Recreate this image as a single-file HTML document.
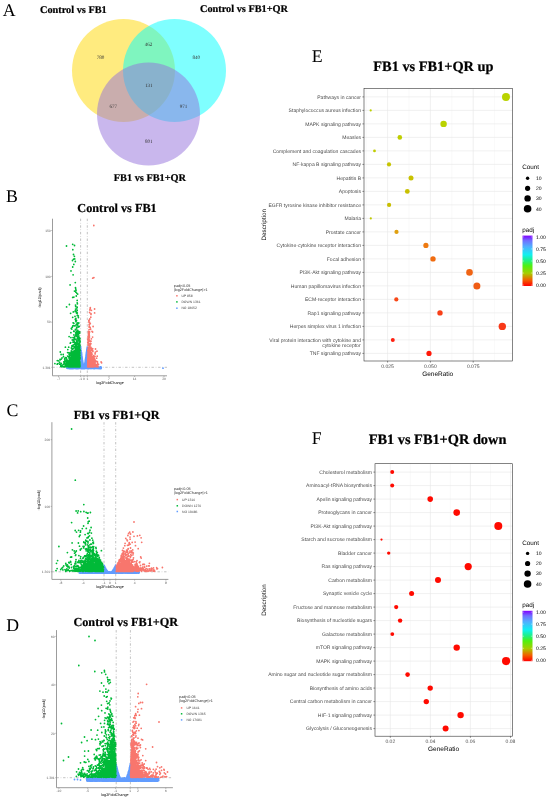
<!DOCTYPE html>
<html><head><meta charset="utf-8"><title>Figure</title>
<style>
html,body{margin:0;padding:0;background:#fff;}
svg{display:block;}
text{text-rendering:geometricPrecision;}
.bt{font-weight:bold;stroke:#000;stroke-width:0.22px;}
.serif{font-family:"Liberation Serif", serif;}
.sans{font-family:"Liberation Sans", sans-serif;}
</style></head><body>
<svg width="550" height="800" viewBox="0 0 550 800">
<defs>
<linearGradient id="rb" x1="0" y1="1" x2="0" y2="0">
<stop offset="0" stop-color="#FF0000"/>
<stop offset="0.12" stop-color="#F26000"/>
<stop offset="0.25" stop-color="#A8CC00"/>
<stop offset="0.4" stop-color="#50F010"/>
<stop offset="0.5" stop-color="#20F080"/>
<stop offset="0.62" stop-color="#10F0F0"/>
<stop offset="0.78" stop-color="#50B0FF"/>
<stop offset="0.9" stop-color="#7070FF"/>
<stop offset="1" stop-color="#8000FF"/>
</linearGradient>
</defs>
<rect width="550" height="800" fill="#fff"/>
<text x="2.7" y="15.6" font-size="17.8" class="serif">A</text>
<text x="6" y="201.7" font-size="17.8" class="serif">B</text>
<text x="6.4" y="416.2" font-size="17.8" class="serif">C</text>
<text x="6.2" y="630.9" font-size="17.8" class="serif">D</text>
<text x="311.8" y="61.7" font-size="17.8" class="serif">E</text>
<text x="311.8" y="444.4" font-size="17.8" class="serif">F</text>
<circle cx="123.5" cy="70.5" r="51.5" fill="#FFD700" fill-opacity="0.5"/>
<circle cx="174.5" cy="70.5" r="51.5" fill="#00FFFF" fill-opacity="0.5"/>
<circle cx="148.5" cy="114" r="51.5" fill="#9370DB" fill-opacity="0.5"/>
<text x="100.5" y="59" font-size="5.1" class="serif" text-anchor="middle" fill="#333">780</text>
<text x="148.5" y="46.2" font-size="5.1" class="serif" text-anchor="middle" fill="#333">462</text>
<text x="196.3" y="59.3" font-size="5.1" class="serif" text-anchor="middle" fill="#333">840</text>
<text x="148.7" y="87.3" font-size="5.1" class="serif" text-anchor="middle" fill="#333">131</text>
<text x="113.2" y="107.7" font-size="5.1" class="serif" text-anchor="middle" fill="#333">677</text>
<text x="183.6" y="107.7" font-size="5.1" class="serif" text-anchor="middle" fill="#333">971</text>
<text x="148.7" y="142.6" font-size="5.1" class="serif" text-anchor="middle" fill="#333">801</text>
<text x="40" y="12.7" font-size="10.3" class="serif bt">Control vs FB1</text>
<text x="200" y="12.4" font-size="10.3" class="serif bt">Control vs FB1+QR</text>
<text x="113.8" y="180.7" font-size="10.3" class="serif bt">FB1 vs FB1+QR</text>
<rect x="364" y="88.5" width="148.3" height="272.5" fill="#fff"/>
<path d="M366.2 88.5V361M409 88.5V361M451.8 88.5V361M494.6 88.5V361" stroke="#EEEEEE" stroke-width="0.35" fill="none"/>
<path d="M387.6 88.5V361M430.4 88.5V361M473.2 88.5V361M364 96.9H512.3M364 110.4H512.3M364 123.9H512.3M364 137.4H512.3M364 150.9H512.3M364 164.4H512.3M364 177.9H512.3M364 191.4H512.3M364 204.9H512.3M364 218.4H512.3M364 231.9H512.3M364 245.4H512.3M364 258.9H512.3M364 272.4H512.3M364 285.9H512.3M364 299.4H512.3M364 312.9H512.3M364 326.4H512.3M364 339.9H512.3M364 353.4H512.3" stroke="#E6E6E6" stroke-width="0.6" fill="none"/>
<circle cx="506" cy="96.9" r="4" fill="#B9D300"/>
<circle cx="370.7" cy="110.4" r="1.1" fill="#BCD000"/>
<circle cx="443.6" cy="123.9" r="3.2" fill="#BAD200"/>
<circle cx="399.8" cy="137.4" r="2.3" fill="#BFCE00"/>
<circle cx="374.5" cy="150.9" r="1.4" fill="#C0CC00"/>
<circle cx="389" cy="164.4" r="2.1" fill="#C6C400"/>
<circle cx="411" cy="177.9" r="2.5" fill="#C8C200"/>
<circle cx="407.3" cy="191.4" r="2.4" fill="#C8C000"/>
<circle cx="389.1" cy="204.9" r="2.1" fill="#C8BE00"/>
<circle cx="370.8" cy="218.4" r="1.1" fill="#BEC800"/>
<circle cx="396.5" cy="231.9" r="2.1" fill="#E0A010"/>
<circle cx="425.9" cy="245.4" r="2.6" fill="#EE7A10"/>
<circle cx="433" cy="258.9" r="2.7" fill="#F06C10"/>
<circle cx="469.5" cy="272.4" r="3.3" fill="#F06414"/>
<circle cx="476.9" cy="285.9" r="3.5" fill="#F05C14"/>
<circle cx="396.3" cy="299.4" r="2.1" fill="#F84818"/>
<circle cx="440" cy="312.9" r="2.7" fill="#F84018"/>
<circle cx="502.3" cy="326.4" r="3.7" fill="#F83818"/>
<circle cx="392.8" cy="339.9" r="2" fill="#FF2010"/>
<circle cx="429" cy="353.4" r="2.6" fill="#FF1808"/>
<rect x="364" y="88.5" width="148.3" height="272.5" fill="none" stroke="#333" stroke-width="0.6"/>
<text x="361" y="98.7" font-size="5.05" class="sans" text-anchor="end" fill="#4D4D4D">Pathways in cancer</text>
<text x="361" y="112.2" font-size="5.05" class="sans" text-anchor="end" fill="#4D4D4D">Staphylococcus aureus infection</text>
<text x="361" y="125.7" font-size="5.05" class="sans" text-anchor="end" fill="#4D4D4D">MAPK signaling pathway</text>
<text x="361" y="139.2" font-size="5.05" class="sans" text-anchor="end" fill="#4D4D4D">Measles</text>
<text x="361" y="152.7" font-size="5.05" class="sans" text-anchor="end" fill="#4D4D4D">Complement and coagulation cascades</text>
<text x="361" y="166.2" font-size="5.05" class="sans" text-anchor="end" fill="#4D4D4D">NF-kappa B signaling pathway</text>
<text x="361" y="179.7" font-size="5.05" class="sans" text-anchor="end" fill="#4D4D4D">Hepatitis B</text>
<text x="361" y="193.2" font-size="5.05" class="sans" text-anchor="end" fill="#4D4D4D">Apoptosis</text>
<text x="361" y="206.7" font-size="5.05" class="sans" text-anchor="end" fill="#4D4D4D">EGFR tyrosine kinase inhibitor resistance</text>
<text x="361" y="220.2" font-size="5.05" class="sans" text-anchor="end" fill="#4D4D4D">Malaria</text>
<text x="361" y="233.7" font-size="5.05" class="sans" text-anchor="end" fill="#4D4D4D">Prostate cancer</text>
<text x="361" y="247.2" font-size="5.05" class="sans" text-anchor="end" fill="#4D4D4D">Cytokine-cytokine receptor interaction</text>
<text x="361" y="260.7" font-size="5.05" class="sans" text-anchor="end" fill="#4D4D4D">Focal adhesion</text>
<text x="361" y="274.2" font-size="5.05" class="sans" text-anchor="end" fill="#4D4D4D">PI3K-Akt signaling pathway</text>
<text x="361" y="287.7" font-size="5.05" class="sans" text-anchor="end" fill="#4D4D4D">Human papillomavirus infection</text>
<text x="361" y="301.2" font-size="5.05" class="sans" text-anchor="end" fill="#4D4D4D">ECM-receptor interaction</text>
<text x="361" y="314.7" font-size="5.05" class="sans" text-anchor="end" fill="#4D4D4D">Rap1 signaling pathway</text>
<text x="361" y="328.2" font-size="5.05" class="sans" text-anchor="end" fill="#4D4D4D">Herpes simplex virus 1 infection</text>
<text x="361" y="341.7" font-size="5.05" class="sans" text-anchor="end" fill="#4D4D4D">Viral protein interaction with cytokine and</text>
<text x="360.6" y="346.7" font-size="5.05" class="sans" text-anchor="end" fill="#4D4D4D">cytokine receptor</text>
<text x="361" y="355.2" font-size="5.05" class="sans" text-anchor="end" fill="#4D4D4D">TNF signaling pathway</text>
<path d="M362.4 96.9H364M362.4 110.4H364M362.4 123.9H364M362.4 137.4H364M362.4 150.9H364M362.4 164.4H364M362.4 177.9H364M362.4 191.4H364M362.4 204.9H364M362.4 218.4H364M362.4 231.9H364M362.4 245.4H364M362.4 258.9H364M362.4 272.4H364M362.4 285.9H364M362.4 299.4H364M362.4 312.9H364M362.4 326.4H364M362.4 339.9H364M362.4 353.4H364M387.6 361V362.6M430.4 361V362.6M473.2 361V362.6" stroke="#333" stroke-width="0.55" fill="none"/>
<text x="387.6" y="367.7" font-size="5.05" class="sans" text-anchor="middle" fill="#4D4D4D">0.025</text>
<text x="430.4" y="367.7" font-size="5.05" class="sans" text-anchor="middle" fill="#4D4D4D">0.050</text>
<text x="473.2" y="367.7" font-size="5.05" class="sans" text-anchor="middle" fill="#4D4D4D">0.075</text>
<text x="437.7" y="375.8" font-size="6.5" class="sans" text-anchor="middle" fill="#000">GeneRatio</text>
<text transform="translate(265.6 224.75) rotate(-90)" font-size="6.3" class="sans" text-anchor="middle" fill="#000">Description</text>
<text x="373.3" y="70.5" font-size="14.35" class="serif bt">FB1 vs FB1+QR up</text>
<text x="522.3" y="169.4" font-size="6.3" class="sans" fill="#000">Count</text>
<circle cx="527.6" cy="178.2" r="1.7" fill="#000"/>
<text x="536" y="180" font-size="5.05" class="sans" fill="#000">10</text>
<circle cx="527.6" cy="188.3" r="2.6" fill="#000"/>
<text x="536" y="190.1" font-size="5.05" class="sans" fill="#000">20</text>
<circle cx="527.6" cy="198.4" r="3.2" fill="#000"/>
<text x="536" y="200.2" font-size="5.05" class="sans" fill="#000">30</text>
<circle cx="527.6" cy="208.8" r="3.8" fill="#000"/>
<text x="536" y="210.6" font-size="5.05" class="sans" fill="#000">40</text>
<text x="522.3" y="232.2" font-size="6.3" class="sans" fill="#000">padj</text>
<rect x="522.5" y="235.6" width="10" height="50.4" fill="url(#rb)"/>
<text x="536" y="238.7" font-size="5.05" class="sans" fill="#000">1.00</text>
<path d="M522.5 236.9h1.6M530.9 236.9h1.6" stroke="#fff" stroke-width="0.4"/>
<text x="536" y="250.75" font-size="5.05" class="sans" fill="#000">0.75</text>
<path d="M522.5 248.95h1.6M530.9 248.95h1.6" stroke="#fff" stroke-width="0.4"/>
<text x="536" y="262.8" font-size="5.05" class="sans" fill="#000">0.50</text>
<path d="M522.5 261h1.6M530.9 261h1.6" stroke="#fff" stroke-width="0.4"/>
<text x="536" y="274.85" font-size="5.05" class="sans" fill="#000">0.25</text>
<path d="M522.5 273.05h1.6M530.9 273.05h1.6" stroke="#fff" stroke-width="0.4"/>
<text x="536" y="286.9" font-size="5.05" class="sans" fill="#000">0.00</text>
<path d="M522.5 285.1h1.6M530.9 285.1h1.6" stroke="#fff" stroke-width="0.4"/>
<rect x="375" y="463.7" width="137.3" height="272.5" fill="#fff"/>
<path d="M410.3 463.7V736.2M450.4 463.7V736.2M490.5 463.7V736.2" stroke="#EEEEEE" stroke-width="0.35" fill="none"/>
<path d="M390.3 463.7V736.2M430.4 463.7V736.2M470.4 463.7V736.2M510.5 463.7V736.2M375 472.1H512.3M375 485.6H512.3M375 499.1H512.3M375 512.6H512.3M375 526.1H512.3M375 539.6H512.3M375 553.1H512.3M375 566.6H512.3M375 580.1H512.3M375 593.6H512.3M375 607.1H512.3M375 620.6H512.3M375 634.1H512.3M375 647.6H512.3M375 661.1H512.3M375 674.6H512.3M375 688.1H512.3M375 701.6H512.3M375 715.1H512.3M375 728.6H512.3" stroke="#E6E6E6" stroke-width="0.6" fill="none"/>
<circle cx="392.2" cy="472.1" r="2" fill="#FF0A00"/>
<circle cx="392.2" cy="485.6" r="2" fill="#FF0A00"/>
<circle cx="430.2" cy="499.1" r="2.8" fill="#FF0A00"/>
<circle cx="456.7" cy="512.6" r="3.3" fill="#FF0A00"/>
<circle cx="498.3" cy="526.1" r="4" fill="#FF0A00"/>
<circle cx="381.5" cy="539.6" r="1.1" fill="#FF0A00"/>
<circle cx="388.7" cy="553.1" r="1.7" fill="#FF0A00"/>
<circle cx="468.2" cy="566.6" r="3.6" fill="#FF0A00"/>
<circle cx="438" cy="580.1" r="3" fill="#FF0A00"/>
<circle cx="411.6" cy="593.6" r="2.5" fill="#FF0A00"/>
<circle cx="396.2" cy="607.1" r="2.1" fill="#FF0A00"/>
<circle cx="400.1" cy="620.6" r="2.2" fill="#FF0A00"/>
<circle cx="392.3" cy="634.1" r="1.9" fill="#FF0A00"/>
<circle cx="456.7" cy="647.6" r="3.2" fill="#FF0A00"/>
<circle cx="506.1" cy="661.1" r="4.1" fill="#FF0A00"/>
<circle cx="407.6" cy="674.6" r="2.3" fill="#FF0A00"/>
<circle cx="430.2" cy="688.1" r="2.7" fill="#FF0A00"/>
<circle cx="426.3" cy="701.6" r="2.7" fill="#FF0A00"/>
<circle cx="460.6" cy="715.1" r="3.2" fill="#FF0A00"/>
<circle cx="445.6" cy="728.6" r="3" fill="#FF0A00"/>
<rect x="375" y="463.7" width="137.3" height="272.5" fill="none" stroke="#333" stroke-width="0.6"/>
<text x="372" y="473.9" font-size="5.05" class="sans" text-anchor="end" fill="#4D4D4D">Cholesterol metabolism</text>
<text x="372" y="487.4" font-size="5.05" class="sans" text-anchor="end" fill="#4D4D4D">Aminoacyl-tRNA biosynthesis</text>
<text x="372" y="500.9" font-size="5.05" class="sans" text-anchor="end" fill="#4D4D4D">Apelin signaling pathway</text>
<text x="372" y="514.4" font-size="5.05" class="sans" text-anchor="end" fill="#4D4D4D">Proteoglycans in cancer</text>
<text x="372" y="527.9" font-size="5.05" class="sans" text-anchor="end" fill="#4D4D4D">PI3K-Akt signaling pathway</text>
<text x="372" y="541.4" font-size="5.05" class="sans" text-anchor="end" fill="#4D4D4D">Starch and sucrose metabolism</text>
<text x="372" y="554.9" font-size="5.05" class="sans" text-anchor="end" fill="#4D4D4D">Bladder cancer</text>
<text x="372" y="568.4" font-size="5.05" class="sans" text-anchor="end" fill="#4D4D4D">Ras signaling pathway</text>
<text x="372" y="581.9" font-size="5.05" class="sans" text-anchor="end" fill="#4D4D4D">Carbon metabolism</text>
<text x="372" y="595.4" font-size="5.05" class="sans" text-anchor="end" fill="#4D4D4D">Synaptic vesicle cycle</text>
<text x="372" y="608.9" font-size="5.05" class="sans" text-anchor="end" fill="#4D4D4D">Fructose and mannose metabolism</text>
<text x="372" y="622.4" font-size="5.05" class="sans" text-anchor="end" fill="#4D4D4D">Biosynthesis of nucleotide sugars</text>
<text x="372" y="635.9" font-size="5.05" class="sans" text-anchor="end" fill="#4D4D4D">Galactose metabolism</text>
<text x="372" y="649.4" font-size="5.05" class="sans" text-anchor="end" fill="#4D4D4D">mTOR signaling pathway</text>
<text x="372" y="662.9" font-size="5.05" class="sans" text-anchor="end" fill="#4D4D4D">MAPK signaling pathway</text>
<text x="372" y="676.4" font-size="5.05" class="sans" text-anchor="end" fill="#4D4D4D">Amino sugar and nucleotide sugar metabolism</text>
<text x="372" y="689.9" font-size="5.05" class="sans" text-anchor="end" fill="#4D4D4D">Biosynthesis of amino acids</text>
<text x="372" y="703.4" font-size="5.05" class="sans" text-anchor="end" fill="#4D4D4D">Central carbon metabolism in cancer</text>
<text x="372" y="716.9" font-size="5.05" class="sans" text-anchor="end" fill="#4D4D4D">HIF-1 signaling pathway</text>
<text x="372" y="730.4" font-size="5.05" class="sans" text-anchor="end" fill="#4D4D4D">Glycolysis / Gluconeogenesis</text>
<path d="M373.4 472.1H375M373.4 485.6H375M373.4 499.1H375M373.4 512.6H375M373.4 526.1H375M373.4 539.6H375M373.4 553.1H375M373.4 566.6H375M373.4 580.1H375M373.4 593.6H375M373.4 607.1H375M373.4 620.6H375M373.4 634.1H375M373.4 647.6H375M373.4 661.1H375M373.4 674.6H375M373.4 688.1H375M373.4 701.6H375M373.4 715.1H375M373.4 728.6H375M390.3 736.2V737.8M430.4 736.2V737.8M470.4 736.2V737.8M510.5 736.2V737.8" stroke="#333" stroke-width="0.55" fill="none"/>
<text x="390.3" y="742.9" font-size="5.05" class="sans" text-anchor="middle" fill="#4D4D4D">0.02</text>
<text x="430.4" y="742.9" font-size="5.05" class="sans" text-anchor="middle" fill="#4D4D4D">0.04</text>
<text x="470.4" y="742.9" font-size="5.05" class="sans" text-anchor="middle" fill="#4D4D4D">0.06</text>
<text x="510.5" y="742.9" font-size="5.05" class="sans" text-anchor="middle" fill="#4D4D4D">0.08</text>
<text x="443.6" y="751" font-size="6.5" class="sans" text-anchor="middle" fill="#000">GeneRatio</text>
<text transform="translate(265.6 599.95) rotate(-90)" font-size="6.3" class="sans" text-anchor="middle" fill="#000">Description</text>
<text x="368.7" y="444.1" font-size="14.35" class="serif bt">FB1 vs FB1+QR down</text>
<text x="522.3" y="544.6" font-size="6.3" class="sans" fill="#000">Count</text>
<circle cx="527.6" cy="553.4" r="1.7" fill="#000"/>
<text x="536" y="555.2" font-size="5.05" class="sans" fill="#000">10</text>
<circle cx="527.6" cy="563.5" r="2.6" fill="#000"/>
<text x="536" y="565.3" font-size="5.05" class="sans" fill="#000">20</text>
<circle cx="527.6" cy="573.6" r="3.2" fill="#000"/>
<text x="536" y="575.4" font-size="5.05" class="sans" fill="#000">30</text>
<circle cx="527.6" cy="584" r="3.8" fill="#000"/>
<text x="536" y="585.8" font-size="5.05" class="sans" fill="#000">40</text>
<text x="522.3" y="607.4" font-size="6.3" class="sans" fill="#000">padj</text>
<rect x="522.5" y="610.8" width="10" height="50.4" fill="url(#rb)"/>
<text x="536" y="613.9" font-size="5.05" class="sans" fill="#000">1.00</text>
<path d="M522.5 612.1h1.6M530.9 612.1h1.6" stroke="#fff" stroke-width="0.4"/>
<text x="536" y="625.95" font-size="5.05" class="sans" fill="#000">0.75</text>
<path d="M522.5 624.15h1.6M530.9 624.15h1.6" stroke="#fff" stroke-width="0.4"/>
<text x="536" y="638" font-size="5.05" class="sans" fill="#000">0.50</text>
<path d="M522.5 636.2h1.6M530.9 636.2h1.6" stroke="#fff" stroke-width="0.4"/>
<text x="536" y="650.05" font-size="5.05" class="sans" fill="#000">0.25</text>
<path d="M522.5 648.25h1.6M530.9 648.25h1.6" stroke="#fff" stroke-width="0.4"/>
<text x="536" y="662.1" font-size="5.05" class="sans" fill="#000">0.00</text>
<path d="M522.5 660.3h1.6M530.9 660.3h1.6" stroke="#fff" stroke-width="0.4"/>
<path d="M80.6 218.7V375.8M87.3 218.7V375.8M52.5 367.3H167" stroke="#9a9a9a" stroke-width="0.6" stroke-dasharray="2.4 1.8 0.6 1.8" fill="none"/>
<path d="M80.6 347.3L80.8 348.5L80.9 349.7L81.1 350.9L81.3 352.1L81.4 353.3L81.6 354.4L81.8 355.6L81.9 356.8L82.1 357.9L82.3 359.0L82.4 360.2L82.6 361.3L82.8 362.4L82.9 363.4L83.1 364.5L83.3 365.6L83.4 366.6L83.6 367.6L83.8 368.5L83.9 369.3L84.1 368.5L84.3 367.6L84.5 366.6L84.6 365.6L84.8 364.5L85.0 363.4L85.1 362.4L85.3 361.3L85.5 360.2L85.6 359.0L85.8 357.9L86.0 356.8L86.1 355.6L86.3 354.4L86.5 353.3L86.6 352.1L86.8 350.9L87.0 349.7L87.1 348.5L87.3 347.3L87.3 369.0L80.6 369.0Z" fill="#619CFF"/>
<rect x="68" y="367.5" width="32.3" height="1.5" fill="#619CFF"/>
<path d="M82.5 367.8h0M98.7 367.9h0M84.4 367.7h0M73.3 367.8h0M88.6 367.5h0M70.2 368.1h0M70.1 367.4h0M90.8 368.4h0M100.7 367.2h0M89.4 367.7h0M72.4 368.5h0M85.1 368.4h0M73.5 368.2h0M68.0 367.9h0M82.1 367.4h0M84.8 367.7h0M84.1 367.6h0M82.7 368.1h0M101.2 367.2h0M95.8 367.6h0M77.8 368.2h0M76.9 368.4h0M93.3 368.0h0M96.0 368.0h0M99.9 367.4h0M67.0 368.2h0M98.2 367.9h0M100.6 368.0h0M69.5 367.7h0M93.7 368.1h0M70.0 368.1h0M100.1 367.5h0M71.0 368.2h0M70.5 368.4h0M94.3 368.3h0M86.2 367.9h0M73.5 367.5h0M71.5 367.7h0M71.0 368.0h0M74.3 368.1h0M100.3 367.5h0M77.4 367.3h0M74.2 368.0h0M96.3 367.7h0M70.4 367.2h0M74.3 368.2h0M93.5 368.1h0M77.2 368.4h0M70.1 367.7h0M75.3 367.7h0M79.7 367.9h0M99.9 367.9h0M86.7 367.4h0M73.3 368.3h0M98.2 367.4h0M75.6 368.3h0M92.4 367.3h0M73.7 367.3h0M97.3 367.7h0M81.5 368.4h0M68.3 367.2h0M75.2 367.6h0M75.8 367.4h0M87.5 368.1h0M73.0 367.6h0M69.4 368.2h0M86.2 367.4h0M88.1 368.1h0M98.5 368.2h0M67.6 368.2h0M82.3 368.4h0M73.0 368.0h0M86.6 368.3h0M79.4 367.3h0M100.6 367.6h0M90.7 367.7h0M71.8 368.5h0M67.6 367.3h0M91.0 367.2h0M67.7 367.7h0M83.5 367.6h0M77.9 367.2h0M69.6 367.8h0M92.3 367.3h0M92.3 367.6h0M94.2 367.3h0M79.1 367.6h0M97.9 367.4h0M81.3 367.5h0M96.6 367.8h0M88.4 368.0h0M87.0 367.7h0M69.8 367.7h0M101.1 367.4h0M92.0 368.0h0M92.2 367.7h0M82.1 367.4h0M69.9 367.5h0M68.0 367.7h0M83.5 368.2h0M91.0 367.9h0M88.1 367.3h0M75.8 368.5h0M77.3 367.6h0M73.9 368.3h0M98.1 367.6h0M82.2 367.3h0M78.2 367.6h0M73.8 367.9h0M94.6 367.3h0M97.2 368.0h0M87.0 368.1h0M71.7 367.9h0M95.7 367.4h0M91.4 367.3h0M76.5 368.3h0M82.5 368.1h0M74.3 368.0h0M88.5 367.9h0M77.8 367.4h0M100.7 367.9h0M69.6 368.5h0M96.9 368.4h0M91.3 367.8h0M77.6 367.5h0M67.7 368.3h0M82.6 368.5h0M95.5 368.2h0M71.8 368.4h0M88.6 367.9h0M88.6 367.6h0M94.7 367.3h0M90.5 368.2h0M83.3 368.3h0M67.4 367.9h0M91.5 368.3h0M76.3 368.1h0M90.9 367.8h0M88.1 367.5h0M80.5 367.5h0M98.1 368.4h0M99.0 367.6h0M71.5 367.9h0M88.5 367.3h0M79.9 367.8h0M97.2 367.5h0M99.4 367.9h0M89.3 368.2h0M91.8 367.4h0M89.0 367.6h0M74.3 367.3h0M100.6 367.2h0M85.4 367.5h0M78.0 367.3h0M96.4 368.0h0M69.8 367.9h0M85.9 367.5h0M83.7 368.5h0M94.8 368.4h0M94.4 368.3h0M78.5 367.5h0M71.8 368.3h0M84.7 367.6h0M95.8 367.6h0M99.4 367.9h0M99.6 368.4h0M74.6 367.8h0M77.0 367.6h0M88.9 367.8h0M95.9 367.8h0M77.7 368.0h0M96.0 367.3h0M74.1 367.4h0M100.2 367.8h0M86.7 368.2h0M85.4 367.8h0M87.8 368.5h0M100.3 367.8h0M80.7 367.5h0M86.3 367.9h0M90.7 368.4h0M85.5 368.0h0M99.8 367.3h0M76.2 367.9h0M71.4 367.9h0M95.0 367.3h0M83.3 368.1h0M73.6 367.7h0M98.7 368.3h0M93.7 368.5h0M73.7 368.2h0M90.6 368.1h0M79.2 367.7h0M70.6 367.5h0M71.2 367.8h0M75.6 368.2h0M85.2 367.9h0M79.9 368.0h0M85.2 368.3h0M74.0 367.7h0M88.9 367.8h0M96.2 367.7h0M96.4 368.2h0M92.4 367.4h0M98.0 368.1h0M77.8 367.3h0M74.5 367.2h0M97.4 368.3h0M75.2 367.6h0M75.9 368.4h0M95.5 368.0h0M94.1 368.3h0M80.8 367.6h0M67.6 368.2h0M90.4 367.3h0M100.2 368.3h0M84.3 367.5h0M84.2 367.6h0M73.5 368.4h0M70.6 368.5h0M85.9 367.8h0M86.5 368.3h0M73.3 368.2h0M95.8 367.2h0M98.8 368.4h0M69.1 367.3h0M82.8 367.5h0M78.2 367.9h0M84.7 367.9h0M87.6 368.5h0M91.0 367.4h0M73.2 367.9h0M92.4 368.0h0M73.7 368.3h0M84.6 368.5h0M97.6 367.5h0M91.2 367.4h0M88.6 368.0h0M87.6 367.8h0M100.7 367.5h0M75.9 367.3h0M92.5 367.5h0M94.9 368.0h0M97.8 367.4h0M90.8 367.5h0M93.2 368.0h0M91.8 368.4h0M78.7 367.9h0M67.4 368.0h0M88.9 367.7h0M75.0 367.3h0M89.8 368.1h0M89.6 367.8h0M85.3 368.0h0M101.3 367.7h0M91.1 367.5h0M100.6 368.5h0M88.1 367.5h0M75.8 368.0h0M68.7 368.2h0M79.9 368.4h0M75.6 367.3h0M85.9 367.8h0M100.2 367.8h0M101.1 367.7h0M94.8 368.4h0M87.5 367.5h0M68.5 367.3h0M72.5 367.9h0M72.8 367.9h0M88.0 368.4h0M99.4 368.0h0M85.1 367.7h0M79.5 368.1h0M89.5 367.8h0M76.7 367.6h0M77.2 368.5h0M75.4 368.4h0M72.4 367.5h0M80.4 367.3h0M92.7 368.4h0M100.9 367.3h0M69.5 367.3h0M81.7 367.9h0M100.4 368.2h0M85.0 367.3h0M91.8 367.9h0M100.6 367.4h0M87.7 368.4h0M88.4 367.9h0M74.0 368.4h0M85.1 368.3h0M82.2 367.6h0M82.6 368.2h0M87.0 368.0h0M93.7 367.8h0M101.2 367.3h0M92.2 368.2h0M70.9 367.3h0M93.9 367.7h0M79.3 368.1h0M90.5 367.8h0M87.3 367.7h0M92.8 368.3h0M75.5 367.2h0M98.4 367.4h0M68.4 368.4h0M76.3 367.9h0M88.4 368.4h0M85.6 368.4h0M70.0 367.6h0M85.9 367.7h0M79.8 367.9h0M74.2 368.1h0M92.5 367.4h0M69.6 368.3h0M94.8 367.7h0M93.4 368.2h0M81.6 368.2h0M94.8 368.0h0M89.4 367.2h0M78.2 367.8h0M92.6 367.3h0M81.7 368.0h0M70.3 367.4h0M69.7 368.4h0M86.4 367.9h0M90.5 368.1h0M93.6 368.4h0M74.3 367.6h0M69.8 368.1h0M91.9 367.6h0M76.7 368.3h0M79.3 367.6h0M79.6 368.3h0M91.3 367.8h0M98.5 367.3h0M98.3 367.9h0M94.5 368.1h0M77.9 368.0h0M99.1 367.3h0M75.5 368.0h0M79.5 368.0h0M80.6 368.0h0M73.7 367.8h0M94.3 367.8h0M95.7 367.8h0M73.1 367.5h0M97.2 368.1h0M67.8 367.8h0M85.7 367.8h0M100.1 367.7h0M94.6 368.4h0M85.8 367.5h0M69.9 368.4h0M92.3 367.3h0M69.9 367.7h0M71.9 367.5h0M89.3 368.2h0M74.6 367.5h0M84.9 367.5h0M80.5 368.1h0M100.2 367.6h0M83.9 367.8h0M91.7 367.6h0M98.4 368.0h0M95.3 367.6h0M96.3 367.5h0M95.6 367.3h0M99.9 367.7h0M85.0 367.6h0M94.5 368.0h0M81.4 368.3h0M92.4 367.2h0M79.9 368.3h0M74.0 367.9h0M77.0 367.2h0M69.0 368.1h0M70.9 367.7h0M93.6 368.3h0M69.1 367.9h0M87.0 367.3h0M68.2 368.4h0M73.3 368.2h0M75.1 367.6h0M87.4 368.2h0M73.3 368.1h0M72.9 367.5h0M77.7 367.8h0M95.0 367.9h0M75.9 367.3h0M98.4 368.1h0M85.8 367.3h0M83.6 368.2h0M68.7 367.3h0M94.5 368.0h0M85.1 367.8h0M76.4 367.2h0M89.6 368.2h0M67.4 367.9h0M79.7 367.5h0M91.5 367.7h0M72.4 368.3h0M78.0 368.2h0M96.8 367.8h0M88.8 367.2h0M76.1 367.8h0M72.2 367.5h0M67.0 367.4h0M96.0 367.4h0M69.8 368.1h0M91.6 368.4h0M83.5 367.9h0M99.8 367.7h0M96.4 368.1h0M94.1 368.0h0M98.4 368.4h0M95.3 368.2h0M85.6 367.8h0M72.4 367.4h0M77.7 368.1h0M69.6 368.1h0M83.0 367.6h0M79.3 367.6h0M70.6 368.0h0M82.8 367.2h0M95.5 367.6h0M67.4 368.0h0M91.4 368.2h0M86.3 367.9h0M67.4 367.2h0M94.4 368.2h0M88.1 368.1h0M79.9 367.8h0M77.2 368.1h0M80.5 367.6h0M75.8 368.2h0M92.1 368.1h0M99.4 367.8h0M91.8 368.1h0M95.4 368.4h0M71.8 368.4h0M90.2 367.6h0M73.2 368.0h0M95.7 367.7h0M70.1 368.2h0M72.4 368.3h0M81.0 368.4h0M98.6 367.9h0M84.5 367.7h0M93.3 367.4h0M80.2 368.1h0M81.1 368.5h0M80.7 367.6h0M100.7 367.5h0M89.6 367.7h0M67.6 368.1h0M78.7 367.7h0M70.6 368.0h0M84.5 367.5h0M95.3 367.7h0M72.4 367.5h0M98.0 367.8h0M79.1 367.8h0M71.9 367.6h0M100.8 367.8h0M91.5 367.4h0M73.8 367.3h0M88.5 368.2h0M69.9 368.2h0M86.8 367.6h0M78.3 367.3h0M79.4 367.9h0M71.3 367.2h0M71.7 367.3h0M85.6 367.8h0M86.2 368.2h0M98.2 367.2h0M95.0 367.7h0M71.2 367.4h0M76.9 367.3h0M75.3 367.8h0M95.5 368.3h0M85.8 368.4h0M68.1 368.3h0M100.9 367.3h0M89.6 368.1h0M90.0 367.5h0M80.1 367.7h0M94.6 368.5h0M73.8 367.9h0M71.9 368.0h0M86.5 368.3h0M84.8 368.2h0M86.5 368.1h0M89.0 368.5h0M90.0 368.3h0M99.9 367.7h0M83.1 368.0h0M88.4 367.6h0M93.0 367.5h0M83.7 367.2h0M95.8 367.4h0M81.0 367.9h0M86.4 367.3h0M85.0 367.8h0M81.8 367.3h0M78.0 368.4h0M91.9 367.3h0M92.1 367.7h0M92.8 368.1h0M87.4 368.4h0M71.3 367.9h0M84.2 368.0h0M68.8 367.6h0M85.0 368.2h0M77.5 368.0h0M75.1 368.4h0M98.3 367.2h0M89.8 367.4h0M81.5 367.5h0M74.6 367.5h0M86.4 367.3h0M70.4 367.5h0M71.2 367.8h0M99.6 368.5h0M75.4 368.1h0M78.1 368.4h0M97.7 367.4h0M80.6 368.0h0M87.1 368.4h0M68.1 367.3h0M77.6 367.9h0M99.0 367.2h0M83.2 368.2h0M77.1 367.3h0M97.8 368.2h0M95.7 368.0h0M83.2 368.3h0M97.2 367.2h0M73.9 367.7h0M73.6 367.4h0M68.7 368.4h0M91.9 368.1h0M97.9 367.4h0M91.5 368.3h0M90.9 367.3h0M82.3 368.4h0M74.7 368.1h0M91.4 368.2h0M73.2 368.2h0M89.8 367.5h0M79.8 367.6h0M97.3 367.7h0M74.9 368.1h0M98.8 367.6h0M76.5 367.7h0M70.1 367.2h0M82.1 367.8h0M85.2 368.4h0M87.6 368.1h0M75.6 367.5h0M70.0 368.1h0M92.9 368.2h0M76.6 367.8h0M73.4 367.3h0M100.9 368.5h0M82.8 367.5h0M80.2 367.3h0M84.1 368.3h0M86.1 367.7h0M79.3 367.6h0M93.9 367.8h0M84.3 367.4h0M90.5 367.8h0M99.6 368.3h0M93.7 368.3h0M87.9 368.2h0M82.1 367.5h0M94.0 367.5h0M75.1 367.9h0M74.6 367.7h0M84.1 368.5h0M87.5 367.6h0M86.6 367.4h0M73.2 368.3h0M67.6 367.9h0M81.9 367.9h0M76.0 367.5h0M69.5 367.3h0M86.5 367.8h0M94.2 368.2h0M72.0 368.1h0M68.5 368.1h0M88.3 367.8h0M76.1 367.7h0M70.0 367.4h0M72.9 368.2h0M72.5 367.6h0M95.5 367.5h0M69.1 368.0h0M79.5 368.2h0M100.3 368.4h0M83.8 367.5h0M100.8 368.3h0M82.6 367.5h0M68.3 368.2h0M97.5 368.3h0M80.5 368.1h0M81.6 368.4h0M68.2 367.2h0M93.2 367.5h0M74.9 368.2h0M85.9 368.2h0M82.8 367.3h0M79.5 368.1h0M100.7 367.7h0M68.4 368.0h0M89.3 368.4h0M78.8 367.6h0M96.6 367.7h0M97.4 367.9h0M80.5 367.4h0M80.1 367.5h0M74.4 368.0h0M73.3 367.8h0M72.6 368.2h0M74.4 367.9h0M77.6 367.9h0M101.1 367.6h0M96.6 368.2h0M80.1 368.4h0M90.7 368.0h0M76.4 368.5h0M73.2 368.2h0M80.5 367.3h0M91.5 368.2h0M79.4 368.3h0M99.1 368.0h0M93.3 367.6h0M98.1 368.5h0M78.0 368.0h0M69.9 367.4h0M78.2 367.5h0M84.8 368.4h0M80.5 368.2h0M68.4 368.3h0M87.4 368.5h0M77.7 367.9h0M85.7 368.3h0M91.2 368.2h0M91.9 367.6h0M72.0 368.2h0M76.6 367.6h0M80.9 368.0h0M96.7 368.2h0M77.0 368.1h0M74.4 368.4h0M67.8 367.7h0M86.4 367.4h0M100.5 368.1h0M90.0 367.3h0M74.4 367.6h0M89.9 367.3h0M96.8 368.2h0M88.7 368.4h0M81.7 368.0h0M69.1 368.0h0M78.3 367.9h0M76.6 368.3h0M80.8 367.9h0M72.7 367.6h0M75.2 368.4h0M78.7 368.0h0M72.2 367.7h0M91.1 367.8h0M91.0 368.5h0M80.4 368.0h0M69.2 368.0h0M68.9 367.9h0M87.1 367.9h0M78.2 368.2h0M67.8 368.0h0M97.6 367.8h0M76.0 367.6h0M73.4 367.9h0M88.1 367.3h0M79.4 367.8h0M99.3 367.5h0M88.5 367.7h0M81.1 368.0h0M76.5 367.4h0M97.2 368.0h0M98.2 368.5h0M71.7 367.8h0M77.6 368.0h0M100.5 368.3h0M73.6 368.2h0M90.3 368.2h0M67.0 367.8h0M80.5 368.2h0M83.9 367.7h0M85.8 367.7h0M86.2 367.4h0M100.2 368.1h0M78.9 367.3h0M77.7 367.6h0M90.9 367.6h0M100.1 367.4h0M72.5 367.7h0M83.8 367.8h0M79.7 368.1h0M92.7 367.8h0M75.1 368.2h0M78.1 368.3h0M84.6 368.3h0M69.2 368.4h0M70.5 367.6h0M70.9 367.9h0M93.5 367.9h0M72.6 367.4h0M96.8 368.4h0M75.7 367.8h0M94.3 368.0h0M91.6 368.2h0M91.5 368.1h0M78.5 367.5h0M95.9 367.4h0M86.5 368.0h0M91.2 367.7h0M95.5 367.5h0M71.3 368.0h0M90.0 368.2h0M73.3 368.5h0M87.1 367.3h0M100.3 368.3h0M90.6 368.0h0M88.7 368.0h0M99.0 367.2h0M68.7 367.6h0M71.1 368.4h0M76.8 367.5h0M101.1 368.3h0M78.3 368.5h0M85.6 367.9h0M79.8 368.1h0M94.5 367.4h0M76.7 368.0h0M88.2 367.5h0M100.6 368.0h0M90.8 367.8h0M94.4 368.3h0M73.0 368.4h0M99.0 368.2h0M83.7 368.3h0M78.1 368.5h0M86.4 368.3h0M88.4 368.1h0M74.8 367.9h0M79.5 368.2h0M68.8 368.4h0M97.6 368.1h0M69.7 368.3h0M83.6 367.2h0M73.9 367.4h0M83.6 368.0h0M94.7 368.0h0M69.0 367.8h0M89.5 367.7h0M76.5 367.3h0M96.7 367.2h0M82.2 367.4h0M91.9 368.3h0M67.9 368.3h0M71.1 368.4h0M79.3 367.5h0M77.6 367.8h0M67.4 368.2h0M99.9 368.5h0M85.1 367.4h0M94.2 367.5h0M80.7 367.5h0M95.4 367.5h0M100.8 368.4h0M99.6 368.0h0M91.2 368.2h0M98.2 368.5h0M86.8 368.2h0M80.3 368.0h0M89.5 367.4h0M79.5 367.7h0M79.1 368.1h0M98.0 368.1h0M70.2 368.1h0M92.4 368.2h0M92.5 367.8h0M90.3 368.3h0M70.6 368.3h0M79.0 367.9h0M67.3 367.8h0M80.8 368.1h0M85.4 367.3h0M74.0 367.4h0M78.0 367.5h0M70.7 367.2h0M81.8 367.2h0M74.5 368.0h0M91.2 368.3h0M76.4 367.6h0M99.5 368.1h0M73.3 368.0h0M100.9 368.3h0M88.8 368.0h0M89.1 368.2h0M88.1 367.3h0M96.4 367.7h0M84.3 367.8h0M70.9 367.4h0M90.7 367.9h0M89.8 368.0h0M80.2 368.2h0M87.6 367.8h0M84.7 368.5h0M88.5 367.9h0M87.4 367.7h0M99.0 368.3h0M83.1 367.2h0M92.3 368.1h0M92.3 367.2h0M80.8 367.4h0M71.3 367.2h0M83.8 368.2h0M95.8 367.7h0M99.2 367.4h0M94.4 367.8h0M101.1 368.4h0M96.8 367.6h0M75.6 367.5h0M82.6 367.8h0M96.7 368.2h0M76.6 367.7h0M69.5 367.8h0M94.0 367.9h0M75.3 367.5h0M96.3 367.5h0M85.8 367.3h0M94.3 368.3h0M79.5 368.4h0M68.3 368.1h0M96.7 367.4h0M71.0 368.3h0M80.3 367.4h0M88.2 367.3h0M69.5 367.2h0M74.1 367.7h0M97.1 367.6h0M73.8 367.6h0M81.8 368.5h0M78.6 368.1h0M88.6 368.1h0M87.7 367.6h0M73.2 368.3h0M90.8 367.9h0M71.4 368.3h0M99.3 367.7h0M79.3 368.2h0M101.1 367.6h0M92.3 368.0h0M77.6 368.0h0M72.0 367.7h0M81.6 367.4h0M81.0 367.9h0M84.4 367.3h0M78.9 367.6h0M75.1 367.7h0M76.8 367.4h0M76.8 367.4h0M90.2 367.9h0M99.0 368.0h0M92.5 367.7h0M82.4 368.4h0M81.4 368.1h0M82.1 367.3h0M77.0 367.6h0M90.1 368.2h0M81.1 368.3h0M97.7 368.2h0M81.4 368.1h0M95.1 367.4h0M87.3 367.8h0M70.4 367.3h0M70.0 368.0h0M79.8 367.6h0M90.0 368.1h0M97.8 367.3h0M67.8 367.7h0M83.1 368.0h0M82.9 368.1h0M90.0 367.7h0M100.3 367.2h0M80.6 348.6h0M86.4 352.7h0M83.4 366.8h0M81.5 352.7h0M82.8 366.0h0M85.7 365.4h0M84.9 364.1h0M81.2 352.8h0M86.6 362.5h0M82.0 357.1h0M87.2 365.2h0M85.6 361.3h0M84.7 366.3h0M81.9 358.7h0M83.1 365.2h0M85.4 364.2h0M82.1 363.3h0M85.9 360.4h0M81.0 350.6h0M84.9 364.7h0M85.7 358.3h0M80.7 366.3h0M84.9 364.0h0M81.3 356.1h0M83.7 367.7h0M87.2 348.8h0M83.6 367.9h0M82.6 361.0h0M82.4 360.9h0M87.0 353.4h0M86.0 360.4h0M85.4 364.1h0M82.3 361.5h0M82.3 361.8h0M84.4 368.0h0M86.1 360.0h0M82.8 364.3h0M82.5 364.2h0M81.2 366.8h0M85.7 367.6h0M86.3 359.6h0M81.6 360.4h0M86.3 360.1h0M86.0 357.3h0M83.5 367.3h0M85.3 363.3h0M80.9 358.0h0M81.4 352.3h0M81.0 357.7h0M86.9 353.4h0M84.4 368.0h0M86.4 353.8h0M81.5 353.4h0M86.7 367.2h0M81.2 354.2h0M87.3 362.6h0M81.1 352.7h0M82.3 361.6h0M83.2 364.9h0M83.4 365.9h0M86.5 363.1h0M83.2 364.3h0M86.2 362.0h0M85.8 358.3h0M84.7 365.5h0M83.7 367.6h0M86.5 357.1h0M81.4 353.9h0M84.6 366.9h0M81.6 359.9h0M83.0 364.3h0M81.8 358.4h0M81.0 353.8h0M86.0 361.3h0M81.3 360.0h0M86.6 359.7h0M84.4 366.9h0M81.3 355.1h0M86.2 355.1h0M82.0 362.7h0M81.2 358.7h0M81.0 352.3h0M86.2 360.3h0M84.8 364.0h0M81.1 352.0h0M82.8 363.5h0M81.6 355.4h0M86.2 354.6h0M81.4 352.4h0M81.3 352.7h0M81.3 359.9h0M84.2 367.9h0M82.5 365.4h0M81.9 361.8h0M85.3 360.8h0M84.9 363.5h0M86.3 355.6h0M86.1 355.5h0M81.1 364.3h0M80.8 349.9h0M82.7 364.1h0M86.6 356.2h0M81.7 361.7h0M80.7 348.0h0M81.5 353.4h0M84.6 367.2h0M80.6 348.1h0M84.4 367.8h0M84.2 367.0h0M86.5 353.9h0M81.8 358.8h0M85.0 364.9h0M81.9 357.7h0M82.1 365.4h0M86.0 356.0h0M81.7 360.8h0M85.5 359.3h0M87.2 347.7h0M87.0 365.7h0M86.0 358.0h0M86.3 353.9h0M84.6 365.2h0M83.6 367.1h0M80.7 364.7h0M86.9 354.8h0M86.2 355.5h0M83.9 368.4h0M87.2 354.7h0M82.4 367.3h0M81.2 354.7h0M81.8 357.5h0M82.0 357.2h0M83.0 365.6h0M86.0 361.3h0M85.2 364.8h0M81.8 356.0h0M82.9 365.2h0M85.5 360.8h0M86.8 363.4h0M81.2 360.2h0M85.8 361.7h0M85.6 358.6h0M82.2 359.1h0M81.1 352.3h0M82.2 360.5h0M81.2 352.7h0M83.8 368.0h0M84.4 367.5h0M85.1 362.1h0M80.8 348.4h0M84.8 363.7h0M82.9 363.4h0M87.0 349.0h0M82.0 364.4h0M85.3 366.3h0M82.9 367.2h0M82.5 365.4h0M86.1 358.4h0M86.7 351.1h0M83.4 367.6h0M85.4 359.9h0M81.9 361.0h0M81.7 355.8h0M80.7 351.8h0M81.0 360.1h0M87.2 365.2h0M81.2 364.4h0M83.0 363.8h0M82.8 365.4h0M81.1 353.5h0M82.0 367.0h0M82.5 364.0h0M81.6 358.0h0M81.5 359.4h0M87.0 355.6h0M81.8 360.6h0M80.8 348.6h0M86.9 360.7h0M86.0 361.5h0M84.9 365.8h0M81.7 354.4h0M82.6 361.6h0M85.5 361.6h0M87.1 355.8h0M83.9 368.4h0M86.2 358.7h0M83.3 366.1h0M86.4 360.2h0M82.1 358.0h0M85.2 362.1h0M85.2 363.1h0M85.8 357.4h0M81.9 361.7h0M86.9 357.2h0M82.9 362.8h0M86.8 350.7h0M86.5 354.6h0M86.8 360.7h0M81.0 359.2h0M80.8 353.7h0M85.5 361.0h0M87.1 352.1h0M84.4 367.6h0M87.3 356.4h0M85.0 363.3h0M87.3 360.8h0M81.3 352.5h0M86.7 351.7h0M86.2 357.1h0M81.9 360.9h0M83.7 367.4h0M85.1 362.3h0M86.5 359.2h0M82.6 362.0h0M86.5 359.0h0M87.1 357.3h0M87.2 347.7h0M81.1 359.0h0M81.8 366.0h0M87.0 355.0h0M81.2 360.7h0M81.7 360.2h0M83.4 366.8h0M86.1 357.8h0M82.1 363.1h0M85.9 364.2h0M85.8 358.4h0M86.2 355.0h0M80.8 353.5h0M87.3 358.9h0M81.2 361.6h0M81.7 356.7h0M81.3 353.4h0M86.4 357.9h0M82.1 360.5h0M87.2 363.5h0M83.4 366.1h0M82.1 360.9h0M86.2 359.4h0M86.4 356.1h0M84.3 367.8h0M83.5 368.2h0M83.4 366.5h0M84.6 364.9h0M86.0 361.4h0M80.6 356.5h0M85.1 363.6h0M82.2 358.1h0M85.2 362.0h0M82.0 360.7h0M82.0 359.1h0M82.2 358.7h0M82.0 357.2h0M82.0 357.1h0M87.2 354.8h0M86.5 359.7h0M86.6 354.6h0M81.4 355.5h0M85.1 363.4h0M80.6 350.2h0M83.8 367.7h0M85.3 364.8h0M85.7 363.7h0M80.8 352.8h0M86.9 356.7h0M86.3 355.7h0M86.7 359.7h0M86.6 356.1h0M80.6 349.3h0M85.5 359.5h0M85.3 362.6h0M81.9 358.4h0M87.0 357.7h0M81.1 361.4h0M81.6 357.6h0M87.3 347.2h0M85.6 365.8h0M85.4 361.3h0M81.0 358.5h0M85.6 366.9h0M85.6 364.5h0M85.4 359.8h0M82.7 365.9h0M84.6 365.6h0M82.6 361.9h0M84.2 367.2h0M85.1 362.9h0M85.5 364.0h0M82.0 360.3h0M86.8 353.9h0M80.6 358.2h0M81.6 353.6h0M82.4 362.2h0M86.9 352.9h0M83.0 363.7h0M85.1 362.2h0M82.8 365.1h0M81.3 354.3h0M84.4 366.6h0M81.7 365.4h0M85.6 360.9h0M80.9 362.2h0M84.2 368.0h0M85.3 361.8h0M82.4 363.6h0M81.7 360.0h0M82.7 364.6h0M83.8 367.8h0M82.6 361.1h0M85.9 361.6h0M87.0 352.7h0M86.5 357.2h0M82.1 360.6h0M85.9 359.5h0M86.8 359.8h0M83.7 368.3h0M86.8 358.6h0M85.0 362.9h0M86.5 354.3h0M82.0 359.6h0M87.0 349.4h0M81.0 359.0h0M87.2 353.1h0M85.4 362.1h0M80.6 346.7h0M83.8 368.0h0M81.5 356.8h0M80.7 350.2h0M86.3 362.4h0M85.9 358.5h0M82.8 363.5h0M85.5 360.9h0M83.7 367.7h0M82.8 362.6h0M85.5 361.4h0M84.6 366.6h0M86.9 352.1h0M83.5 366.3h0M83.1 367.7h0M83.0 363.2h0M82.4 360.1h0M85.0 363.8h0M80.8 352.8h0M85.7 363.2h0M81.3 356.5h0M80.7 357.2h0M87.1 363.2h0M82.9 365.2h0M86.9 349.4h0M86.5 358.5h0M81.3 364.4h0M81.9 359.2h0M83.5 366.4h0M82.3 364.5h0M86.3 362.3h0M81.9 357.2h0M81.7 362.3h0M81.3 352.5h0M83.6 367.4h0M86.9 351.8h0M86.7 364.4h0M81.0 360.9h0M83.6 366.9h0M82.2 366.2h0M86.9 350.0h0M83.6 367.6h0M82.9 365.7h0M81.5 362.1h0M81.8 363.2h0M86.2 359.6h0M82.0 358.8h0M82.9 367.9h0M87.0 355.9h0M86.1 363.5h0M85.7 362.1h0M86.6 365.1h0M82.6 361.3h0M86.8 351.0h0M82.9 362.9h0M81.2 350.8h0M86.7 358.0h0M86.3 354.3h0M86.2 354.1h0M86.9 349.7h0M83.1 364.8h0M84.8 367.3h0M81.5 359.8h0M81.6 358.5h0M87.0 358.5h0M85.6 364.1h0M81.0 354.0h0M82.4 368.2h0M83.9 368.4h0M87.3 362.9h0M81.3 356.7h0M86.6 351.9h0M82.1 361.4h0M85.4 362.4h0M81.4 353.9h0M80.7 351.7h0M83.0 365.0h0M85.0 364.0h0M86.5 364.6h0M83.3 366.0h0M86.9 354.5h0M80.9 361.9h0M81.5 361.0h0M83.7 368.1h0M81.8 358.0h0M81.0 361.9h0M86.5 353.3h0M86.2 355.5h0M86.5 359.8h0M86.8 356.1h0M83.8 368.2h0M86.3 357.9h0M83.5 366.6h0M86.5 353.9h0M82.5 362.5h0M81.1 350.7h0M81.9 359.8h0M85.6 366.4h0M82.2 359.6h0M83.1 365.2h0M86.3 358.6h0M82.5 360.4h0M82.8 362.2h0M81.9 363.9h0M87.0 363.4h0M81.4 357.6h0M81.6 354.0h0M82.4 360.1h0M83.2 365.3h0M85.9 357.6h0M82.8 363.4h0M82.0 356.7h0M85.1 366.7h0M87.1 352.2h0M85.5 359.8h0M81.1 355.4h0M84.8 363.8h0M80.9 353.9h0M82.4 360.7h0M81.2 357.0h0M86.6 357.2h0M83.2 366.7h0M81.0 353.3h0M82.3 364.3h0M87.2 360.8h0M86.6 355.4h0M86.7 351.7h0M80.7 351.2h0M82.3 362.3h0M81.5 359.2h0M86.9 352.6h0M81.0 353.0h0M82.7 366.1h0M86.8 358.3h0M82.3 364.6h0M86.4 364.0h0M85.2 364.9h0M80.9 354.8h0M82.9 364.3h0M85.3 367.1h0M86.4 359.6h0M82.9 366.8h0M86.8 366.2h0M85.9 361.7h0M83.6 367.5h0M80.7 347.8h0M87.0 361.5h0M81.1 354.6h0M83.3 366.2h0M84.9 364.5h0M87.1 350.9h0M81.5 354.6h0M81.4 356.7h0M85.8 359.1h0M86.5 353.8h0M81.0 361.3h0M83.6 366.4h0M82.5 362.4h0M81.7 356.0h0M85.5 360.1h0M84.0 368.5h0M80.9 358.2h0M86.7 353.8h0M85.8 363.5h0M82.0 358.5h0M83.3 366.8h0M86.1 367.8h0M87.3 355.1h0M84.9 363.2h0M85.0 363.2h0M80.7 361.2h0M83.0 363.3h0M80.8 361.2h0M82.3 360.6h0M86.6 357.2h0M82.0 361.2h0M163.0 368.2h0" stroke="#619CFF" stroke-width="1.8" stroke-linecap="round" fill="none"/>
<path d="M71.7 360.1h0M74.6 356.6h0M76.9 323.9h0M78.3 315.8h0M76.6 366.5h0M78.9 356.1h0M76.0 365.6h0M80.0 340.9h0M72.0 352.5h0M78.8 336.7h0M68.8 364.9h0M76.8 360.1h0M77.3 365.1h0M72.3 366.3h0M78.1 366.4h0M77.8 350.6h0M70.5 365.6h0M79.4 366.1h0M76.6 355.4h0M77.7 362.7h0M79.5 357.1h0M76.2 361.9h0M79.9 355.3h0M75.6 356.9h0M79.6 354.4h0M75.9 355.6h0M76.2 365.9h0M67.7 361.5h0M76.9 360.9h0M67.5 361.1h0M68.8 366.1h0M74.7 360.3h0M65.8 361.5h0M72.3 327.2h0M75.2 362.7h0M78.2 366.5h0M71.9 345.9h0M76.9 364.5h0M75.3 261.5h0M79.1 365.9h0M79.3 364.4h0M79.7 361.6h0M79.1 357.0h0M78.6 366.4h0M73.0 354.6h0M76.5 356.9h0M73.7 359.7h0M77.6 366.4h0M72.7 360.2h0M78.3 357.4h0M79.5 365.6h0M69.7 353.1h0M79.2 354.1h0M68.9 366.7h0M67.5 364.6h0M75.4 354.5h0M73.4 356.5h0M77.7 366.7h0M61.7 366.6h0M73.2 365.4h0M63.3 364.4h0M78.8 323.0h0M58.7 360.8h0M72.0 359.9h0M76.3 364.0h0M70.9 332.7h0M76.5 350.9h0M76.2 361.9h0M78.4 352.2h0M79.8 364.0h0M69.6 362.9h0M77.2 357.5h0M79.4 363.6h0M70.7 366.2h0M79.9 365.3h0M64.2 363.3h0M72.4 366.8h0M79.9 364.9h0M77.7 357.4h0M78.1 339.5h0M75.2 343.6h0M76.5 365.2h0M75.7 350.3h0M76.0 290.3h0M75.8 355.3h0M75.3 354.2h0M77.7 357.4h0M70.1 364.9h0M78.6 365.8h0M78.3 365.6h0M73.0 363.1h0M74.0 366.7h0M75.8 366.8h0M77.5 363.7h0M74.1 355.8h0M54.9 363.6h0M72.8 366.0h0M73.3 339.8h0M79.3 365.1h0M74.5 365.4h0M75.2 311.6h0M78.8 363.8h0M76.7 364.1h0M76.0 362.4h0M77.8 354.7h0M69.5 357.4h0M80.2 349.9h0M79.3 364.7h0M74.9 325.9h0M76.8 366.6h0M76.0 351.9h0M66.5 357.9h0M79.8 340.5h0M79.4 365.9h0M72.9 352.6h0M77.6 364.4h0M73.5 366.7h0M79.3 358.0h0M76.7 350.8h0M79.0 363.5h0M76.7 328.8h0M76.9 354.1h0M74.4 362.0h0M69.8 366.5h0M76.2 350.5h0M79.1 362.0h0M70.7 359.2h0M79.4 351.2h0M75.1 362.8h0M78.6 363.3h0M72.2 362.6h0M78.5 365.4h0M76.4 345.9h0M70.4 365.8h0M65.4 360.8h0M77.4 351.6h0M74.9 364.8h0M76.4 355.2h0M67.2 366.7h0M77.1 366.3h0M74.1 331.4h0M78.6 361.2h0M76.7 332.0h0M66.6 359.3h0M75.0 365.7h0M71.3 328.4h0M78.7 359.0h0M76.9 331.2h0M72.3 365.4h0M78.5 362.0h0M72.8 365.6h0M79.5 363.2h0M64.7 359.6h0M73.9 362.6h0M77.8 366.4h0M77.7 294.1h0M73.0 365.9h0M77.3 362.9h0M78.0 355.2h0M74.0 356.1h0M72.3 340.0h0M66.0 357.8h0M73.5 362.8h0M74.4 358.3h0M61.2 363.3h0M79.8 352.2h0M75.0 359.7h0M71.5 362.0h0M77.8 362.0h0M60.2 359.8h0M74.6 355.4h0M78.4 360.1h0M78.6 337.1h0M78.6 350.8h0M78.4 361.5h0M72.6 362.7h0M77.2 362.9h0M77.9 363.9h0M74.1 362.5h0M77.0 355.2h0M69.5 364.5h0M75.8 366.5h0M73.9 297.1h0M67.3 363.0h0M72.7 364.6h0M71.8 361.9h0M74.3 338.2h0M78.5 359.5h0M78.6 357.6h0M72.7 348.9h0M75.7 361.4h0M78.5 360.2h0M74.6 359.8h0M67.2 362.0h0M77.8 356.5h0M79.4 365.8h0M77.4 360.8h0M76.6 352.5h0M77.4 362.8h0M67.5 360.5h0M77.5 352.8h0M75.5 364.2h0M76.8 353.8h0M74.3 361.5h0M79.3 366.5h0M79.8 354.7h0M79.5 361.0h0M77.8 360.9h0M79.0 360.6h0M78.2 360.7h0M77.2 365.2h0M78.5 338.4h0M71.4 361.1h0M73.2 363.9h0M76.4 366.9h0M75.0 360.1h0M74.7 337.0h0M78.4 317.5h0M78.1 350.3h0M78.7 359.9h0M71.7 366.9h0M70.8 361.7h0M77.5 365.0h0M79.2 340.6h0M75.4 349.5h0M75.2 366.5h0M74.9 366.5h0M76.3 360.9h0M76.9 363.6h0M76.7 357.6h0M73.6 259.2h0M72.5 346.2h0M77.9 358.9h0M71.8 359.6h0M73.6 365.0h0M77.7 360.9h0M74.5 366.5h0M74.5 347.1h0M60.3 352.0h0M79.9 357.9h0M79.5 363.6h0M78.3 332.6h0M77.6 364.8h0M72.5 365.2h0M79.5 349.5h0M73.4 361.5h0M73.7 363.3h0M61.3 359.1h0M67.0 365.5h0M77.7 362.0h0M77.6 363.6h0M73.1 361.9h0M77.7 352.9h0M76.7 366.0h0M76.1 360.0h0M67.5 364.7h0M75.3 364.4h0M74.8 356.2h0M80.0 357.8h0M57.3 360.6h0M77.0 365.1h0M64.5 363.7h0M76.1 349.0h0M75.4 358.2h0M73.0 355.2h0M79.5 353.8h0M70.3 362.5h0M68.8 366.4h0M78.1 365.9h0M73.3 362.0h0M79.5 363.8h0M78.2 360.4h0M77.6 363.1h0M76.8 360.4h0M78.3 346.4h0M75.2 310.8h0M72.6 358.9h0M76.3 366.1h0M78.6 353.2h0M77.3 347.1h0M77.0 356.9h0M79.1 358.8h0M71.5 357.5h0M61.6 366.7h0M75.5 366.4h0M77.5 333.1h0M80.0 363.1h0M77.1 334.6h0M71.8 365.6h0M77.7 363.7h0M77.7 359.2h0M76.3 366.6h0M71.8 361.7h0M77.8 335.9h0M71.4 361.0h0M79.7 338.6h0M78.5 355.8h0M79.9 342.2h0M78.3 364.7h0M79.1 364.4h0M77.3 360.9h0M74.7 361.2h0M76.0 311.4h0M79.5 347.0h0M68.4 366.4h0M78.4 360.6h0M77.4 359.9h0M74.8 364.8h0M74.1 365.0h0M79.7 358.6h0M73.6 365.9h0M71.4 361.8h0M73.4 359.7h0M76.7 363.5h0M76.1 351.1h0M79.4 361.5h0M78.3 364.3h0M72.0 366.9h0M75.9 364.9h0M75.6 309.1h0M69.8 362.1h0M72.1 361.2h0M74.9 363.0h0M78.4 359.1h0M74.2 365.1h0M64.4 363.0h0M76.0 349.2h0M78.2 348.0h0M79.7 348.1h0M77.6 363.7h0M75.8 359.4h0M75.2 363.4h0M76.9 364.5h0M68.4 364.5h0M70.7 342.6h0M79.2 363.3h0M75.7 364.5h0M77.8 363.2h0M62.1 365.5h0M78.7 351.1h0M79.5 366.6h0M79.1 364.5h0M79.0 366.7h0M64.1 363.4h0M75.7 361.1h0M72.9 365.1h0M61.1 354.5h0M79.8 357.3h0M69.8 363.0h0M73.8 348.2h0M78.0 351.6h0M73.7 364.5h0M71.3 328.5h0M77.1 365.5h0M79.9 355.5h0M79.2 326.5h0M74.2 362.8h0M74.6 362.1h0M78.8 352.0h0M74.2 357.9h0M74.2 354.7h0M77.9 364.6h0M65.8 364.5h0M76.2 366.2h0M78.7 363.1h0M74.6 339.0h0M64.6 366.3h0M77.4 357.1h0M80.1 341.7h0M69.1 358.3h0M79.0 366.7h0M79.7 363.4h0M68.8 357.0h0M73.7 366.2h0M74.4 364.9h0M73.7 363.2h0M79.4 345.8h0M79.1 355.2h0M74.7 351.8h0M77.0 358.8h0M76.3 364.0h0M79.1 365.4h0M78.4 357.5h0M74.5 291.1h0M76.2 345.2h0M74.9 351.4h0M79.4 364.1h0M78.5 360.0h0M79.0 363.1h0M76.9 351.9h0M78.4 360.2h0M78.6 363.3h0M70.8 362.8h0M76.8 365.2h0M72.5 363.0h0M78.2 352.6h0M75.4 329.3h0M80.0 365.9h0M77.4 357.7h0M79.9 353.1h0M77.9 360.7h0M74.3 366.0h0M70.2 357.5h0M70.6 357.5h0M76.9 348.6h0M77.5 364.3h0M72.6 365.3h0M70.5 364.4h0M71.5 364.0h0M78.2 361.7h0M71.7 356.1h0M74.4 351.2h0M75.1 363.8h0M72.5 363.9h0M74.7 362.9h0M63.9 366.8h0M77.8 365.2h0M74.6 365.4h0M73.1 364.3h0M78.9 366.3h0M74.0 355.3h0M77.6 355.4h0M72.1 365.1h0M68.6 366.6h0M78.9 340.1h0M77.0 362.3h0M74.1 337.4h0M76.3 343.5h0M75.0 357.7h0M66.6 306.9h0M76.6 364.5h0M71.4 366.4h0M78.7 346.4h0M73.4 365.1h0M78.2 327.0h0M76.9 364.4h0M73.2 356.9h0M72.7 363.2h0M72.5 365.6h0M75.2 366.2h0M77.9 362.1h0M80.0 357.6h0M78.3 343.9h0M71.8 329.1h0M74.9 342.7h0M79.1 361.6h0M74.5 360.0h0M76.4 366.3h0M71.7 351.2h0M78.6 351.4h0M75.3 365.5h0M73.9 360.5h0M75.9 359.1h0M77.3 355.3h0M79.6 362.4h0M78.6 354.1h0M78.1 363.9h0M64.8 361.2h0M76.5 365.8h0M74.4 256.3h0M77.8 365.9h0M76.8 348.8h0M71.5 353.3h0M73.4 366.7h0M77.5 365.8h0M79.6 362.9h0M65.1 366.6h0M79.8 363.6h0M69.9 355.6h0M74.7 360.8h0M75.8 365.5h0M77.5 348.8h0M76.2 324.9h0M79.2 354.1h0M78.8 362.4h0M69.3 362.1h0M77.2 366.8h0M78.8 335.8h0M78.6 366.0h0M76.2 366.6h0M73.5 364.3h0M67.6 356.1h0M79.2 366.5h0M69.9 364.1h0M70.7 359.8h0M76.3 360.3h0M69.2 361.0h0M60.8 366.2h0M75.8 364.5h0M78.5 340.9h0M76.9 361.7h0M75.7 363.2h0M73.7 325.7h0M75.0 360.9h0M79.3 366.2h0M76.8 365.1h0M77.4 359.6h0M76.0 339.2h0M71.0 357.2h0M78.9 363.1h0M73.0 362.1h0M75.4 319.2h0M78.4 354.5h0M74.1 352.5h0M72.9 364.9h0M77.2 365.6h0M71.6 366.7h0M78.0 338.3h0M71.8 363.2h0M78.8 366.2h0M74.7 366.2h0M77.5 349.4h0M71.3 355.4h0M79.7 363.5h0M75.9 366.8h0M72.4 366.9h0M73.0 360.7h0M77.7 354.6h0M79.1 364.0h0M71.9 361.2h0M75.9 351.0h0M78.8 361.4h0M78.0 360.6h0M78.7 343.2h0M76.9 293.3h0M76.6 366.6h0M66.5 364.8h0M74.2 359.4h0M79.7 362.3h0M69.5 365.9h0M69.6 366.4h0M74.7 258.9h0M73.6 351.7h0M77.2 363.4h0M68.6 365.1h0M73.8 365.9h0M74.1 365.4h0M79.6 365.7h0M78.0 365.3h0M78.3 364.7h0M72.5 363.5h0M77.7 366.2h0M78.6 366.5h0M76.1 361.9h0M76.7 365.6h0M72.7 317.3h0M74.3 356.5h0M78.7 331.9h0M76.1 365.3h0M68.3 365.6h0M74.9 364.8h0M74.3 360.2h0M75.0 358.9h0M78.1 363.8h0M63.2 354.5h0M76.3 364.1h0M72.7 361.1h0M78.3 363.2h0M71.9 359.5h0M77.3 351.0h0M74.3 366.6h0M65.9 366.6h0M78.8 361.1h0M77.4 336.8h0M78.5 360.6h0M74.4 363.8h0M76.2 360.9h0M79.5 362.6h0M74.7 353.5h0M72.3 364.8h0M72.9 342.1h0M74.1 358.3h0M73.5 365.8h0M75.5 305.1h0M72.2 362.3h0M75.1 366.4h0M73.6 364.6h0M77.6 366.3h0M65.9 361.7h0M77.4 361.3h0M74.6 359.9h0M78.4 359.3h0M76.4 363.8h0M71.6 359.4h0M75.0 363.2h0M71.2 364.3h0M77.5 361.2h0M77.9 348.1h0M74.8 354.9h0M72.0 363.3h0M76.2 358.6h0M71.3 351.0h0M79.2 365.9h0M79.0 352.1h0M78.5 357.3h0M74.4 361.7h0M67.6 363.0h0M72.0 364.1h0M76.9 336.3h0M76.0 352.7h0M78.3 366.7h0M76.5 363.2h0M75.4 344.5h0M78.8 366.4h0M76.0 332.1h0M75.1 366.5h0M77.3 313.0h0M79.7 358.0h0M75.1 357.8h0M75.9 355.8h0M75.9 349.4h0M69.4 362.3h0M77.8 351.4h0M78.2 359.1h0M75.0 355.8h0M77.0 344.4h0M69.9 361.8h0M78.7 366.4h0M76.3 363.7h0M76.4 360.9h0M74.4 365.5h0M75.7 364.8h0M78.9 361.4h0M74.4 365.6h0M76.5 361.1h0M69.4 359.6h0M78.5 354.8h0M76.4 356.6h0M77.0 364.8h0M72.5 260.5h0M78.0 358.4h0M76.4 364.5h0M78.4 347.7h0M71.2 361.6h0M75.2 351.4h0M75.9 292.2h0M70.2 353.7h0M73.3 344.8h0M79.6 332.0h0M73.4 365.9h0M74.3 359.0h0M69.1 362.7h0M66.9 366.0h0M77.6 355.7h0M79.2 363.3h0M73.7 359.5h0M74.5 366.1h0M75.2 353.9h0M73.1 366.5h0M75.9 357.8h0M77.7 359.9h0M79.8 357.9h0M78.3 339.1h0M71.5 355.3h0M77.2 366.3h0M75.3 357.7h0M72.3 361.8h0M74.9 353.8h0M74.6 365.9h0M75.6 366.3h0M72.7 366.7h0M72.6 364.9h0M77.5 363.5h0M71.0 270.9h0M78.8 364.5h0M78.8 366.3h0M78.4 365.1h0M74.1 364.4h0M73.7 365.7h0M80.0 358.7h0M71.2 366.0h0M78.9 362.1h0M78.7 364.4h0M75.5 366.4h0M76.6 363.4h0M66.4 357.9h0M75.6 349.0h0M75.0 343.4h0M78.5 366.5h0M75.5 360.4h0M72.0 346.7h0M74.6 358.9h0M75.6 363.5h0M76.9 355.3h0M76.5 320.4h0M79.5 365.9h0M78.5 339.1h0M72.3 357.6h0M77.3 366.9h0M75.3 357.2h0M76.2 359.1h0M66.7 360.1h0M71.3 357.4h0M64.7 358.3h0M75.0 364.2h0M73.9 323.3h0M70.3 359.0h0M68.6 361.1h0M76.2 343.1h0M76.6 347.9h0M75.5 287.7h0M77.3 362.3h0M60.0 359.3h0M70.4 364.3h0M78.2 366.2h0M79.8 365.6h0M75.7 358.9h0M73.9 360.4h0M78.4 357.7h0M76.5 366.4h0M70.5 365.7h0M78.2 366.5h0M79.7 357.6h0M73.2 353.7h0M77.6 325.1h0M67.2 364.9h0M78.5 348.0h0M78.3 356.4h0M72.8 249.7h0M77.7 356.2h0M68.2 366.4h0M77.3 366.8h0M67.9 363.3h0M70.3 361.2h0M68.0 366.5h0M74.7 361.8h0M63.8 361.9h0M72.8 349.3h0M79.0 358.9h0M68.6 366.8h0M77.9 336.6h0M77.6 337.4h0M79.4 359.1h0M73.2 366.5h0M76.8 360.0h0M71.8 348.9h0M74.2 363.1h0M76.3 364.0h0M66.4 360.1h0M75.7 321.0h0M78.2 355.7h0M79.1 364.2h0M77.9 348.8h0M76.2 365.7h0M78.1 365.0h0M76.0 321.7h0M77.2 362.2h0M75.1 361.1h0M57.2 364.2h0M64.2 366.6h0M78.0 365.2h0M75.3 365.6h0M78.6 364.6h0M78.0 366.3h0M74.9 354.3h0M77.9 364.3h0M78.3 348.0h0M77.1 346.8h0M78.3 362.5h0M75.0 366.7h0M77.3 315.6h0M78.5 363.0h0M72.3 345.8h0M77.5 355.4h0M73.8 361.9h0M74.6 346.9h0M78.3 363.6h0M79.6 333.3h0M77.9 363.2h0M72.7 244.3h0M79.1 349.8h0M73.3 311.9h0M64.3 363.3h0M79.1 354.4h0M75.8 289.1h0M76.0 351.3h0M77.7 366.6h0M75.5 357.4h0M75.6 362.1h0M72.0 365.2h0M74.7 366.8h0M77.5 347.8h0M73.6 353.9h0M70.0 354.5h0M74.2 360.2h0M79.6 353.4h0M72.6 361.5h0M78.7 354.3h0M78.2 347.8h0M78.9 363.9h0M74.8 360.5h0M73.6 363.6h0M71.6 366.5h0M77.5 361.5h0M73.9 334.9h0M78.2 354.6h0M70.9 362.0h0M68.9 366.5h0M77.0 341.9h0M78.5 351.3h0M78.2 366.7h0M79.5 361.6h0M77.8 333.4h0M75.1 366.9h0M77.6 356.7h0M72.2 356.3h0M79.7 352.4h0M77.9 355.6h0M73.3 366.7h0M77.0 365.5h0M78.4 360.6h0M78.7 351.4h0M79.8 366.8h0M71.4 363.6h0M76.5 313.1h0M72.8 361.8h0M78.5 363.1h0M71.5 364.9h0M62.7 366.7h0M79.9 357.7h0M79.4 331.6h0M75.0 366.8h0M77.2 300.4h0M77.8 357.4h0M69.5 366.9h0M75.1 360.3h0M77.8 365.0h0M72.1 364.8h0M70.3 343.2h0M73.3 352.9h0M78.5 365.8h0M73.8 331.2h0M78.3 364.1h0M76.4 354.5h0M77.9 366.5h0M78.3 326.4h0M69.1 336.6h0M72.5 351.8h0M74.2 366.7h0M77.2 365.9h0M76.5 357.8h0M78.1 364.7h0M75.6 366.8h0M69.8 363.5h0M78.5 358.3h0M63.5 356.7h0M79.1 357.6h0M75.3 351.1h0M64.0 362.0h0M76.6 344.9h0M78.6 352.9h0M77.6 361.8h0M79.6 341.7h0M75.8 359.8h0M79.9 366.8h0M77.5 323.0h0M71.2 360.1h0M79.3 364.1h0M75.9 354.6h0M79.7 341.3h0M72.4 366.6h0M74.9 362.9h0M77.3 365.2h0M77.8 324.1h0M70.3 360.6h0M77.2 354.2h0M75.4 356.0h0M79.0 358.5h0M77.3 361.6h0M77.5 342.9h0M68.3 365.3h0M67.8 349.6h0M75.7 361.9h0M76.7 360.5h0M76.4 359.6h0M72.9 356.3h0M74.5 363.0h0M73.5 254.5h0M78.2 363.0h0M68.0 361.7h0M79.9 355.8h0M75.7 366.4h0M75.3 282.6h0M74.4 361.3h0M78.4 346.2h0M78.0 360.5h0M77.5 366.4h0M74.5 359.2h0M69.0 352.6h0M72.0 362.2h0M78.7 366.3h0M79.0 344.3h0M66.3 365.3h0M69.2 361.9h0M76.8 335.2h0M77.1 360.5h0M77.0 363.6h0M78.0 361.0h0M75.3 356.7h0M71.7 362.1h0M79.8 353.6h0M78.2 359.2h0M78.0 334.1h0M76.2 362.6h0M71.5 360.1h0M79.5 364.1h0M71.5 363.6h0M73.8 364.4h0M76.5 347.1h0M75.7 333.0h0M73.0 337.6h0M72.5 366.0h0M73.6 359.8h0M73.7 365.2h0M70.7 361.3h0M69.6 365.3h0M79.4 343.1h0M76.7 335.2h0M75.4 359.8h0M75.5 344.4h0M78.1 346.3h0M77.7 366.7h0M72.7 366.7h0M70.7 366.9h0M77.5 366.8h0M69.7 355.7h0M78.9 337.2h0M75.1 344.4h0M79.6 343.2h0M64.8 363.4h0M77.8 348.4h0M71.0 365.3h0M75.8 361.4h0M78.6 366.8h0M79.7 365.7h0M77.8 361.6h0M76.8 308.9h0M77.8 364.0h0M75.0 316.3h0M77.9 366.2h0M79.3 365.8h0M77.4 360.8h0M77.4 361.0h0M72.1 353.9h0M73.3 362.9h0M73.1 366.4h0M79.2 362.1h0M79.6 361.6h0M75.4 361.1h0M66.7 366.3h0M70.3 359.6h0M71.2 360.2h0M78.0 362.0h0M78.3 353.7h0M70.8 365.3h0M74.2 341.1h0M70.0 363.3h0M70.6 313.3h0M77.3 348.1h0M63.6 366.7h0M65.4 347.2h0M79.3 350.6h0M78.2 365.2h0M75.7 365.1h0M71.6 366.9h0M78.6 353.0h0M77.8 364.3h0M73.6 362.8h0M79.9 359.1h0M58.0 363.6h0M78.4 363.4h0M79.5 359.2h0M73.0 360.9h0M79.0 362.6h0M77.7 364.5h0M73.3 363.4h0M79.6 365.5h0M76.5 333.9h0M65.0 366.8h0M73.5 355.6h0M73.5 360.9h0M69.6 358.2h0M78.7 366.7h0M67.6 361.0h0M80.0 350.4h0M76.4 366.7h0M76.7 358.4h0M74.7 364.0h0M73.9 366.8h0M79.6 366.7h0M76.5 341.9h0M75.6 335.6h0M75.0 357.3h0M78.3 346.8h0M74.1 363.3h0M67.7 365.5h0M77.0 361.8h0M79.0 366.3h0M76.8 365.7h0M77.4 303.8h0M66.7 363.2h0M78.1 365.4h0M76.3 324.5h0M77.2 307.2h0M76.3 366.7h0M79.6 364.5h0M78.0 350.9h0M77.7 351.1h0M79.4 342.1h0M77.6 336.3h0M76.1 365.3h0M74.8 366.3h0M78.3 334.2h0M76.4 347.5h0M77.7 362.2h0M69.5 353.7h0M72.1 361.3h0M77.0 349.8h0M75.1 364.4h0M74.8 353.7h0M74.8 361.6h0M78.4 358.9h0M70.9 363.5h0M72.8 364.3h0M74.8 361.8h0M69.2 360.4h0M75.3 319.3h0M77.1 363.5h0M73.3 363.7h0M77.1 361.6h0M76.9 344.0h0M74.0 356.1h0M78.8 365.8h0M66.1 365.7h0M75.3 349.7h0M75.3 364.6h0M72.7 363.7h0M79.4 349.0h0M77.6 356.7h0M73.8 361.0h0M75.4 366.0h0M72.5 366.1h0M78.4 351.9h0M71.4 366.8h0M77.7 357.7h0M75.8 358.4h0M79.0 365.6h0M77.3 353.0h0M77.2 357.7h0M71.0 352.4h0M79.5 365.7h0M65.9 365.1h0M74.1 341.1h0M76.6 360.8h0M77.2 366.1h0M75.5 361.5h0M62.0 357.9h0M73.1 274.8h0M77.1 356.0h0M73.2 365.9h0M74.0 362.7h0M75.6 356.9h0M79.5 363.3h0M77.1 351.3h0M76.6 352.1h0M78.4 353.6h0M78.5 358.2h0M75.9 360.9h0M79.1 338.0h0M76.9 363.2h0M76.3 355.3h0M77.1 365.7h0M78.1 351.3h0M74.3 362.1h0M77.5 365.0h0M76.5 363.8h0M75.6 354.3h0M67.6 352.6h0M76.8 360.8h0M77.6 361.9h0M75.5 347.2h0M77.3 361.2h0M72.7 357.0h0M77.3 365.2h0M79.5 363.3h0M79.7 356.5h0M77.5 331.8h0M77.8 363.9h0M72.7 360.0h0M75.5 329.9h0M72.2 366.7h0M75.7 345.3h0M78.3 357.4h0M69.0 361.1h0M75.9 366.9h0M73.7 360.5h0M74.2 346.4h0M77.7 359.1h0M78.8 362.8h0M72.4 355.7h0M78.6 361.8h0M77.9 330.4h0M72.0 358.5h0M78.9 356.5h0M78.2 364.9h0M70.8 365.5h0M74.1 359.1h0M77.2 364.7h0M78.9 350.4h0M78.6 366.8h0M75.7 366.6h0M79.6 347.3h0M79.7 355.7h0M74.6 366.7h0M74.7 354.7h0M72.8 355.8h0M72.7 358.7h0M75.6 366.7h0M76.8 365.0h0M76.6 364.5h0M75.5 360.0h0M78.5 364.7h0M76.2 343.8h0M77.8 366.4h0M77.1 364.8h0M72.5 352.5h0M78.3 366.5h0M77.0 360.9h0M76.4 340.5h0M76.9 358.0h0M79.2 354.8h0M79.7 361.7h0M71.1 357.7h0M78.6 354.9h0M75.6 355.8h0M75.6 362.5h0M77.8 350.1h0M77.2 357.1h0M79.8 366.6h0M73.1 361.9h0M75.6 364.3h0M77.8 366.2h0M78.2 366.4h0M76.5 365.0h0M76.1 345.3h0M72.3 361.5h0M69.1 364.2h0M77.8 364.8h0M73.6 365.1h0M71.1 366.7h0M77.0 362.8h0M60.9 365.0h0M74.1 363.6h0M79.8 346.7h0M71.7 366.7h0M68.8 356.5h0M70.1 284.9h0M78.5 364.1h0M77.9 364.6h0M78.5 360.6h0M78.6 347.2h0M77.1 359.1h0M77.1 349.0h0M79.6 355.5h0M76.7 343.3h0M79.1 363.9h0M71.4 347.9h0M75.4 365.5h0M73.0 357.5h0M75.5 364.1h0M77.4 362.7h0M76.9 352.6h0M78.9 362.8h0M78.2 344.7h0M75.9 334.4h0M76.9 361.9h0M66.9 362.5h0M72.3 366.2h0M78.4 362.1h0M76.2 364.7h0M75.2 366.0h0M75.7 363.7h0M77.8 365.7h0M77.7 361.6h0M76.0 360.0h0M64.6 366.3h0M69.3 364.2h0M78.3 351.1h0M78.3 349.8h0M80.0 345.5h0M77.0 363.0h0M74.7 366.2h0M75.0 363.0h0M79.5 351.3h0M78.7 361.2h0M80.0 355.4h0M68.9 363.6h0M70.4 366.2h0M77.2 365.1h0M74.2 351.0h0M76.7 360.3h0M69.9 362.6h0M74.9 344.2h0M65.0 361.9h0M72.7 364.8h0M74.6 362.2h0M77.0 356.5h0M78.6 354.6h0M75.8 362.0h0M78.8 364.4h0M79.0 366.3h0M77.2 302.8h0M78.8 365.9h0M74.6 356.5h0M73.0 359.3h0M77.0 331.8h0M72.0 365.0h0M77.2 310.6h0M72.7 366.1h0M70.1 358.4h0M72.6 360.5h0M76.7 353.7h0M76.3 362.3h0M70.2 358.1h0M77.3 363.0h0M69.4 366.4h0M79.7 365.5h0M72.9 353.3h0M78.0 365.2h0M68.7 347.2h0M74.2 362.1h0M78.4 360.1h0M74.5 364.9h0M73.6 351.1h0M78.5 354.1h0M78.0 355.0h0M70.8 365.7h0M78.1 348.0h0M72.8 325.9h0M76.9 363.5h0M73.2 366.3h0M74.9 363.6h0M76.0 360.8h0M77.8 360.8h0M73.3 364.6h0M76.6 350.1h0M77.5 348.6h0M78.8 366.5h0M77.7 338.7h0M79.2 363.1h0M77.5 361.6h0M79.3 364.2h0M65.3 365.9h0M78.9 357.2h0M70.3 366.2h0M65.2 364.7h0M66.9 363.4h0M78.1 365.0h0M76.2 357.3h0M78.1 359.0h0M79.7 362.7h0M76.6 361.5h0M79.6 344.3h0M71.7 364.7h0M78.9 350.1h0M75.2 363.9h0M77.4 335.8h0M76.0 366.5h0M74.5 365.6h0M79.5 351.7h0M76.4 365.5h0M76.7 327.2h0M70.6 364.6h0M72.1 366.6h0M78.0 362.7h0M79.2 354.4h0M73.4 363.4h0M76.8 359.5h0M75.1 359.0h0M79.2 361.6h0M75.9 318.4h0M75.1 365.0h0M79.1 364.7h0M78.4 360.7h0M78.8 357.4h0M78.9 359.7h0M75.0 352.2h0M76.6 364.3h0M69.6 357.0h0M67.6 366.3h0M79.2 360.7h0M69.0 354.1h0M68.2 363.2h0M74.4 363.3h0M77.7 361.0h0M77.3 359.6h0M76.5 356.1h0M77.0 361.0h0M73.9 354.9h0M78.3 354.9h0M59.6 362.3h0M75.2 360.3h0M78.8 362.4h0M74.1 342.4h0M79.4 363.2h0M72.7 297.4h0M78.9 350.7h0M73.8 351.6h0M75.1 364.8h0M78.6 358.9h0M68.7 361.4h0M78.1 352.8h0M74.6 364.3h0M76.0 366.7h0M78.0 352.0h0M76.0 361.3h0M76.4 365.5h0M78.2 361.3h0M78.7 365.4h0M79.3 365.6h0M78.1 358.6h0M77.8 365.7h0M79.2 362.0h0M77.4 356.7h0M74.2 360.8h0M74.4 364.1h0M76.3 366.3h0M75.9 359.0h0M79.3 346.4h0M77.8 366.2h0M77.6 340.8h0M78.1 364.1h0M75.7 306.5h0M75.3 352.9h0M77.1 363.6h0M77.6 361.3h0M77.1 351.2h0M71.8 356.3h0M76.4 365.1h0M75.7 365.5h0M77.6 366.3h0M77.6 365.9h0M73.9 355.8h0M75.3 355.5h0M74.0 364.4h0M77.1 366.4h0M75.7 364.3h0M74.5 359.5h0M78.2 365.9h0M78.6 360.7h0M77.0 357.1h0M77.1 354.6h0M78.0 351.3h0M76.3 343.4h0M69.4 304.5h0M74.3 353.2h0M75.4 363.5h0M77.6 360.3h0M73.5 359.2h0M77.7 366.7h0M76.3 296.0h0M78.5 366.2h0M74.6 365.1h0M76.5 366.9h0M66.8 364.7h0M59.8 364.2h0M78.4 348.5h0M76.6 366.6h0M71.9 355.5h0M72.8 366.8h0M79.1 348.2h0M75.5 361.5h0M70.1 366.3h0M75.6 358.6h0M79.9 338.5h0M65.5 357.6h0M73.4 363.7h0M71.7 362.5h0M79.3 360.3h0M78.1 359.6h0M73.0 365.2h0M70.9 337.6h0M79.9 364.1h0M73.1 322.8h0M78.6 364.9h0M76.2 358.5h0M76.5 336.1h0M75.4 364.4h0M77.9 365.5h0M71.0 362.4h0M77.4 315.1h0M72.1 365.8h0M77.2 362.2h0M78.6 364.0h0M66.5 246.0h0M74.5 245.5h0M73.8 264.4h0M72.7 267.0h0" stroke="#00BA38" stroke-width="1.8" stroke-linecap="round" fill="none"/>
<path d="M95.1 353.9h0M91.2 366.1h0M89.3 326.1h0M89.7 340.4h0M88.5 362.5h0M91.6 365.7h0M89.5 361.4h0M88.3 356.0h0M92.2 359.7h0M88.1 365.4h0M92.4 357.0h0M91.0 314.4h0M90.8 365.5h0M89.1 364.3h0M89.1 366.2h0M89.7 355.3h0M88.7 360.2h0M92.0 354.4h0M88.0 356.5h0M90.7 366.0h0M90.4 360.2h0M89.2 366.0h0M88.0 361.8h0M89.3 362.8h0M93.4 364.8h0M92.0 365.8h0M97.3 365.9h0M88.3 365.9h0M88.8 363.3h0M88.6 366.7h0M87.8 363.5h0M88.1 354.0h0M88.3 365.8h0M97.0 366.6h0M92.3 361.0h0M91.4 365.8h0M89.4 365.3h0M96.6 358.2h0M90.4 362.5h0M91.8 363.1h0M89.8 362.0h0M89.0 353.7h0M88.5 340.6h0M89.8 365.3h0M89.1 362.8h0M89.6 366.0h0M89.4 365.8h0M88.0 340.5h0M91.6 365.6h0M98.5 364.5h0M90.2 360.7h0M88.5 364.1h0M89.7 322.4h0M90.4 365.5h0M89.2 333.4h0M90.9 365.9h0M88.5 331.8h0M88.9 361.5h0M88.8 336.6h0M89.7 356.8h0M88.8 362.9h0M88.2 366.9h0M88.1 358.6h0M89.6 365.4h0M92.5 366.6h0M88.2 363.7h0M94.0 357.2h0M90.8 362.1h0M88.2 366.4h0M91.5 365.3h0M88.2 366.7h0M88.6 348.4h0M92.6 337.1h0M93.5 357.2h0M88.3 365.6h0M89.3 341.4h0M90.2 363.0h0M88.0 365.1h0M90.1 363.1h0M90.7 366.3h0M96.9 364.4h0M88.5 364.1h0M92.9 363.9h0M88.9 331.7h0M88.9 352.3h0M88.8 351.3h0M89.8 366.4h0M93.0 364.9h0M90.3 307.7h0M88.2 364.5h0M88.0 365.0h0M89.2 360.4h0M93.9 359.7h0M92.2 363.5h0M89.5 348.0h0M89.9 365.3h0M88.0 363.1h0M90.9 359.7h0M89.8 343.6h0M88.6 360.7h0M91.0 349.1h0M89.0 366.1h0M92.0 354.3h0M90.7 366.1h0M90.4 360.1h0M90.0 366.1h0M89.7 347.3h0M88.2 366.8h0M88.4 343.6h0M90.5 341.5h0M89.4 365.4h0M91.9 359.6h0M91.3 353.7h0M88.0 357.0h0M91.2 362.8h0M94.2 359.5h0M88.7 356.8h0M90.8 366.0h0M87.9 365.2h0M90.8 362.8h0M89.7 347.9h0M90.8 356.9h0M91.9 365.4h0M89.0 351.0h0M88.2 365.6h0M88.2 366.6h0M91.2 357.6h0M88.6 334.7h0M91.6 361.4h0M90.3 323.7h0M88.9 360.7h0M88.9 357.3h0M88.4 349.7h0M95.7 364.5h0M90.5 358.3h0M89.8 360.4h0M92.9 366.6h0M88.7 360.5h0M87.9 365.4h0M90.8 355.6h0M89.5 365.4h0M90.2 308.7h0M90.3 364.7h0M88.1 338.7h0M91.3 364.4h0M89.2 366.2h0M89.6 365.6h0M89.5 346.8h0M89.3 361.2h0M89.3 360.2h0M87.8 342.7h0M88.0 365.1h0M88.2 366.7h0M89.2 366.7h0M87.8 365.7h0M90.9 359.5h0M92.9 366.5h0M89.8 363.8h0M92.3 366.8h0M90.6 363.3h0M89.5 359.2h0M90.3 363.9h0M88.1 356.2h0M92.9 363.0h0M88.6 359.6h0M88.0 359.7h0M88.0 363.0h0M88.9 364.8h0M91.8 356.2h0M88.1 360.7h0M91.1 365.7h0M91.5 362.0h0M89.0 350.8h0M88.2 352.4h0M89.5 366.8h0M91.4 365.8h0M92.1 350.3h0M88.6 364.5h0M88.3 362.8h0M89.4 357.0h0M88.7 366.6h0M90.3 363.0h0M90.5 364.4h0M96.7 361.7h0M93.6 366.7h0M90.4 362.7h0M90.3 366.1h0M88.8 360.2h0M90.3 364.9h0M90.5 344.6h0M90.2 366.0h0M92.4 357.8h0M91.6 366.6h0M89.5 363.2h0M88.7 339.6h0M90.2 353.6h0M92.1 365.2h0M90.2 366.7h0M89.9 361.5h0M89.0 365.2h0M87.8 361.8h0M87.8 350.5h0M87.9 361.2h0M92.0 359.8h0M87.8 364.1h0M88.1 366.5h0M89.3 366.1h0M88.0 353.9h0M88.3 357.1h0M88.2 361.4h0M90.4 353.3h0M90.8 366.0h0M87.9 355.7h0M89.2 366.6h0M90.1 366.8h0M88.9 360.2h0M90.5 366.5h0M88.9 364.0h0M90.7 366.4h0M90.6 363.3h0M90.2 364.5h0M88.6 335.9h0M89.1 320.6h0M91.7 362.2h0M88.8 366.4h0M89.3 358.2h0M95.9 365.4h0M88.3 343.8h0M88.6 347.9h0M90.1 365.2h0M92.3 364.3h0M90.3 360.2h0M89.5 350.8h0M89.2 365.3h0M91.6 365.0h0M89.0 353.3h0M89.1 362.3h0M89.5 366.8h0M91.4 362.4h0M88.2 364.7h0M88.3 366.4h0M97.0 366.4h0M91.2 358.9h0M91.5 365.9h0M89.6 364.5h0M88.2 361.2h0M94.0 360.4h0M92.6 365.5h0M89.6 362.7h0M89.7 359.0h0M92.7 348.6h0M92.3 364.6h0M91.7 366.3h0M88.7 347.8h0M89.1 327.1h0M88.2 358.9h0M89.5 363.6h0M91.2 356.3h0M88.9 361.5h0M91.8 366.9h0M88.5 347.3h0M89.2 360.4h0M89.7 365.5h0M89.4 364.9h0M88.2 366.9h0M91.0 365.8h0M89.5 366.9h0M88.3 362.3h0M89.0 358.5h0M91.3 366.3h0M90.0 364.5h0M90.1 363.9h0M88.1 358.8h0M90.7 362.0h0M88.3 365.4h0M88.4 363.7h0M92.0 349.8h0M92.7 357.0h0M88.1 354.7h0M93.0 365.9h0M90.6 366.7h0M88.7 360.0h0M90.6 366.8h0M93.3 365.2h0M89.3 365.5h0M93.1 362.7h0M88.4 366.4h0M88.5 360.7h0M87.8 359.0h0M88.4 363.3h0M90.5 361.2h0M88.3 362.6h0M88.0 352.1h0M88.7 359.6h0M89.7 348.0h0M92.0 366.5h0M91.4 363.1h0M88.9 363.5h0M89.5 365.3h0M92.0 363.2h0M92.2 365.9h0M92.0 364.6h0M89.8 359.9h0M90.5 364.3h0M88.3 360.9h0M89.1 366.8h0M88.7 366.5h0M88.6 364.9h0M94.0 364.0h0M91.4 349.9h0M89.6 353.2h0M88.0 366.2h0M89.7 366.8h0M91.4 352.7h0M88.0 361.8h0M87.8 366.1h0M88.0 364.9h0M89.2 360.2h0M89.2 345.4h0M91.8 353.6h0M88.8 356.0h0M89.2 364.2h0M88.4 365.8h0M91.7 359.4h0M90.2 356.8h0M92.2 363.2h0M92.0 360.6h0M90.1 362.8h0M90.6 354.0h0M89.2 360.4h0M89.0 363.9h0M89.2 351.2h0M88.7 365.9h0M89.6 354.3h0M94.0 356.6h0M89.1 362.5h0M89.4 350.1h0M88.8 353.6h0M89.3 363.2h0M92.3 359.4h0M88.2 364.0h0M88.1 354.8h0M89.7 346.2h0M89.4 337.2h0M90.9 364.8h0M89.9 363.8h0M88.9 363.2h0M95.1 363.0h0M88.8 361.2h0M95.5 349.0h0M90.4 351.0h0M88.8 365.3h0M91.5 363.3h0M88.5 356.1h0M88.0 361.4h0M88.6 365.9h0M89.6 366.3h0M88.5 358.7h0M88.0 366.0h0M91.2 366.6h0M95.5 352.1h0M89.5 366.9h0M89.5 348.0h0M89.6 366.7h0M89.7 363.8h0M90.8 362.2h0M89.4 326.4h0M88.2 363.8h0M88.2 354.1h0M89.8 361.0h0M89.5 352.7h0M89.8 365.6h0M91.7 357.4h0M88.3 364.9h0M87.8 363.2h0M90.1 365.9h0M89.3 360.5h0M88.1 361.6h0M89.4 354.7h0M90.3 351.6h0M92.0 358.0h0M88.3 355.3h0M88.9 335.6h0M90.1 360.8h0M97.4 361.7h0M88.3 362.0h0M90.7 356.9h0M88.5 355.9h0M89.9 366.1h0M89.6 364.8h0M89.5 365.9h0M88.7 360.1h0M88.8 365.6h0M89.1 352.4h0M91.1 361.9h0M88.8 320.4h0M89.0 363.1h0M88.8 361.7h0M89.7 361.9h0M92.5 361.4h0M88.6 363.8h0M93.9 366.6h0M88.7 362.0h0M91.0 365.5h0M93.4 356.6h0M91.0 366.1h0M92.4 360.7h0M93.0 366.8h0M90.3 361.3h0M88.3 366.7h0M89.7 366.5h0M91.0 347.4h0M88.6 360.4h0M89.6 331.9h0M87.8 339.6h0M90.5 359.0h0M89.5 362.8h0M90.1 360.5h0M89.8 365.3h0M91.8 365.1h0M88.2 366.5h0M88.8 345.4h0M89.3 356.5h0M89.0 362.3h0M88.6 366.8h0M88.0 366.7h0M91.4 365.7h0M91.0 365.3h0M89.4 353.0h0M87.9 366.9h0M90.7 366.8h0M90.9 363.9h0M89.7 362.5h0M91.2 360.6h0M88.2 358.5h0M87.9 362.4h0M91.7 363.5h0M89.6 358.6h0M88.4 366.4h0M88.4 333.9h0M88.3 359.9h0M88.7 353.5h0M88.0 356.4h0M89.1 366.6h0M87.9 360.3h0M95.8 361.3h0M91.2 362.8h0M88.1 360.2h0M88.5 365.4h0M88.5 365.9h0M91.0 363.8h0M89.1 363.6h0M89.1 358.2h0M88.0 366.0h0M90.4 365.6h0M95.0 365.3h0M89.4 335.9h0M92.6 362.1h0M92.0 365.4h0M88.4 366.7h0M90.0 363.9h0M87.9 349.9h0M90.3 358.2h0M90.3 366.1h0M90.4 365.6h0M88.2 366.5h0M89.3 359.9h0M98.0 366.8h0M88.0 354.6h0M88.0 366.7h0M93.8 360.3h0M92.9 365.4h0M87.9 359.1h0M87.9 366.3h0M92.1 358.7h0M91.5 366.0h0M91.2 348.5h0M90.4 366.3h0M87.8 359.4h0M88.0 365.6h0M89.4 366.8h0M90.4 366.5h0M92.3 366.5h0M89.7 363.5h0M92.0 365.0h0M89.1 361.8h0M89.0 361.3h0M88.6 360.2h0M92.8 365.7h0M92.4 362.8h0M89.9 365.8h0M91.0 364.2h0M90.5 363.7h0M89.0 338.7h0M89.2 352.8h0M88.4 364.4h0M88.1 360.5h0M88.9 365.9h0M87.9 363.7h0M90.3 362.8h0M90.3 366.3h0M92.1 363.9h0M88.2 357.2h0M89.1 362.2h0M87.9 365.9h0M90.1 356.5h0M89.7 365.0h0M89.1 365.4h0M89.6 365.5h0M88.3 361.3h0M89.8 309.9h0M90.0 363.7h0M88.7 349.2h0M89.7 365.3h0M89.5 359.4h0M90.8 359.6h0M88.4 362.6h0M89.0 360.0h0M90.6 354.8h0M88.6 364.2h0M88.9 354.7h0M89.0 363.5h0M91.0 360.8h0M89.0 366.5h0M90.2 354.3h0M89.8 319.0h0M89.4 352.3h0M92.6 364.9h0M91.2 363.0h0M89.6 361.3h0M89.4 345.7h0M87.9 363.7h0M90.1 365.8h0M89.8 357.0h0M88.5 365.7h0M89.1 363.4h0M95.6 360.7h0M93.1 361.6h0M88.5 357.9h0M91.4 338.8h0M88.3 361.2h0M91.3 366.4h0M89.1 365.5h0M88.2 366.4h0M90.5 366.5h0M88.5 333.2h0M88.1 365.5h0M89.6 366.2h0M91.0 364.1h0M88.3 361.5h0M89.8 355.3h0M90.0 366.1h0M88.2 360.8h0M89.0 357.3h0M90.7 364.1h0M101.1 361.9h0M89.4 363.8h0M89.0 359.1h0M87.9 366.2h0M89.3 322.1h0M88.2 356.5h0M97.0 351.2h0M87.8 366.4h0M92.4 361.6h0M89.2 344.9h0M87.9 363.9h0M88.6 365.0h0M88.2 365.6h0M89.4 365.4h0M89.3 362.5h0M90.5 360.8h0M89.9 365.7h0M87.8 365.6h0M89.1 361.9h0M90.2 327.3h0M89.2 324.5h0M89.1 349.5h0M89.1 366.8h0M88.6 360.9h0M91.3 362.3h0M88.3 355.7h0M90.0 360.8h0M88.8 361.4h0M90.1 366.6h0M91.1 363.6h0M89.5 363.4h0M91.0 341.2h0M94.0 358.2h0M91.1 361.3h0M89.0 366.5h0M88.3 366.6h0M88.0 363.4h0M95.9 364.8h0M91.8 362.5h0M89.4 358.4h0M88.7 366.7h0M88.5 364.6h0M87.9 358.4h0M88.6 347.6h0M90.3 362.4h0M89.0 364.9h0M89.7 361.3h0M88.4 363.3h0M90.3 363.1h0M89.2 360.6h0M90.2 366.8h0M88.2 341.2h0M91.6 363.3h0M88.9 365.8h0M92.0 362.4h0M89.6 364.5h0M88.4 365.7h0M90.3 359.4h0M88.8 357.6h0M96.6 366.8h0M90.6 351.0h0M88.0 366.4h0M90.6 361.5h0M87.9 364.5h0M90.3 366.4h0M90.9 362.9h0M89.5 365.5h0M88.6 366.5h0M88.9 363.0h0M90.3 351.2h0M89.9 345.9h0M92.2 366.6h0M90.6 350.8h0M88.1 364.9h0M90.1 365.3h0M89.8 364.7h0M88.1 365.5h0M91.0 362.9h0M89.6 365.6h0M89.4 366.9h0M93.7 355.7h0M89.8 365.3h0M88.9 360.0h0M89.2 359.1h0M89.2 332.0h0M91.4 358.6h0M92.0 360.1h0M90.5 361.5h0M88.9 365.4h0M97.7 363.2h0M90.9 365.7h0M89.9 365.8h0M93.2 359.6h0M88.0 366.0h0M89.2 364.9h0M89.3 349.2h0M93.3 364.4h0M89.5 361.1h0M92.7 357.1h0M87.9 366.5h0M92.3 366.2h0M90.6 329.3h0M88.3 355.1h0M97.5 366.2h0M91.2 364.6h0M90.1 363.0h0M92.7 350.3h0M88.0 354.7h0M91.4 310.3h0M91.7 361.0h0M89.8 365.3h0M95.0 364.3h0M90.8 317.2h0M90.3 366.6h0M89.5 363.4h0M88.8 365.9h0M92.0 331.3h0M91.2 364.9h0M87.7 365.7h0M89.3 357.5h0M89.4 366.3h0M90.2 344.7h0M88.5 331.3h0M88.5 365.3h0M91.0 313.6h0M89.9 352.8h0M88.2 345.2h0M90.8 360.5h0M88.5 359.7h0M88.4 366.4h0M89.9 366.7h0M88.1 364.4h0M94.6 312.9h0M89.5 348.6h0M90.4 360.0h0M87.9 363.1h0M90.2 366.2h0M89.5 355.3h0M93.8 366.1h0M90.1 343.9h0M89.0 364.3h0M91.7 364.0h0M89.1 329.6h0M89.7 354.9h0M87.9 336.9h0M88.3 363.9h0M89.9 359.2h0M88.9 366.4h0M96.2 364.7h0M90.5 361.9h0M88.2 366.2h0M90.6 361.8h0M88.5 357.7h0M88.5 356.2h0M88.9 366.0h0M91.5 366.7h0M88.7 364.0h0M89.4 366.7h0M92.4 364.2h0M90.3 364.0h0M88.5 366.0h0M88.6 354.6h0M92.6 332.0h0M89.4 356.5h0M92.0 366.4h0M90.4 348.4h0M89.2 366.0h0M88.7 355.1h0M90.7 364.7h0M89.3 356.9h0M89.6 360.3h0M92.9 357.6h0M92.4 366.2h0M90.6 366.6h0M88.0 360.3h0M92.7 364.7h0M89.2 359.4h0M91.4 365.6h0M87.9 366.2h0M93.6 363.1h0M95.7 366.4h0M89.0 333.9h0M88.7 348.0h0M91.8 361.8h0M88.2 366.4h0M89.1 366.8h0M91.0 363.0h0M90.7 354.3h0M93.3 365.5h0M88.2 359.1h0M88.8 364.6h0M88.5 358.7h0M92.2 363.8h0M93.1 326.5h0M89.3 366.5h0M89.4 354.1h0M88.6 364.7h0M88.4 364.4h0M89.4 366.3h0M90.5 328.9h0M89.6 365.5h0M91.1 362.4h0M88.5 352.4h0M95.0 356.4h0M91.1 365.1h0M89.3 352.1h0M88.1 363.7h0M91.5 364.6h0M93.9 366.8h0M88.4 366.3h0M90.1 363.2h0M89.8 354.2h0M88.0 365.0h0M95.1 353.1h0M89.3 361.0h0M88.3 365.8h0M89.4 363.3h0M90.6 362.9h0M88.2 353.5h0M90.0 364.2h0M92.9 351.5h0M89.3 363.4h0M88.3 366.8h0M88.9 359.7h0M88.3 360.8h0M89.3 359.2h0M89.7 363.0h0M88.1 359.0h0M90.3 365.8h0M89.8 363.7h0M96.1 364.6h0M91.3 365.3h0M89.1 364.3h0M92.2 366.3h0M92.2 366.3h0M88.8 365.1h0M92.9 358.3h0M97.2 356.2h0M95.1 365.9h0M90.3 365.6h0M93.3 360.6h0M88.4 354.1h0M89.1 364.5h0M92.2 362.5h0M94.7 366.3h0M88.8 338.2h0M88.5 361.7h0M88.1 347.6h0M94.6 361.9h0M96.3 365.0h0M90.6 359.4h0M91.4 355.4h0M89.0 354.7h0M91.5 361.1h0M88.4 358.2h0M92.1 360.7h0M88.4 363.8h0M92.1 357.6h0M88.2 344.3h0M92.0 365.7h0M88.9 365.9h0M89.9 366.7h0M88.7 358.4h0M92.8 358.8h0M88.7 362.7h0M92.9 366.3h0M89.0 362.6h0M88.8 365.7h0M90.3 347.9h0M90.8 361.0h0M89.0 353.2h0M91.1 363.1h0M88.3 365.0h0M89.4 362.0h0M90.2 362.7h0M90.3 358.6h0M93.7 362.3h0M90.9 361.1h0M93.3 359.7h0M88.0 361.3h0M92.4 364.4h0M93.6 361.0h0M91.6 366.7h0M92.5 364.7h0M89.4 361.2h0M88.2 362.8h0M91.4 361.2h0M90.9 343.6h0M88.2 342.2h0M90.3 365.9h0M89.5 366.6h0M87.9 366.2h0M94.9 359.4h0M89.4 349.6h0M89.2 334.5h0M93.8 225.5h0M92.7 278.2h0M93.9 277.6h0M94.6 309.0h0M89.6 312.5h0M88.9 322.0h0M101.6 362.8h0" stroke="#F8766D" stroke-width="1.8" stroke-linecap="round" fill="none"/>
<path d="M52.5 218.7V375.8H167" stroke="#8a8a8a" stroke-width="0.85" fill="none"/>
<path d="M51.3 230.5H52.5M51.3 276.4H52.5M51.3 322.2H52.5M51.3 367.3H52.5M58.5 375.8V377M80.6 375.8V377M84 375.8V377M87.3 375.8V377M109 375.8V377M134.6 375.8V377M164 375.8V377" stroke="#8a8a8a" stroke-width="0.6" fill="none"/>
<text x="50.7" y="231.75" font-size="3.3" class="sans" text-anchor="end" fill="#666">150</text>
<text x="50.7" y="277.65" font-size="3.3" class="sans" text-anchor="end" fill="#666">100</text>
<text x="50.7" y="323.45" font-size="3.3" class="sans" text-anchor="end" fill="#666">50</text>
<text x="50.7" y="368.55" font-size="3.3" class="sans" text-anchor="end" fill="#666">1.301</text>
<text x="58.5" y="380.4" font-size="3.3" class="sans" text-anchor="middle" fill="#666">-7</text>
<text x="80.6" y="380.4" font-size="3.3" class="sans" text-anchor="middle" fill="#666">-1</text>
<text x="84" y="380.4" font-size="3.3" class="sans" text-anchor="middle" fill="#666">0</text>
<text x="87.3" y="380.4" font-size="3.3" class="sans" text-anchor="middle" fill="#666">1</text>
<text x="109" y="380.4" font-size="3.3" class="sans" text-anchor="middle" fill="#666">7</text>
<text x="134.6" y="380.4" font-size="3.3" class="sans" text-anchor="middle" fill="#666">14</text>
<text x="164" y="380.4" font-size="3.3" class="sans" text-anchor="middle" fill="#666">20</text>
<text x="110" y="384.4" font-size="3.75" class="sans" text-anchor="middle" fill="#000">log2FoldChange</text>
<text transform="translate(40.8 297.5) rotate(-90)" font-size="3.9" class="sans" text-anchor="middle" fill="#000">-log10(padj)</text>
<text x="77.3" y="211.7" font-size="12.25" class="serif bt">Control vs FB1</text>
<text x="173.8" y="287.2" font-size="3.75" class="sans" fill="#333">padj&lt;0.05</text>
<text x="173.8" y="291.4" font-size="3.75" class="sans" fill="#333">|log2FoldChange|&gt;1</text>
<rect x="176.15" y="295.05" width="1.5" height="1.5" fill="#F8766D"/>
<text x="181.4" y="297" font-size="3.4" class="sans" fill="#444">UP 858</text>
<rect x="176.15" y="301.15" width="1.5" height="1.5" fill="#00BA38"/>
<text x="181.4" y="303.1" font-size="3.4" class="sans" fill="#444">DOWN 1361</text>
<rect x="176.15" y="307.45" width="1.5" height="1.5" fill="#619CFF"/>
<text x="181.4" y="309.4" font-size="3.4" class="sans" fill="#444">NO 18652</text>
<path d="M104 422.2V579.4M115.7 422.2V579.4M51.9 571.8H168.4" stroke="#9a9a9a" stroke-width="0.6" stroke-dasharray="2.4 1.8 0.6 1.8" fill="none"/>
<path d="M104.0 565.9L104.3 566.5L104.6 567.1L104.9 567.7L105.2 568.3L105.5 568.9L105.8 569.4L106.0 569.9L106.3 570.4L106.6 570.8L106.9 571.3L107.2 571.7L107.5 572.1L107.8 572.4L108.1 572.7L108.4 573.0L108.7 573.3L109.0 573.5L109.3 573.7L109.6 573.8L109.8 573.9L110.1 573.8L110.4 573.7L110.7 573.5L111.0 573.3L111.3 573.0L111.6 572.7L111.9 572.4L112.2 572.1L112.5 571.7L112.8 571.3L113.1 570.8L113.4 570.4L113.7 569.9L113.9 569.4L114.2 568.9L114.5 568.3L114.8 567.7L115.1 567.1L115.4 566.5L115.7 565.9L115.7 573.6L104.0 573.6Z" fill="#619CFF"/>
<rect x="80.3" y="572.2" width="58" height="1.4" fill="#619CFF"/>
<path d="M107.8 572.3h0M119.3 572.9h0M80.0 572.7h0M95.7 572.1h0M120.7 572.4h0M112.8 572.3h0M88.0 572.6h0M89.0 572.0h0M82.8 572.1h0M83.8 572.3h0M99.5 572.6h0M129.8 573.1h0M82.9 572.0h0M109.8 573.0h0M138.5 572.0h0M86.1 572.6h0M87.4 572.7h0M116.6 572.9h0M121.1 573.0h0M89.6 572.1h0M103.3 572.6h0M115.1 572.5h0M102.4 573.1h0M122.9 571.9h0M137.9 572.3h0M100.7 572.7h0M120.7 572.3h0M86.1 572.8h0M101.1 572.5h0M127.9 572.5h0M81.0 572.1h0M105.1 572.5h0M92.6 572.6h0M102.6 572.2h0M85.5 572.4h0M90.0 572.3h0M81.5 572.8h0M100.0 572.3h0M82.4 572.5h0M91.8 572.8h0M107.9 571.9h0M108.2 572.0h0M89.4 572.0h0M101.2 572.9h0M124.2 572.0h0M79.7 572.8h0M125.5 572.7h0M93.8 573.1h0M81.7 572.4h0M138.3 571.9h0M109.5 573.1h0M98.6 572.2h0M129.2 572.3h0M93.1 572.5h0M107.9 572.3h0M95.1 572.0h0M133.0 572.9h0M96.8 572.1h0M96.0 572.0h0M110.2 572.3h0M121.6 572.8h0M96.4 572.8h0M120.3 572.3h0M87.2 572.0h0M104.5 572.8h0M105.4 571.9h0M112.9 572.4h0M134.5 571.9h0M124.9 572.6h0M114.6 572.0h0M126.7 572.4h0M100.1 572.7h0M123.5 572.4h0M80.3 572.2h0M133.5 572.1h0M133.1 572.0h0M111.4 572.2h0M102.1 573.0h0M100.5 572.7h0M135.3 572.3h0M111.8 572.4h0M86.8 572.5h0M121.3 572.6h0M94.0 572.6h0M98.7 572.3h0M87.8 573.0h0M98.0 572.3h0M124.9 572.3h0M135.4 572.7h0M81.1 572.5h0M105.9 572.9h0M119.3 572.7h0M93.6 572.7h0M135.9 573.1h0M100.9 572.8h0M91.4 572.6h0M92.5 572.0h0M109.4 572.3h0M89.0 572.5h0M115.7 572.1h0M94.3 572.5h0M130.6 572.1h0M93.0 572.5h0M125.0 572.6h0M119.7 572.3h0M137.6 572.4h0M120.1 572.7h0M123.2 572.7h0M109.3 572.7h0M97.7 572.9h0M92.8 572.4h0M94.4 573.0h0M127.5 572.8h0M135.5 572.4h0M102.6 572.1h0M133.1 572.7h0M86.9 572.3h0M129.9 572.4h0M126.4 572.6h0M116.4 572.8h0M103.7 572.6h0M102.4 572.6h0M127.7 572.9h0M91.6 572.8h0M137.6 572.5h0M82.5 572.1h0M131.7 572.1h0M100.8 572.2h0M97.6 572.9h0M131.2 572.1h0M92.0 572.0h0M80.8 572.7h0M80.1 572.9h0M89.1 572.2h0M97.1 572.9h0M90.3 572.7h0M131.0 572.4h0M85.4 572.3h0M111.5 572.6h0M111.0 572.3h0M127.3 572.5h0M117.4 572.5h0M117.3 572.6h0M104.2 572.5h0M122.2 572.8h0M134.8 572.5h0M130.6 572.3h0M136.7 572.3h0M104.9 572.6h0M115.8 572.2h0M129.6 572.9h0M83.0 573.0h0M84.4 573.0h0M79.8 572.8h0M86.1 572.3h0M116.2 571.9h0M136.9 572.2h0M136.3 573.1h0M93.0 572.0h0M107.8 572.9h0M124.7 572.6h0M111.9 572.7h0M93.8 573.0h0M115.7 572.0h0M138.5 572.2h0M135.3 572.7h0M97.2 572.0h0M115.3 572.3h0M80.1 572.8h0M108.2 572.2h0M128.8 572.2h0M99.7 572.6h0M131.0 571.9h0M108.4 572.9h0M116.8 572.5h0M101.0 572.8h0M102.4 572.4h0M86.9 572.5h0M136.4 572.2h0M94.4 572.6h0M85.4 572.2h0M117.2 572.9h0M112.2 572.4h0M113.9 572.6h0M97.9 572.7h0M139.2 572.7h0M109.4 572.5h0M89.7 572.6h0M91.6 572.7h0M101.3 572.7h0M135.6 572.7h0M99.2 572.3h0M103.1 572.5h0M118.2 573.0h0M119.6 573.0h0M94.3 572.1h0M138.7 572.3h0M89.6 572.6h0M96.3 572.1h0M93.3 572.9h0M117.6 572.3h0M114.7 572.5h0M136.8 572.5h0M135.5 572.6h0M107.2 572.7h0M122.2 572.2h0M93.7 572.5h0M122.9 572.5h0M119.0 572.4h0M122.2 572.7h0M97.7 573.1h0M132.7 572.2h0M102.7 571.9h0M133.4 572.9h0M129.5 572.6h0M98.2 572.8h0M104.1 573.0h0M82.3 573.0h0M97.7 572.9h0M86.6 572.1h0M102.1 572.5h0M115.4 572.0h0M88.1 572.8h0M130.9 572.0h0M135.2 572.5h0M101.3 572.9h0M133.9 572.2h0M112.4 572.2h0M94.9 572.5h0M133.7 573.0h0M116.3 572.9h0M129.6 572.1h0M117.9 572.6h0M80.6 572.5h0M100.9 572.6h0M84.0 572.0h0M110.6 572.4h0M129.8 572.0h0M112.3 572.4h0M130.1 572.7h0M133.3 573.1h0M127.1 572.5h0M116.6 571.9h0M92.5 572.6h0M127.3 572.2h0M110.8 572.2h0M119.9 572.1h0M118.3 572.7h0M96.5 573.0h0M86.7 573.0h0M137.8 572.9h0M115.5 572.9h0M137.3 572.5h0M89.9 572.1h0M130.9 571.9h0M92.7 572.6h0M118.9 572.8h0M113.5 572.3h0M124.4 572.1h0M124.4 572.8h0M124.6 572.6h0M89.5 573.1h0M116.6 572.7h0M84.9 572.5h0M104.2 572.7h0M113.3 572.5h0M111.1 571.9h0M133.6 572.7h0M131.6 572.7h0M135.5 573.0h0M98.4 572.0h0M119.0 572.3h0M91.6 573.0h0M136.9 573.0h0M89.8 572.6h0M128.5 572.3h0M139.2 572.2h0M105.5 572.0h0M98.3 573.0h0M136.9 572.0h0M118.9 572.5h0M91.5 572.8h0M83.3 573.0h0M108.0 572.0h0M135.2 572.5h0M119.7 572.5h0M125.9 572.3h0M138.4 572.1h0M120.0 572.4h0M89.4 572.5h0M106.2 572.9h0M91.4 572.6h0M89.8 572.4h0M99.0 571.9h0M120.3 572.5h0M105.3 572.6h0M91.3 571.9h0M134.1 572.3h0M118.3 572.9h0M111.8 572.9h0M98.8 572.4h0M89.5 572.8h0M123.1 572.5h0M132.7 572.9h0M84.6 572.0h0M115.8 572.3h0M112.7 572.9h0M138.0 572.5h0M133.8 572.9h0M95.8 572.4h0M94.2 572.1h0M94.9 573.0h0M89.1 572.8h0M136.2 572.0h0M119.5 572.6h0M81.8 572.1h0M86.9 572.9h0M105.4 572.1h0M90.3 573.0h0M133.7 573.1h0M123.4 572.9h0M97.2 572.9h0M105.6 572.0h0M129.7 572.5h0M84.6 572.9h0M97.0 572.1h0M134.3 573.1h0M99.4 571.9h0M88.4 573.0h0M95.3 572.0h0M95.1 572.2h0M86.4 572.3h0M89.4 572.4h0M123.8 572.0h0M105.5 571.9h0M103.7 572.0h0M134.1 571.9h0M85.7 572.8h0M121.1 572.0h0M94.7 572.2h0M107.9 573.1h0M84.4 573.1h0M93.0 572.0h0M120.1 572.1h0M134.3 572.6h0M121.1 572.3h0M120.8 573.0h0M132.6 572.9h0M106.0 572.3h0M124.0 572.1h0M98.0 572.7h0M123.0 573.0h0M131.7 572.7h0M102.8 572.7h0M122.1 572.9h0M87.4 573.0h0M87.2 572.4h0M138.6 573.1h0M107.0 572.7h0M97.9 572.7h0M85.8 572.6h0M95.3 573.0h0M87.4 572.0h0M122.4 571.9h0M128.1 572.2h0M92.9 573.0h0M138.3 572.3h0M122.7 572.9h0M126.8 572.5h0M84.6 572.8h0M137.4 572.4h0M84.8 573.0h0M124.3 572.7h0M108.0 572.9h0M90.0 572.5h0M104.9 572.9h0M88.3 572.6h0M86.1 573.0h0M107.7 573.0h0M123.4 572.2h0M121.6 572.0h0M89.2 572.6h0M104.2 573.0h0M130.9 573.1h0M138.3 572.3h0M138.4 573.0h0M132.9 571.9h0M126.0 572.4h0M118.2 572.5h0M130.5 572.4h0M112.1 572.6h0M117.0 572.4h0M135.7 572.2h0M99.1 572.2h0M93.3 572.5h0M110.9 572.2h0M83.6 572.9h0M90.3 572.4h0M89.5 572.4h0M132.2 572.6h0M92.7 572.4h0M104.0 572.6h0M90.0 572.3h0M100.0 571.9h0M109.1 572.3h0M134.8 571.9h0M80.6 572.0h0M85.5 572.0h0M126.6 572.8h0M122.2 572.4h0M106.4 572.3h0M106.7 572.3h0M121.0 573.1h0M117.7 572.3h0M131.3 572.5h0M111.8 572.9h0M91.0 572.0h0M83.0 572.0h0M86.7 572.6h0M116.6 573.1h0M106.1 572.1h0M102.4 572.9h0M82.9 572.0h0M85.6 572.3h0M117.6 572.8h0M112.8 572.3h0M91.8 572.8h0M134.7 572.9h0M108.6 572.6h0M126.0 572.1h0M125.1 572.3h0M111.7 573.0h0M113.7 572.6h0M124.6 572.6h0M86.6 572.6h0M129.2 572.5h0M119.4 573.0h0M92.6 572.8h0M108.4 573.0h0M136.0 572.7h0M79.4 572.8h0M109.4 572.4h0M128.2 573.0h0M137.5 572.1h0M110.2 572.3h0M97.7 572.9h0M79.9 571.9h0M132.7 572.6h0M115.4 572.5h0M120.6 573.0h0M124.5 572.9h0M114.8 572.4h0M130.2 572.4h0M90.0 572.1h0M101.7 572.4h0M127.3 571.9h0M85.5 572.6h0M98.2 572.1h0M103.2 572.0h0M126.9 572.6h0M125.1 572.3h0M86.3 572.7h0M87.4 572.1h0M103.0 572.7h0M122.3 571.9h0M87.8 572.3h0M93.0 572.2h0M124.1 572.2h0M114.3 573.0h0M130.4 573.0h0M114.1 571.9h0M95.4 572.5h0M119.9 572.3h0M98.7 572.6h0M133.1 572.2h0M89.7 572.3h0M130.4 572.4h0M133.0 572.8h0M96.7 572.1h0M94.7 572.9h0M88.2 572.0h0M128.7 572.9h0M123.8 572.9h0M116.6 573.1h0M113.9 572.2h0M109.6 572.3h0M86.4 572.6h0M126.3 572.7h0M123.9 572.4h0M127.8 572.2h0M97.6 572.1h0M128.3 572.6h0M122.4 572.6h0M113.9 572.7h0M107.0 572.7h0M133.0 572.4h0M116.1 572.5h0M107.2 572.9h0M118.1 572.6h0M99.9 572.5h0M87.1 572.3h0M126.3 572.7h0M89.0 571.9h0M116.5 572.7h0M84.7 572.4h0M92.5 572.0h0M122.3 572.8h0M103.7 573.0h0M92.8 572.4h0M132.3 572.6h0M137.1 572.8h0M85.5 572.1h0M102.0 572.8h0M106.0 572.4h0M92.5 573.0h0M115.1 572.3h0M112.9 572.9h0M130.9 572.6h0M111.8 572.0h0M87.3 572.5h0M104.7 572.3h0M92.8 572.8h0M92.9 572.4h0M97.3 572.0h0M131.6 572.2h0M103.7 572.1h0M113.7 572.2h0M136.6 573.0h0M125.0 572.0h0M103.6 572.7h0M81.2 572.0h0M91.7 573.1h0M84.6 572.5h0M120.3 572.0h0M119.1 573.0h0M135.1 572.1h0M127.7 572.0h0M129.4 572.3h0M125.3 573.1h0M138.7 573.1h0M104.8 572.4h0M109.9 572.7h0M109.8 572.7h0M119.0 573.1h0M100.0 572.3h0M106.7 573.1h0M106.9 572.0h0M110.6 572.2h0M102.3 571.9h0M110.8 572.1h0M116.9 572.1h0M102.8 572.0h0M138.6 572.0h0M133.8 572.7h0M99.6 572.0h0M128.8 572.4h0M112.9 573.1h0M112.9 573.0h0M110.9 572.8h0M115.8 572.9h0M99.0 572.2h0M114.1 572.9h0M138.4 573.1h0M104.1 572.2h0M114.2 572.3h0M133.5 573.0h0M109.8 572.8h0M115.3 572.5h0M117.1 572.1h0M109.4 572.6h0M112.7 572.9h0M134.1 572.6h0M109.2 572.1h0M129.3 571.9h0M121.8 572.5h0M105.1 572.2h0M116.5 573.1h0M113.1 572.3h0M100.8 572.1h0M123.8 572.0h0M96.8 572.3h0M113.0 572.7h0M97.2 573.0h0M129.5 572.8h0M100.1 572.8h0M112.7 572.5h0M131.3 573.0h0M99.9 572.1h0M126.9 573.0h0M106.1 571.9h0M138.1 572.7h0M123.9 572.7h0M83.2 572.0h0M86.8 571.9h0M106.4 572.1h0M107.9 572.0h0M124.1 572.9h0M80.7 572.9h0M115.7 573.0h0M83.7 572.6h0M82.5 572.7h0M117.1 572.8h0M126.7 572.8h0M101.2 572.6h0M130.3 573.0h0M128.0 573.0h0M137.5 572.4h0M124.3 572.5h0M119.5 572.3h0M88.1 572.9h0M133.8 572.8h0M93.9 573.0h0M122.1 572.2h0M81.5 572.1h0M86.2 572.5h0M110.1 572.8h0M98.7 572.5h0M126.3 572.8h0M93.3 571.9h0M95.2 573.0h0M135.2 572.0h0M92.2 572.5h0M131.7 572.7h0M99.8 573.1h0M87.1 572.4h0M109.1 572.1h0M106.0 572.8h0M102.9 572.9h0M108.1 572.3h0M90.4 572.4h0M139.2 572.3h0M98.4 572.3h0M85.9 573.0h0M127.8 572.3h0M116.8 572.4h0M100.3 572.1h0M110.2 572.1h0M123.4 572.7h0M128.2 572.7h0M116.3 572.1h0M136.5 572.4h0M91.3 572.9h0M129.1 572.7h0M88.1 572.4h0M104.4 572.2h0M90.1 572.5h0M136.7 572.9h0M102.6 572.6h0M87.1 572.9h0M98.1 572.4h0M87.5 572.3h0M101.8 572.7h0M130.3 572.2h0M106.0 572.8h0M109.9 572.3h0M124.9 572.3h0M79.4 572.9h0M139.1 572.4h0M110.1 573.0h0M126.5 572.1h0M97.9 572.8h0M83.7 572.7h0M110.1 572.6h0M79.8 573.0h0M93.4 572.1h0M137.2 572.1h0M108.9 572.7h0M133.0 572.2h0M118.1 572.3h0M135.6 572.5h0M94.6 572.2h0M135.1 572.8h0M102.4 572.2h0M127.3 573.0h0M127.7 572.8h0M86.9 573.0h0M107.0 572.6h0M90.5 572.2h0M90.4 572.0h0M139.2 572.7h0M80.7 573.0h0M111.4 572.7h0M126.0 572.6h0M94.7 572.9h0M138.8 572.2h0M120.1 572.8h0M105.9 572.2h0M118.1 572.8h0M100.3 572.1h0M82.6 572.3h0M121.7 572.5h0M112.5 572.0h0M98.8 572.2h0M122.7 572.2h0M83.3 572.3h0M101.8 572.9h0M133.8 572.8h0M107.2 572.7h0M86.0 572.8h0M116.1 572.3h0M124.2 572.9h0M95.7 572.1h0M110.8 572.2h0M107.0 572.6h0M81.3 572.1h0M133.6 572.2h0M92.3 572.3h0M120.1 572.8h0M101.9 572.0h0M95.1 572.4h0M82.1 573.1h0M81.9 572.7h0M135.1 572.4h0M108.3 572.9h0M112.7 572.9h0M83.3 572.7h0M94.7 572.2h0M113.1 572.3h0M96.0 572.6h0M86.1 572.8h0M138.9 572.3h0M99.5 572.3h0M134.0 572.1h0M110.8 572.9h0M82.4 573.0h0M128.5 572.2h0M121.3 572.2h0M87.7 572.4h0M79.9 573.1h0M116.5 573.1h0M104.1 572.7h0M131.5 572.7h0M91.6 572.3h0M88.6 571.9h0M134.6 571.9h0M116.4 572.9h0M91.4 572.2h0M105.6 572.3h0M91.9 572.4h0M130.6 572.8h0M129.3 572.9h0M119.2 573.1h0M93.9 573.0h0M91.1 572.5h0M128.0 572.1h0M134.1 572.8h0M135.5 572.6h0M119.3 572.2h0M95.6 572.8h0M105.5 572.7h0M123.0 572.1h0M119.0 573.0h0M127.2 572.2h0M138.3 572.9h0M135.3 572.6h0M112.6 572.9h0M94.4 572.6h0M113.1 572.8h0M112.5 572.6h0M92.4 572.3h0M98.5 573.1h0M93.8 572.6h0M116.3 573.0h0M132.6 573.0h0M136.1 573.1h0M97.8 572.7h0M119.7 573.0h0M91.7 572.1h0M134.4 573.0h0M85.2 572.7h0M101.0 572.3h0M135.8 572.3h0M99.2 572.8h0M83.1 573.0h0M131.1 572.1h0M101.5 572.8h0M131.1 572.8h0M103.6 572.0h0M80.8 572.7h0M91.3 572.6h0M135.4 571.9h0M124.5 572.1h0M101.9 572.2h0M123.1 572.0h0M101.2 572.1h0M90.7 572.4h0M136.2 572.2h0M124.7 572.9h0M101.6 572.4h0M127.6 572.8h0M111.7 572.2h0M120.6 572.8h0M85.2 572.7h0M90.9 572.4h0M110.9 573.0h0M135.5 572.0h0M90.9 572.8h0M136.8 573.1h0M88.9 572.7h0M129.9 573.0h0M111.0 572.2h0M116.9 572.6h0M118.3 572.2h0M108.3 572.8h0M117.2 572.1h0M85.1 572.3h0M104.4 572.9h0M99.0 573.0h0M128.7 572.4h0M105.4 572.1h0M129.0 572.6h0M81.3 572.4h0M93.3 572.4h0M85.3 572.1h0M130.4 572.9h0M128.4 573.0h0M87.9 572.4h0M93.6 572.6h0M101.5 572.2h0M125.8 572.0h0M93.6 572.8h0M129.2 572.6h0M86.2 572.5h0M93.6 572.3h0M103.6 572.9h0M124.4 572.0h0M88.4 572.8h0M109.3 572.9h0M137.0 572.6h0M83.7 572.9h0M92.4 572.8h0M115.8 572.0h0M103.1 572.4h0M136.7 572.5h0M102.1 572.1h0M120.0 572.6h0M128.2 572.8h0M85.3 572.8h0M99.2 572.1h0M94.5 573.0h0M85.8 572.1h0M109.4 572.0h0M99.4 572.9h0M90.2 572.2h0M109.5 572.1h0M136.2 572.5h0M84.8 572.1h0M132.2 572.4h0M111.2 572.2h0M100.8 573.1h0M136.7 572.5h0M99.6 572.0h0M133.7 572.6h0M123.8 571.9h0M110.3 572.5h0M135.6 572.9h0M121.5 572.9h0M98.8 572.2h0M83.9 572.0h0M122.4 572.0h0M130.1 572.4h0M103.4 573.0h0M134.0 572.2h0M98.5 572.8h0M137.2 572.7h0M89.6 572.8h0M121.8 572.1h0M95.4 572.3h0M115.2 572.3h0M89.1 572.2h0M85.5 573.0h0M115.4 572.0h0M120.7 572.1h0M130.6 572.3h0M134.7 571.9h0M129.5 572.9h0M96.6 572.6h0M112.1 572.5h0M132.7 572.3h0M134.7 571.9h0M81.9 572.8h0M138.3 573.0h0M102.1 572.9h0M119.2 572.6h0M131.4 571.9h0M132.3 572.7h0M117.7 571.9h0M104.6 572.6h0M138.7 572.4h0M80.0 572.4h0M87.1 573.1h0M132.0 572.2h0M103.4 572.0h0M92.5 573.0h0M82.7 572.5h0M94.8 572.3h0M137.5 572.5h0M129.3 573.0h0M122.6 572.8h0M130.7 572.4h0M100.9 572.6h0M93.1 572.2h0M108.5 572.9h0M96.0 572.6h0M96.1 572.9h0M112.3 572.2h0M79.5 572.3h0M91.2 572.5h0M127.8 572.7h0M129.7 573.0h0M97.7 573.1h0M88.6 572.3h0M134.8 572.2h0M92.4 572.4h0M117.3 572.8h0M83.2 572.1h0M135.1 572.7h0M85.6 572.1h0M90.9 573.0h0M138.7 572.9h0M93.6 572.3h0M122.5 572.3h0M89.3 572.0h0M101.3 572.9h0M126.7 572.8h0M104.7 572.8h0M107.8 572.2h0M86.8 571.9h0M109.5 572.1h0M106.4 572.7h0M113.2 573.0h0M91.3 573.0h0M89.9 572.8h0M89.6 572.0h0M82.1 572.8h0M83.3 572.4h0M132.4 572.4h0M102.6 572.2h0M115.2 572.2h0M122.8 572.8h0M83.6 572.7h0M91.8 572.2h0M129.9 573.0h0M114.0 572.5h0M106.1 572.8h0M139.0 572.1h0M125.5 572.1h0M134.8 572.0h0M126.2 572.3h0M81.1 572.7h0M99.3 572.2h0M81.2 572.2h0M104.6 573.0h0M101.9 572.8h0M119.6 572.8h0M94.0 572.1h0M103.1 572.2h0M87.5 572.6h0M89.8 572.8h0M109.6 572.1h0M109.5 572.1h0M99.5 573.0h0M129.5 572.8h0M96.9 572.3h0M139.1 572.5h0M110.1 572.8h0M83.2 572.7h0M92.0 572.5h0M87.2 572.8h0M95.8 573.1h0M127.1 572.7h0M121.7 572.2h0M122.5 572.5h0M91.1 572.4h0M99.5 572.8h0M129.2 572.0h0M130.3 572.0h0M115.8 572.1h0M116.9 572.0h0M91.0 572.9h0M84.9 572.6h0M138.3 572.4h0M96.4 572.3h0M98.5 572.4h0M123.1 572.2h0M114.5 572.6h0M90.0 573.0h0M85.3 572.7h0M130.0 572.1h0M91.0 572.2h0M101.4 572.7h0M133.3 572.4h0M112.6 572.0h0M96.6 572.7h0M86.1 572.8h0M122.0 573.0h0M109.4 572.9h0M109.8 573.0h0M118.8 572.5h0M131.1 572.8h0M88.2 572.4h0M98.2 572.0h0M118.1 572.1h0M115.5 572.3h0M94.4 572.5h0M92.0 572.3h0M106.1 572.0h0M115.1 572.2h0M85.7 571.9h0M125.6 572.8h0M120.4 572.3h0M99.7 572.8h0M84.2 572.9h0M100.0 572.8h0M91.5 572.0h0M91.6 572.6h0M85.9 572.6h0M83.3 572.9h0M130.7 572.4h0M116.9 572.5h0M115.3 572.9h0M81.8 572.4h0M93.0 573.1h0M130.6 572.4h0M124.8 572.8h0M90.8 572.2h0M90.5 572.8h0M136.2 572.3h0M126.4 572.1h0M85.8 573.0h0M94.5 572.0h0M133.1 573.0h0M111.1 573.0h0M107.6 572.1h0M106.2 572.8h0M90.6 572.2h0M110.3 573.1h0M92.0 573.0h0M106.5 572.9h0M103.4 572.9h0M139.2 572.2h0M81.8 572.2h0M85.7 572.2h0M113.5 572.2h0M106.2 572.2h0M101.9 572.3h0M95.5 572.9h0M120.6 572.0h0M116.1 572.8h0M92.0 572.8h0M106.2 572.6h0M98.0 572.4h0M106.1 572.9h0M84.4 572.3h0M88.2 572.3h0M86.0 572.6h0M98.4 572.1h0M88.5 572.0h0M98.5 572.8h0M108.8 572.0h0M113.7 572.9h0M135.5 572.9h0M127.6 572.2h0M136.2 572.0h0M118.0 572.3h0M128.6 572.0h0M98.6 572.1h0M113.5 572.4h0M101.5 572.4h0M105.4 572.8h0M116.0 572.8h0M106.3 572.1h0M121.8 573.0h0M136.8 573.0h0M92.8 573.1h0M130.7 572.7h0M83.9 572.7h0M117.6 572.7h0M80.6 572.7h0M117.6 572.2h0M134.9 572.0h0M111.5 572.8h0M99.4 572.0h0M117.2 572.4h0M126.8 572.6h0M103.2 572.4h0M88.7 572.1h0M125.1 572.7h0M119.5 572.7h0M89.1 573.1h0M98.6 572.7h0M129.1 572.4h0M135.3 572.2h0M96.2 572.6h0M131.7 572.8h0M89.5 572.9h0M121.1 571.9h0M131.9 572.1h0M95.4 572.0h0M100.3 572.7h0M98.9 572.0h0M99.0 572.1h0M94.0 572.2h0M135.0 572.5h0M120.6 572.1h0M93.3 572.3h0M97.4 573.0h0M84.0 572.4h0M86.0 572.6h0M118.0 572.6h0M124.9 572.9h0M125.4 572.3h0M91.7 572.6h0M79.8 572.3h0M91.4 572.0h0M82.2 572.4h0M103.9 572.6h0M128.2 572.6h0M120.9 572.1h0M131.0 572.2h0M138.2 572.0h0M106.3 572.9h0M86.5 572.9h0M119.3 572.5h0M108.7 572.9h0M103.3 572.8h0M82.8 572.5h0M91.5 572.7h0M105.4 572.6h0M92.2 572.2h0M136.6 572.4h0M134.7 572.0h0M81.0 572.2h0M138.4 572.8h0M123.1 572.4h0M137.8 572.5h0M131.9 572.6h0M82.6 572.5h0M102.6 573.0h0M97.6 572.9h0M133.4 572.0h0M111.6 572.0h0M103.3 572.3h0M120.2 571.9h0M121.2 572.8h0M111.1 572.1h0M126.4 572.8h0M136.3 572.5h0M128.2 572.0h0M129.2 572.9h0M106.3 573.0h0M92.3 573.0h0M94.0 573.0h0M122.6 571.9h0M122.5 572.1h0M117.3 572.5h0M105.9 573.1h0M124.4 572.9h0M132.7 572.8h0M107.4 572.3h0M106.2 572.6h0M139.1 572.1h0M88.9 572.3h0M123.7 572.7h0M86.0 572.4h0M102.5 572.6h0M118.7 573.0h0M114.3 572.1h0M127.3 572.2h0M89.8 572.7h0M99.0 571.9h0M130.5 572.4h0M93.1 572.3h0M134.9 571.9h0M133.6 572.8h0M138.2 572.3h0M127.3 572.9h0M135.3 572.0h0M120.1 572.3h0M113.3 572.7h0M128.0 572.2h0M121.4 572.4h0M128.1 572.6h0M125.6 572.3h0M134.3 572.6h0M136.4 572.8h0M110.4 572.5h0M136.2 572.3h0M98.6 572.9h0M108.6 572.6h0M99.3 572.6h0M116.6 572.3h0M85.6 573.0h0M123.5 572.6h0M128.3 572.9h0M131.4 572.2h0M116.8 572.0h0M89.3 572.4h0M138.6 572.9h0M94.3 572.2h0M112.1 573.0h0M111.1 572.7h0M114.6 568.8h0M109.2 573.0h0M106.6 571.7h0M112.2 572.2h0M104.7 567.9h0M106.7 571.9h0M105.3 569.8h0M112.5 572.0h0M111.6 572.2h0M114.8 569.8h0M115.5 572.8h0M114.0 572.1h0M105.4 570.9h0M113.4 569.8h0M104.3 570.6h0M105.2 568.8h0M105.9 569.8h0M114.4 569.0h0M112.8 570.5h0M107.1 572.5h0M115.0 568.8h0M108.4 572.5h0M114.7 567.8h0M104.1 568.4h0M110.7 572.7h0M112.9 570.6h0M114.7 568.2h0M106.0 570.4h0M112.5 572.0h0M104.6 570.9h0M113.3 570.4h0M107.1 572.5h0M111.1 572.6h0M105.7 570.1h0M112.1 572.0h0M112.0 572.8h0M111.0 572.6h0M107.2 572.2h0M113.2 570.9h0M109.6 573.1h0M112.4 571.1h0M113.1 572.6h0M107.5 571.5h0M107.0 571.9h0M105.1 568.3h0M110.9 572.7h0M106.4 572.7h0M113.0 570.7h0M106.0 569.5h0M114.1 568.7h0M104.4 567.2h0M114.8 568.8h0M106.1 569.8h0M114.9 569.4h0M104.4 566.6h0M104.8 568.0h0M113.8 572.6h0M111.3 572.3h0M115.7 565.1h0M105.1 568.2h0M115.4 567.3h0M115.3 571.8h0M111.8 571.7h0M107.1 571.0h0M113.2 570.1h0M111.1 572.6h0M110.1 573.1h0M106.7 570.6h0M104.2 566.1h0M113.8 572.2h0M112.0 571.6h0M113.5 571.3h0M114.8 567.2h0M106.3 570.1h0M115.1 567.4h0M114.8 571.0h0M109.6 573.1h0M112.4 571.8h0M105.8 570.6h0M106.1 569.3h0M104.3 569.6h0M105.0 567.8h0M110.3 573.0h0M104.6 571.0h0M115.1 569.8h0M114.0 570.0h0M105.4 571.4h0M115.6 571.3h0M108.0 572.1h0M108.8 572.8h0M104.1 569.1h0M113.4 569.5h0M105.9 569.1h0M108.9 572.8h0M104.7 568.8h0M109.7 573.1h0M109.3 572.9h0M105.9 571.5h0M105.7 570.4h0M111.8 571.9h0M104.6 568.9h0M106.3 569.6h0M111.9 571.8h0M111.4 572.4h0M107.8 572.1h0M114.6 567.7h0M106.7 570.7h0M106.4 569.8h0M104.5 569.4h0M109.3 573.1h0M104.4 570.0h0M112.5 571.9h0M109.0 572.8h0M107.5 571.9h0M104.6 570.1h0M113.3 570.2h0M112.1 573.1h0M105.4 570.8h0M111.2 572.6h0M115.5 568.7h0M104.9 568.7h0M115.5 566.6h0M105.0 567.7h0M108.7 572.6h0M114.3 568.0h0M107.2 571.1h0M113.1 570.8h0M112.2 572.1h0M104.4 567.8h0M111.8 572.3h0M108.2 572.0h0M104.4 570.8h0M111.9 572.7h0M108.2 572.3h0M108.3 572.2h0M106.0 569.5h0M114.9 567.0h0M112.3 571.8h0M104.8 566.9h0M104.4 568.1h0M113.8 570.3h0M111.2 572.5h0M115.4 569.7h0M107.8 572.3h0M112.0 572.4h0M113.3 570.0h0M113.1 571.2h0M114.7 567.3h0M113.6 569.5h0M112.3 571.4h0M106.9 571.2h0M113.4 569.5h0M114.6 568.8h0M104.2 569.8h0M115.2 571.6h0M114.7 569.0h0M107.2 570.9h0M110.3 573.1h0M107.0 571.0h0M105.2 568.7h0M110.2 573.1h0M106.0 569.9h0M115.4 569.9h0M107.7 572.0h0M115.3 567.2h0M114.9 570.4h0M111.5 572.1h0M104.4 569.0h0M104.1 567.2h0M107.2 571.0h0M113.9 569.6h0M108.7 572.9h0M112.0 571.7h0M111.5 573.0h0M114.4 570.0h0M104.6 568.0h0M111.8 572.0h0M112.0 572.2h0M112.3 571.1h0M115.5 571.8h0M108.4 572.7h0M114.1 569.7h0M104.6 571.9h0M113.5 571.0h0M113.7 569.5h0M106.6 570.8h0M106.9 570.7h0M108.7 572.9h0M105.9 569.6h0M115.3 566.8h0M104.1 565.3h0M106.9 570.4h0M107.6 571.8h0M109.5 573.1h0M110.8 572.7h0M114.2 570.0h0M106.4 570.1h0M111.4 572.4h0M113.7 570.7h0M111.7 572.9h0M107.4 571.8h0M105.9 572.2h0M111.6 573.0h0M112.5 571.9h0M110.2 573.0h0M115.6 566.0h0M107.0 571.0h0M105.6 568.7h0M105.0 571.5h0M108.0 572.3h0M107.8 571.8h0M104.6 570.1h0M115.3 566.7h0M104.1 566.4h0M106.2 571.5h0M113.6 571.1h0M111.9 571.8h0M108.9 572.8h0M104.6 568.4h0M112.8 570.5h0M112.2 572.0h0M111.3 572.9h0M114.2 572.3h0M108.6 572.8h0M114.4 569.4h0M105.9 571.6h0M113.5 571.3h0M110.7 573.0h0M115.4 569.3h0M104.5 569.4h0M115.3 566.1h0M104.1 566.3h0M111.9 572.5h0M107.7 572.6h0M114.7 567.8h0M108.0 572.7h0M108.4 573.0h0M104.5 566.5h0M107.5 571.3h0M107.7 571.8h0M105.8 569.3h0M106.0 572.3h0M104.4 567.5h0M114.4 568.6h0M105.4 569.4h0M104.7 567.4h0M113.8 569.6h0M114.4 572.7h0M108.9 573.0h0M105.1 568.3h0M113.9 569.6h0M114.5 569.5h0M114.6 569.0h0M112.9 571.3h0M104.0 571.9h0M107.0 571.0h0M105.2 569.7h0M111.2 572.5h0M112.9 572.8h0M114.1 568.3h0M106.1 570.2h0M107.3 572.0h0M104.3 566.9h0M112.0 571.8h0M104.2 567.0h0M109.4 573.0h0M114.7 568.3h0M113.7 569.8h0M113.1 570.8h0M105.3 568.5h0M114.3 568.3h0M107.9 572.2h0M107.8 571.9h0M108.3 572.3h0M107.6 571.6h0M111.0 572.8h0M115.0 568.2h0M113.5 570.0h0M112.1 571.6h0M113.9 570.9h0M109.6 573.1h0M114.9 567.3h0M109.9 573.1h0M107.9 572.9h0M115.0 571.5h0M113.7 569.9h0M112.8 570.7h0M111.4 572.4h0M112.5 571.4h0M106.7 571.2h0M108.0 571.8h0M105.8 570.2h0M104.8 567.4h0M111.0 572.9h0M104.6 566.7h0M113.6 569.3h0M115.2 567.8h0M115.3 568.4h0M106.1 570.2h0M113.1 570.1h0M112.9 571.3h0M114.9 569.7h0M114.6 568.2h0M107.2 571.5h0M110.3 573.0h0M106.4 570.5h0M115.7 569.4h0M104.4 568.5h0M104.7 566.9h0M105.1 570.1h0M110.4 573.0h0M107.5 572.4h0M113.9 570.0h0M106.8 572.6h0M106.2 570.6h0M107.1 571.7h0M105.5 568.2h0M105.9 569.7h0M114.9 571.7h0M113.6 569.5h0M107.2 571.5h0M114.7 568.5h0M115.7 565.3h0M109.4 573.1h0M104.4 572.3h0M106.8 571.5h0M111.4 572.2h0M109.8 573.1h0M114.2 570.0h0M114.1 569.8h0M114.1 572.0h0M107.4 571.4h0M105.2 570.5h0M104.8 567.8h0M111.3 572.4h0M112.8 572.3h0M111.3 572.3h0M107.2 572.1h0M110.2 573.0h0M111.7 572.0h0M106.7 572.5h0M104.3 567.2h0M104.2 565.8h0M112.2 571.4h0M114.7 569.0h0M115.3 567.3h0M106.1 569.9h0M105.2 570.6h0M113.0 571.0h0M107.2 572.6h0M113.4 569.5h0M115.2 571.2h0M107.0 571.0h0M104.3 567.1h0M115.1 568.1h0M106.1 570.6h0M108.8 572.7h0M114.4 568.9h0M106.3 570.3h0M115.3 566.7h0M114.6 569.1h0M107.8 572.0h0M104.4 566.1h0M104.3 571.2h0M110.1 573.1h0M115.0 568.4h0M114.4 571.6h0M107.4 572.0h0M106.5 572.4h0M105.3 569.5h0M115.4 569.9h0M115.7 569.7h0M105.5 570.7h0M114.5 568.8h0M108.2 572.4h0M115.5 568.0h0M115.6 568.1h0M104.8 567.4h0M108.6 572.4h0M114.8 567.3h0M105.2 570.3h0M104.4 566.3h0M106.3 571.2h0M109.2 573.0h0M105.0 569.1h0M106.5 571.2h0M114.9 568.5h0M108.9 572.8h0M107.4 571.5h0M104.9 567.1h0M105.3 569.1h0M111.4 572.2h0M115.0 569.3h0M111.8 572.5h0M114.1 568.7h0M106.6 570.6h0M107.7 571.7h0M104.4 567.3h0" stroke="#619CFF" stroke-width="1.8" stroke-linecap="round" fill="none"/>
<path d="M97.4 564.3h0M93.6 566.0h0M85.5 543.5h0M92.1 561.9h0M90.7 564.5h0M81.4 568.0h0M57.6 560.6h0M91.3 570.1h0M84.3 570.8h0M87.7 518.0h0M102.0 570.9h0M97.3 570.4h0M91.7 568.9h0M78.1 565.8h0M80.7 571.1h0M83.7 567.3h0M98.8 565.3h0M91.1 560.2h0M88.7 569.9h0M81.1 567.5h0M98.3 560.2h0M101.8 570.9h0M89.2 570.1h0M90.8 566.6h0M96.4 571.0h0M95.1 571.0h0M95.9 547.4h0M97.9 562.4h0M92.0 562.0h0M94.0 561.1h0M89.5 535.8h0M101.1 568.6h0M89.8 568.4h0M94.1 568.5h0M98.4 564.9h0M99.8 568.8h0M76.3 568.4h0M96.9 570.7h0M93.4 567.2h0M91.0 570.5h0M102.9 568.7h0M76.0 569.9h0M86.7 567.7h0M97.7 556.6h0M76.1 511.0h0M70.8 562.1h0M98.7 569.2h0M97.6 566.9h0M95.2 569.0h0M96.0 566.3h0M71.2 564.4h0M76.0 569.4h0M93.6 568.8h0M99.5 565.6h0M91.8 569.0h0M93.7 569.6h0M91.7 565.6h0M93.8 563.8h0M102.6 569.6h0M93.2 571.0h0M97.4 571.0h0M93.0 570.4h0M90.6 570.6h0M96.4 571.3h0M98.0 570.1h0M100.1 568.7h0M84.1 570.3h0M103.2 567.8h0M91.0 570.8h0M94.4 571.1h0M101.1 568.4h0M98.0 555.0h0M91.9 566.8h0M99.0 568.1h0M94.0 565.2h0M98.5 563.2h0M88.6 566.5h0M98.1 569.5h0M96.7 566.8h0M91.5 571.4h0M84.1 570.6h0M88.7 546.0h0M98.9 570.0h0M94.1 566.5h0M102.9 568.5h0M88.3 564.4h0M94.4 567.9h0M87.8 565.4h0M98.2 570.1h0M96.5 569.8h0M75.8 554.8h0M99.4 561.7h0M88.3 536.9h0M81.9 570.1h0M92.5 554.5h0M88.4 569.2h0M97.0 560.5h0M87.2 559.8h0M73.8 567.4h0M100.7 566.1h0M96.1 563.3h0M80.7 511.7h0M97.8 568.1h0M65.8 563.4h0M94.3 566.2h0M100.5 570.0h0M80.9 560.6h0M95.0 566.5h0M71.6 522.6h0M97.6 561.7h0M100.4 565.9h0M99.6 567.6h0M97.5 570.0h0M89.9 570.0h0M103.2 570.5h0M99.3 571.1h0M93.4 543.4h0M97.0 562.1h0M96.1 571.2h0M87.7 533.4h0M91.4 570.9h0M98.8 569.8h0M94.8 570.4h0M98.0 570.0h0M92.3 561.0h0M95.0 570.7h0M97.2 566.8h0M74.6 553.2h0M93.5 564.3h0M98.1 571.3h0M87.0 567.7h0M84.6 564.9h0M100.1 569.1h0M96.1 566.2h0M82.7 561.1h0M93.9 569.5h0M97.0 564.6h0M94.1 570.5h0M96.3 568.8h0M86.7 569.1h0M96.8 566.6h0M89.0 564.9h0M91.1 527.5h0M86.5 565.9h0M89.8 567.9h0M97.7 571.3h0M90.7 569.0h0M66.4 570.2h0M98.4 569.8h0M85.2 543.4h0M75.2 530.5h0M91.4 569.9h0M100.4 569.8h0M99.6 570.5h0M85.5 549.1h0M93.5 570.3h0M95.7 569.9h0M93.2 549.0h0M77.4 562.3h0M98.3 568.8h0M96.1 569.2h0M95.5 568.5h0M100.2 568.1h0M99.3 557.3h0M95.5 570.2h0M87.6 569.7h0M103.2 569.7h0M88.4 570.5h0M85.7 540.2h0M87.6 569.3h0M76.0 571.2h0M84.2 567.5h0M97.8 555.4h0M95.6 563.7h0M96.0 564.6h0M78.0 569.9h0M100.6 567.1h0M98.3 562.7h0M100.1 567.5h0M98.4 561.0h0M92.5 563.8h0M101.3 568.9h0M92.3 567.2h0M94.2 553.6h0M100.3 567.9h0M91.7 558.7h0M82.9 567.9h0M87.4 569.6h0M96.0 570.7h0M98.6 566.6h0M88.5 569.9h0M95.7 570.3h0M85.9 540.7h0M92.1 571.4h0M101.1 571.2h0M96.2 570.5h0M90.6 559.0h0M96.1 569.7h0M97.3 567.7h0M97.9 561.3h0M90.8 562.6h0M98.5 563.2h0M86.5 569.1h0M94.4 565.3h0M81.4 548.7h0M89.0 569.5h0M101.0 571.3h0M92.3 571.0h0M99.1 569.7h0M78.8 569.2h0M85.0 560.1h0M91.9 569.9h0M98.5 569.3h0M92.5 569.5h0M67.9 566.9h0M92.4 566.2h0M92.6 570.7h0M85.8 570.1h0M97.8 567.6h0M89.8 553.5h0M100.0 568.3h0M92.6 549.7h0M92.3 567.7h0M69.2 568.0h0M96.8 569.8h0M89.7 570.7h0M93.4 569.4h0M95.3 559.8h0M97.3 565.8h0M92.2 562.8h0M95.3 565.3h0M91.7 569.9h0M96.4 571.4h0M89.2 569.2h0M102.0 565.5h0M82.0 565.1h0M97.2 571.4h0M94.2 567.2h0M71.5 567.5h0M93.0 569.8h0M99.6 560.8h0M92.7 566.0h0M78.2 562.0h0M93.8 567.6h0M97.8 568.7h0M86.1 512.3h0M88.0 541.4h0M76.5 532.1h0M99.9 568.3h0M83.6 570.4h0M89.4 570.9h0M98.7 567.1h0M96.7 571.0h0M85.7 558.4h0M72.1 570.4h0M97.2 571.2h0M101.9 568.4h0M102.5 563.9h0M96.6 567.7h0M96.1 567.6h0M65.0 569.6h0M98.2 564.2h0M100.5 568.3h0M90.5 551.7h0M87.1 564.4h0M90.9 571.3h0M86.1 548.7h0M97.7 565.6h0M83.1 567.6h0M88.1 546.9h0M78.2 510.9h0M91.9 570.3h0M96.7 568.4h0M85.3 542.6h0M80.7 556.6h0M102.5 570.3h0M94.1 570.2h0M95.0 571.3h0M95.9 569.8h0M94.5 569.5h0M99.5 567.6h0M79.4 569.9h0M96.3 567.7h0M89.5 566.2h0M97.3 570.1h0M77.9 569.9h0M90.8 544.1h0M83.1 546.4h0M97.9 571.2h0M92.3 569.3h0M98.5 565.6h0M97.3 563.6h0M99.8 570.8h0M100.7 569.8h0M98.2 569.5h0M91.6 555.3h0M86.2 569.6h0M78.6 570.2h0M96.0 566.2h0M98.3 566.9h0M101.4 565.0h0M87.7 551.4h0M96.1 565.4h0M95.0 570.4h0M84.7 569.2h0M100.6 566.9h0M101.1 566.7h0M95.8 566.3h0M80.3 550.0h0M75.4 570.3h0M92.5 557.1h0M98.6 569.4h0M101.8 570.2h0M96.3 569.3h0M89.2 561.1h0M95.5 568.4h0M93.8 568.6h0M92.9 564.2h0M94.1 565.2h0M86.6 568.5h0M98.2 567.4h0M87.0 549.2h0M102.8 568.5h0M90.2 570.9h0M91.5 567.6h0M98.2 571.0h0M86.3 541.0h0M83.9 569.0h0M95.8 570.4h0M96.9 571.1h0M91.8 565.6h0M93.3 570.2h0M97.1 565.6h0M95.6 567.6h0M95.3 570.1h0M86.5 571.0h0M96.8 569.4h0M86.5 567.3h0M88.4 569.5h0M95.1 568.1h0M75.4 566.6h0M83.0 570.5h0M86.3 568.3h0M101.2 567.4h0M102.3 563.7h0M92.4 546.7h0M95.7 554.7h0M91.5 568.3h0M88.3 564.7h0M96.6 571.1h0M96.4 559.6h0M101.9 567.1h0M78.7 562.3h0M100.5 568.0h0M96.4 558.3h0M102.9 569.5h0M76.2 566.4h0M94.2 570.8h0M77.5 571.3h0M78.3 570.5h0M102.6 566.2h0M81.3 564.6h0M98.7 569.0h0M103.2 571.4h0M90.5 570.5h0M85.8 561.1h0M99.8 568.1h0M90.4 569.1h0M82.4 570.0h0M92.8 552.3h0M91.3 569.9h0M97.8 565.5h0M95.9 569.1h0M88.5 561.4h0M89.5 561.4h0M89.5 550.4h0M94.2 570.2h0M85.3 562.1h0M93.5 552.9h0M97.9 568.8h0M90.8 568.9h0M99.4 568.3h0M96.4 567.5h0M98.7 570.0h0M98.8 570.0h0M89.1 570.4h0M91.4 565.2h0M99.3 561.7h0M86.5 559.3h0M95.5 570.9h0M80.9 563.5h0M88.7 552.1h0M97.9 568.7h0M92.5 569.5h0M94.7 569.7h0M96.7 563.2h0M96.7 569.0h0M98.3 567.9h0M78.2 568.6h0M88.3 567.5h0M94.0 568.8h0M94.4 567.4h0M91.5 569.3h0M91.4 533.1h0M77.3 570.5h0M89.3 568.7h0M88.2 571.3h0M80.9 561.8h0M94.3 557.9h0M91.2 566.3h0M90.1 549.2h0M75.4 552.3h0M100.4 571.0h0M100.2 566.6h0M84.3 567.6h0M89.5 566.1h0M100.4 569.4h0M93.4 563.7h0M92.9 564.4h0M102.2 567.1h0M73.8 568.5h0M96.5 565.9h0M102.3 568.2h0M95.2 558.6h0M94.5 566.6h0M83.8 570.4h0M97.1 567.8h0M74.6 568.5h0M88.0 566.1h0M101.7 562.4h0M83.8 570.3h0M93.2 568.1h0M94.4 563.9h0M70.6 557.2h0M84.9 564.1h0M93.4 569.0h0M85.4 568.9h0M88.3 569.7h0M102.1 565.4h0M99.2 571.4h0M96.8 563.1h0M89.8 571.0h0M92.0 570.1h0M97.2 571.2h0M95.6 556.8h0M95.2 567.7h0M97.5 568.8h0M96.6 562.0h0M97.5 567.4h0M102.3 565.6h0M101.0 570.7h0M98.8 564.6h0M95.0 569.6h0M97.9 570.6h0M103.4 569.7h0M95.1 563.1h0M98.6 571.0h0M102.3 570.4h0M88.0 537.8h0M91.6 558.9h0M99.1 570.7h0M100.6 563.1h0M101.2 569.2h0M89.3 570.8h0M90.6 570.2h0M97.8 571.4h0M82.4 570.1h0M96.1 570.9h0M100.0 563.1h0M97.7 569.2h0M91.9 570.1h0M96.1 557.6h0M88.1 548.9h0M99.5 564.0h0M99.9 568.8h0M90.1 561.4h0M90.1 562.3h0M88.9 569.2h0M90.8 556.8h0M98.8 568.4h0M102.5 566.1h0M98.9 569.7h0M82.2 567.1h0M80.6 530.8h0M89.9 571.1h0M96.9 567.1h0M98.9 569.7h0M95.1 563.9h0M101.9 568.4h0M93.5 550.5h0M97.8 571.3h0M98.6 569.5h0M99.8 570.9h0M86.5 568.1h0M96.0 567.1h0M100.8 568.2h0M87.1 561.3h0M92.9 542.4h0M66.1 565.0h0M92.7 540.2h0M96.0 570.1h0M81.4 566.8h0M72.1 542.9h0M92.1 559.7h0M100.9 568.9h0M96.2 561.6h0M87.7 568.8h0M99.9 567.3h0M89.2 556.4h0M79.2 562.7h0M97.7 569.3h0M96.2 566.6h0M85.9 566.6h0M88.1 568.8h0M98.5 568.6h0M96.4 568.2h0M95.3 568.5h0M98.9 564.0h0M98.1 565.0h0M84.2 569.2h0M75.9 571.1h0M97.7 564.7h0M79.7 571.1h0M97.1 570.5h0M73.1 570.7h0M98.4 565.4h0M86.8 548.8h0M89.1 563.9h0M99.7 559.3h0M72.9 570.7h0M98.7 571.2h0M98.1 563.2h0M88.5 560.8h0M72.9 571.0h0M99.9 567.3h0M93.5 556.8h0M91.8 571.1h0M99.1 570.1h0M92.1 570.2h0M91.6 570.4h0M99.1 570.9h0M98.4 569.3h0M86.3 563.3h0M103.4 569.4h0M90.8 568.2h0M102.1 565.9h0M88.4 567.4h0M92.4 571.3h0M101.9 571.0h0M95.2 555.5h0M96.3 563.9h0M100.4 568.9h0M90.3 555.5h0M93.4 564.0h0M90.2 562.2h0M81.6 560.3h0M99.7 566.0h0M97.7 559.1h0M96.1 570.2h0M88.3 559.6h0M84.8 570.1h0M95.8 561.4h0M87.6 550.5h0M99.9 568.5h0M86.5 559.2h0M90.8 570.4h0M95.7 570.0h0M97.5 561.6h0M92.2 571.2h0M99.4 570.7h0M90.9 570.8h0M83.4 565.0h0M86.2 569.6h0M91.6 556.0h0M101.2 568.8h0M96.9 567.3h0M88.5 568.2h0M92.2 550.8h0M92.0 552.1h0M83.8 542.4h0M87.8 565.8h0M93.1 569.9h0M101.2 567.4h0M93.4 553.8h0M78.4 571.3h0M69.3 562.9h0M84.3 570.9h0M102.2 567.1h0M90.5 570.6h0M99.4 568.3h0M98.5 568.7h0M99.2 571.4h0M99.3 564.0h0M100.9 566.8h0M94.7 570.6h0M94.5 570.4h0M90.0 530.2h0M98.7 568.2h0M71.6 557.0h0M102.3 564.2h0M95.9 570.1h0M93.7 566.3h0M94.2 553.8h0M101.2 570.9h0M103.2 569.4h0M97.3 570.2h0M85.0 566.2h0M94.3 566.9h0M91.9 538.2h0M87.8 570.5h0M95.3 564.6h0M92.4 559.1h0M96.9 570.1h0M101.7 569.6h0M89.2 568.1h0M90.0 570.8h0M93.3 570.6h0M84.9 570.5h0M63.7 565.9h0M91.5 570.3h0M97.3 561.9h0M80.3 561.7h0M92.2 568.2h0M94.9 562.0h0M87.8 565.5h0M92.5 570.1h0M95.7 570.3h0M89.9 559.0h0M84.0 563.5h0M88.9 568.0h0M90.3 547.1h0M101.9 569.2h0M88.0 523.3h0M89.2 568.9h0M87.0 555.1h0M89.6 563.1h0M89.0 565.7h0M87.7 567.5h0M97.2 563.1h0M94.5 559.4h0M88.1 571.1h0M102.2 567.8h0M86.3 528.4h0M87.7 566.1h0M96.8 570.4h0M99.8 568.0h0M97.9 567.7h0M89.1 566.5h0M95.7 566.8h0M99.5 568.9h0M92.5 561.7h0M93.3 568.5h0M84.7 563.6h0M97.1 568.6h0M89.3 568.2h0M96.5 569.9h0M100.1 561.0h0M87.4 513.1h0M94.4 555.0h0M101.3 570.6h0M81.1 570.7h0M76.3 551.0h0M95.5 564.5h0M83.7 569.9h0M89.1 563.3h0M88.9 569.2h0M73.5 566.6h0M96.3 567.3h0M99.0 569.6h0M102.6 570.3h0M92.1 568.1h0M95.2 562.0h0M84.6 568.8h0M87.6 562.3h0M89.1 550.1h0M102.8 565.1h0M88.5 533.3h0M99.4 569.5h0M96.1 566.9h0M99.7 568.1h0M62.7 567.5h0M94.7 558.6h0M97.1 554.8h0M95.2 570.3h0M92.9 551.5h0M99.3 565.1h0M80.8 562.5h0M99.6 569.9h0M89.1 566.4h0M92.8 555.3h0M91.5 565.3h0M74.9 563.8h0M88.0 556.0h0M85.6 544.8h0M93.5 570.8h0M85.7 568.8h0M96.6 561.8h0M79.5 570.9h0M88.2 567.5h0M93.2 553.3h0M79.6 571.0h0M93.5 570.3h0M100.4 570.8h0M99.8 568.4h0M101.4 568.4h0M97.1 570.6h0M97.2 569.0h0M90.4 562.6h0M84.7 564.4h0M88.2 570.7h0M90.3 549.8h0M98.3 571.0h0M102.1 567.2h0M98.3 570.8h0M98.0 570.8h0M99.0 566.6h0M88.0 542.9h0M81.3 568.1h0M102.4 568.6h0M95.7 571.4h0M88.9 547.4h0M94.3 568.4h0M81.1 568.1h0M90.7 570.8h0M85.7 567.7h0M98.7 561.3h0M96.6 570.3h0M98.8 559.2h0M86.1 558.4h0M96.3 571.1h0M85.5 565.2h0M72.4 549.8h0M96.1 570.4h0M91.4 565.5h0M94.4 567.1h0M89.2 521.2h0M88.3 521.7h0M78.3 566.9h0M87.9 571.2h0M93.3 558.2h0M87.9 571.0h0M99.5 564.3h0M92.6 570.4h0M94.0 568.3h0M81.4 570.9h0M90.5 569.9h0M80.5 558.3h0M99.7 571.3h0M96.2 571.3h0M88.7 555.0h0M93.7 559.9h0M83.4 570.3h0M100.9 567.8h0M96.5 566.5h0M96.8 570.5h0M88.2 571.4h0M99.1 567.6h0M96.9 558.6h0M96.9 570.0h0M86.4 569.5h0M102.6 569.5h0M96.4 570.5h0M69.5 570.9h0M99.4 564.7h0M75.7 561.6h0M96.7 563.4h0M78.2 561.6h0M97.7 571.3h0M93.4 570.1h0M86.1 550.8h0M98.6 570.1h0M86.6 570.0h0M76.0 559.7h0M92.9 553.4h0M100.7 562.0h0M98.7 565.7h0M101.8 571.1h0M97.7 559.2h0M96.1 548.5h0M87.4 553.3h0M92.9 564.4h0M85.8 571.3h0M97.6 558.9h0M91.8 550.4h0M92.9 566.1h0M81.2 568.1h0M97.2 570.3h0M89.7 570.0h0M95.6 558.1h0M91.0 568.0h0M78.1 570.8h0M98.2 566.5h0M84.7 556.0h0M98.2 571.0h0M96.2 561.0h0M94.5 566.9h0M90.0 547.7h0M94.5 568.9h0M94.0 570.0h0M91.8 570.5h0M90.6 563.2h0M84.2 569.7h0M99.5 571.2h0M86.6 569.8h0M96.7 565.1h0M89.1 559.1h0M100.2 564.8h0M89.4 559.1h0M96.9 567.0h0M90.1 567.6h0M97.2 570.9h0M85.3 568.7h0M100.0 568.8h0M98.8 564.3h0M82.9 558.4h0M82.2 565.4h0M79.1 570.8h0M87.1 568.4h0M98.7 570.2h0M100.9 568.7h0M92.8 570.6h0M88.0 569.0h0M78.9 555.6h0M87.6 566.5h0M90.8 565.5h0M95.7 568.7h0M80.7 569.7h0M98.6 555.3h0M100.2 569.1h0M77.1 566.0h0M78.6 530.3h0M92.1 564.6h0M102.9 568.8h0M99.8 566.2h0M81.4 566.5h0M92.0 567.3h0M83.9 562.1h0M74.4 570.5h0M102.3 569.5h0M89.8 562.1h0M99.3 566.6h0M93.2 560.1h0M91.2 562.7h0M89.9 558.2h0M97.5 568.9h0M87.5 541.4h0M102.5 568.3h0M95.5 569.7h0M100.0 564.4h0M86.8 566.7h0M85.4 563.6h0M89.6 561.2h0M96.4 551.1h0M93.1 560.8h0M85.3 569.9h0M93.2 557.1h0M95.2 570.6h0M102.0 563.9h0M96.1 571.1h0M101.1 571.1h0M83.9 570.0h0M87.2 565.7h0M92.1 565.6h0M100.3 569.7h0M90.8 560.1h0M94.1 565.6h0M98.0 558.9h0M95.8 559.0h0M101.5 565.3h0M93.3 553.3h0M100.5 570.1h0M94.8 570.6h0M91.1 559.4h0M95.3 568.2h0M75.5 555.4h0M91.4 570.0h0M95.0 567.1h0M89.4 568.2h0M102.2 570.7h0M94.3 568.2h0M86.4 569.9h0M94.5 565.2h0M84.1 546.3h0M91.7 568.2h0M85.2 555.9h0M89.6 568.0h0M90.7 567.9h0M83.3 557.5h0M85.2 567.8h0M79.6 567.4h0M92.0 567.0h0M87.4 570.0h0M82.3 528.6h0M91.5 544.1h0M97.6 569.2h0M91.7 570.6h0M99.4 561.5h0M89.9 540.0h0M100.1 562.9h0M94.5 560.3h0M68.8 562.5h0M69.6 571.3h0M97.4 569.5h0M80.1 535.1h0M88.8 568.5h0M93.4 548.2h0M97.0 570.4h0M91.3 571.0h0M85.3 563.1h0M100.6 565.5h0M91.1 564.4h0M100.0 570.5h0M92.5 570.9h0M97.9 568.1h0M97.0 569.9h0M93.1 562.4h0M92.4 571.2h0M100.8 569.0h0M79.4 569.2h0M96.6 558.8h0M101.7 570.4h0M91.3 563.1h0M99.1 564.6h0M87.6 544.9h0M91.2 570.5h0M91.7 571.3h0M97.2 569.7h0M98.7 563.3h0M92.1 566.3h0M98.4 566.7h0M91.7 566.6h0M98.8 560.5h0M100.4 566.8h0M73.8 570.9h0M98.2 567.5h0M82.7 566.2h0M68.9 567.0h0M89.9 570.3h0M101.7 571.2h0M93.0 571.1h0M102.1 569.8h0M97.2 569.1h0M95.9 568.5h0M85.6 570.6h0M86.9 569.3h0M90.5 567.6h0M86.1 556.4h0M87.9 567.1h0M74.2 550.9h0M87.9 558.6h0M96.3 551.6h0M96.9 570.7h0M100.0 567.1h0M96.7 570.8h0M97.4 569.7h0M78.8 570.6h0M90.7 566.7h0M89.6 562.9h0M91.2 571.3h0M102.6 570.9h0M94.3 568.6h0M99.1 569.3h0M96.6 571.2h0M98.3 565.8h0M89.7 571.4h0M95.2 571.2h0M66.9 568.8h0M88.5 565.7h0M85.2 560.7h0M80.7 567.9h0M97.8 565.1h0M97.7 569.6h0M88.4 562.6h0M99.9 570.3h0M89.6 552.9h0M96.8 565.8h0M98.2 564.0h0M90.0 565.9h0M83.9 561.4h0M95.0 560.3h0M97.8 571.0h0M92.9 564.9h0M102.5 570.5h0M76.8 571.1h0M100.4 571.3h0M102.8 565.1h0M96.4 567.2h0M83.6 561.2h0M96.8 566.1h0M102.8 568.6h0M87.4 568.7h0M96.3 553.6h0M101.0 566.1h0M80.7 562.6h0M95.7 560.4h0M95.8 568.5h0M80.4 532.2h0M87.8 570.3h0M88.4 563.8h0M93.4 542.1h0M95.6 566.0h0M96.9 565.3h0M78.9 560.5h0M101.6 568.2h0M97.0 555.9h0M82.1 568.9h0M99.8 566.4h0M87.7 570.2h0M99.9 568.9h0M89.7 561.0h0M100.7 562.9h0M97.0 561.6h0M87.2 570.2h0M101.6 568.8h0M94.3 569.6h0M99.4 570.2h0M90.8 564.6h0M96.8 558.7h0M92.8 568.4h0M93.9 570.2h0M96.3 567.3h0M92.3 553.6h0M86.4 549.1h0M90.9 568.8h0M96.9 568.9h0M100.1 570.4h0M92.9 556.3h0M80.6 570.4h0M88.2 566.1h0M93.3 552.2h0M91.2 569.5h0M82.2 562.2h0M67.4 552.6h0M97.6 568.7h0M103.2 571.2h0M90.1 567.2h0M77.8 568.7h0M86.3 563.3h0M92.6 550.8h0M98.1 568.9h0M99.2 568.7h0M92.4 557.0h0M91.2 566.4h0M100.2 571.0h0M99.0 562.4h0M96.5 570.8h0M100.5 560.1h0M89.7 555.1h0M95.1 571.3h0M91.4 561.7h0M101.4 568.4h0M86.6 565.5h0M97.9 562.7h0M97.2 569.8h0M96.5 568.8h0M84.2 568.7h0M93.6 568.5h0M95.9 570.7h0M78.4 543.0h0M95.3 571.4h0M95.8 569.8h0M95.4 571.3h0M81.3 567.3h0M96.1 570.4h0M98.1 569.4h0M100.3 566.2h0M99.8 567.1h0M97.3 565.6h0M95.1 570.6h0M91.4 570.2h0M95.1 565.2h0M100.9 569.4h0M99.7 563.6h0M91.3 570.1h0M81.5 568.0h0M58.9 546.5h0M88.5 533.6h0M85.5 564.6h0M88.4 569.8h0M79.0 569.7h0M94.6 567.6h0M90.8 564.3h0M88.6 568.9h0M84.7 568.6h0M96.1 571.1h0M101.4 566.5h0M96.0 563.0h0M101.5 569.1h0M88.8 565.9h0M91.2 561.4h0M96.9 561.7h0M89.6 532.1h0M79.9 570.0h0M91.5 556.5h0M87.0 563.8h0M96.4 569.4h0M101.7 570.7h0M97.2 569.2h0M92.7 566.3h0M90.1 563.1h0M93.8 570.0h0M87.3 566.1h0M101.9 569.4h0M79.3 536.5h0M100.2 570.4h0M77.3 569.6h0M89.6 563.7h0M93.0 556.5h0M90.7 559.9h0M67.4 564.9h0M96.4 568.2h0M91.7 547.6h0M98.5 564.7h0M83.8 542.0h0M85.1 534.6h0M87.5 557.2h0M86.9 565.2h0M87.2 566.8h0M101.9 564.6h0M97.2 565.9h0M86.6 555.2h0M102.5 570.6h0M85.8 570.4h0M92.2 564.8h0M91.4 562.2h0M88.3 555.0h0M90.4 571.2h0M94.8 570.8h0M98.1 563.2h0M101.6 565.0h0M84.6 568.5h0M90.1 571.1h0M88.2 565.2h0M91.8 569.1h0M93.0 568.0h0M75.9 563.8h0M90.2 569.4h0M87.6 570.1h0M91.8 568.8h0M67.0 566.3h0M97.5 567.5h0M70.5 561.5h0M83.7 547.9h0M83.6 526.0h0M71.0 570.7h0M89.4 565.6h0M94.1 571.2h0M95.2 570.2h0M96.9 570.7h0M87.4 566.5h0M88.0 568.0h0M83.9 511.5h0M98.0 571.3h0M87.3 569.3h0M99.9 567.0h0M89.8 571.3h0M83.0 562.4h0M80.6 570.7h0M98.4 570.3h0M92.2 571.3h0M102.9 570.2h0M90.3 569.5h0M88.4 570.1h0M100.3 571.3h0M92.1 560.7h0M86.7 567.7h0M93.9 561.7h0M98.5 561.6h0M77.8 570.2h0M98.3 568.2h0M91.9 555.3h0M97.5 566.3h0M93.0 569.8h0M87.9 550.8h0M96.4 571.0h0M99.9 566.1h0M97.4 564.5h0M67.1 570.6h0M95.6 570.0h0M96.7 568.5h0M101.0 565.0h0M68.3 570.0h0M95.8 570.3h0M90.6 564.7h0M97.3 566.4h0M96.0 569.2h0M103.3 566.7h0M89.4 570.3h0M99.3 559.0h0M81.4 568.7h0M88.3 569.2h0M99.5 569.8h0M80.2 561.1h0M93.5 570.0h0M98.2 563.5h0M84.4 565.9h0M93.4 566.5h0M94.2 566.8h0M98.1 569.5h0M89.2 565.0h0M90.1 569.0h0M93.8 570.3h0M88.5 567.1h0M92.2 567.8h0M92.8 567.5h0M96.8 566.9h0M89.9 571.0h0M96.2 570.6h0M87.5 569.7h0M87.1 569.9h0M91.9 561.1h0M75.0 571.3h0M95.5 558.3h0M94.3 564.4h0M95.5 570.9h0M102.9 571.3h0M97.5 570.7h0M99.5 569.0h0M88.6 566.3h0M101.3 565.5h0M91.0 571.3h0M90.3 568.8h0M95.9 561.4h0M101.0 570.9h0M93.7 546.6h0M80.3 549.3h0M100.9 568.8h0M88.1 568.1h0M93.5 568.3h0M102.0 569.0h0M90.2 559.8h0M95.0 570.6h0M99.9 568.0h0M97.9 564.8h0M89.4 570.2h0M88.0 570.8h0M95.2 566.2h0M97.2 566.5h0M82.6 571.3h0M100.9 570.6h0M91.4 560.9h0M98.1 566.4h0M94.8 570.8h0M92.8 564.5h0M98.6 571.3h0M92.7 557.8h0M86.7 561.4h0M98.6 570.9h0M95.8 569.8h0M94.4 566.0h0M79.5 546.2h0M89.8 567.8h0M89.1 567.6h0M95.1 566.1h0M93.0 558.5h0M88.9 557.8h0M78.7 569.4h0M87.7 561.7h0M77.9 570.9h0M90.0 544.6h0M101.0 570.8h0M101.6 571.3h0M91.9 569.1h0M93.2 569.9h0M100.7 569.5h0M99.0 566.2h0M97.3 552.7h0M98.8 568.0h0M90.4 556.1h0M99.4 571.4h0M101.4 569.1h0M86.1 570.3h0M101.0 567.8h0M98.5 569.2h0M100.6 565.9h0M101.6 569.7h0M85.6 569.8h0M99.3 570.8h0M87.0 537.9h0M94.0 566.5h0M89.2 570.2h0M98.2 565.6h0M95.8 564.8h0M96.8 570.5h0M101.6 570.7h0M88.3 564.5h0M82.4 571.3h0M83.4 571.3h0M86.2 570.7h0M98.6 569.9h0M90.8 555.8h0M89.8 553.6h0M86.7 570.2h0M95.7 556.3h0M90.6 555.5h0M97.4 563.8h0M96.9 559.0h0M85.6 566.2h0M94.0 570.2h0M80.0 567.8h0M97.6 569.4h0M101.7 568.3h0M95.3 568.0h0M74.5 569.1h0M57.1 568.6h0M97.6 569.8h0M82.9 565.1h0M75.3 563.1h0M102.2 570.5h0M78.5 570.9h0M83.7 557.5h0M99.4 561.3h0M92.0 568.3h0M74.5 568.6h0M65.7 571.3h0M75.7 568.7h0M100.4 566.9h0M92.5 571.3h0M101.4 550.7h0M56.0 570.6h0M77.3 569.4h0M77.5 565.6h0M92.7 567.4h0M62.9 569.9h0M96.9 569.8h0M96.3 570.0h0M102.4 569.5h0M103.5 567.6h0M61.6 568.4h0M91.3 567.4h0M83.6 563.9h0M89.2 561.5h0M83.0 571.3h0M74.4 565.6h0M94.2 561.4h0M82.1 566.6h0M68.7 566.3h0M98.7 570.9h0M84.0 563.6h0M56.5 563.3h0M83.9 566.7h0M83.6 565.4h0M65.7 570.4h0M60.7 569.6h0M71.6 429.0h0M75.3 480.2h0M83.8 504.6h0M77.6 512.9h0M88.0 513.0h0M90.4 512.5h0" stroke="#00BA38" stroke-width="1.8" stroke-linecap="round" fill="none"/>
<path d="M127.8 569.9h0M123.3 569.9h0M125.0 571.3h0M124.4 566.5h0M124.4 569.3h0M127.4 570.2h0M119.7 564.6h0M125.3 560.7h0M121.9 571.1h0M123.5 571.1h0M120.1 570.0h0M137.9 570.1h0M127.7 562.6h0M133.1 559.4h0M126.4 571.2h0M120.3 570.2h0M119.0 567.6h0M139.8 535.3h0M119.3 567.1h0M119.4 570.7h0M139.4 562.3h0M117.8 568.4h0M120.1 564.6h0M126.2 567.7h0M117.6 570.0h0M123.4 561.0h0M121.4 566.5h0M129.0 571.2h0M128.1 559.7h0M128.5 567.3h0M122.1 567.6h0M121.6 564.9h0M119.0 570.6h0M139.5 570.0h0M122.3 565.8h0M123.7 570.6h0M118.8 567.2h0M129.1 569.0h0M120.7 568.5h0M118.9 568.1h0M121.2 561.1h0M137.5 571.2h0M127.7 565.3h0M118.2 565.8h0M117.8 565.8h0M122.9 561.7h0M143.3 569.5h0M121.1 568.9h0M123.2 562.7h0M138.4 568.6h0M118.0 565.7h0M119.5 566.1h0M137.2 564.1h0M124.1 559.5h0M132.9 570.6h0M119.1 567.2h0M122.8 569.1h0M119.6 563.7h0M128.6 570.5h0M132.3 569.0h0M124.8 570.0h0M118.8 568.9h0M116.6 570.2h0M119.3 570.4h0M118.6 569.6h0M136.7 570.7h0M118.7 571.0h0M131.0 567.3h0M118.0 568.4h0M131.5 571.0h0M129.9 565.3h0M126.8 565.8h0M136.0 565.4h0M119.5 571.1h0M116.5 569.8h0M135.8 569.5h0M121.4 570.9h0M133.2 568.7h0M122.3 570.0h0M119.2 570.0h0M119.8 563.2h0M120.0 569.1h0M125.2 564.6h0M118.5 571.0h0M121.8 571.3h0M121.3 568.8h0M120.4 570.2h0M122.9 567.9h0M126.0 566.6h0M128.4 559.5h0M117.8 568.7h0M128.1 549.0h0M144.4 564.6h0M130.4 557.4h0M122.1 569.7h0M117.3 568.3h0M135.4 567.4h0M129.3 570.5h0M127.2 571.2h0M126.6 558.9h0M123.4 562.0h0M135.2 565.7h0M119.1 569.6h0M117.6 566.2h0M121.1 570.7h0M127.7 568.5h0M125.4 564.3h0M122.9 556.3h0M125.3 563.9h0M121.8 565.6h0M117.2 566.4h0M121.9 567.0h0M121.5 566.5h0M121.5 570.3h0M121.7 566.4h0M131.7 567.1h0M122.3 569.4h0M118.6 562.5h0M138.0 569.4h0M116.6 567.6h0M124.5 562.3h0M129.1 570.9h0M136.4 563.6h0M126.3 570.9h0M126.9 565.6h0M116.4 567.3h0M117.6 566.9h0M124.9 568.0h0M121.8 569.1h0M127.3 563.2h0M128.9 565.5h0M121.5 569.4h0M130.0 537.1h0M124.5 565.4h0M119.6 568.6h0M117.2 567.0h0M127.0 570.7h0M134.0 536.3h0M127.8 570.6h0M119.5 561.2h0M126.8 565.9h0M137.0 566.9h0M123.4 570.6h0M120.0 564.8h0M118.7 565.0h0M121.7 567.6h0M119.8 568.0h0M126.9 570.1h0M130.8 567.1h0M126.7 569.6h0M129.0 571.3h0M121.5 570.8h0M119.1 563.4h0M130.8 568.7h0M118.0 567.1h0M124.8 563.7h0M123.2 569.8h0M118.4 567.6h0M116.9 565.7h0M123.8 564.3h0M129.2 568.8h0M119.5 569.7h0M122.3 569.8h0M129.4 565.8h0M120.6 566.6h0M123.5 570.7h0M123.8 559.3h0M120.6 560.7h0M117.9 569.1h0M123.6 567.8h0M119.0 570.7h0M128.9 569.6h0M117.9 569.3h0M118.4 569.6h0M125.7 569.2h0M118.7 565.5h0M119.6 567.6h0M131.4 569.7h0M118.4 562.6h0M131.6 569.6h0M123.2 560.9h0M132.1 568.0h0M120.4 568.7h0M122.4 562.7h0M139.9 561.8h0M122.5 569.1h0M118.2 570.9h0M118.2 566.9h0M125.8 570.0h0M131.5 570.9h0M117.0 571.1h0M129.8 571.3h0M124.2 570.7h0M128.2 548.7h0M116.6 568.7h0M123.6 551.2h0M119.6 567.0h0M118.7 567.2h0M131.7 571.4h0M122.0 571.3h0M122.8 568.4h0M123.6 557.0h0M118.4 565.1h0M118.1 568.3h0M130.4 570.1h0M116.9 570.9h0M127.8 565.5h0M127.8 570.9h0M119.5 568.6h0M129.3 567.5h0M122.1 554.6h0M118.9 568.5h0M122.8 566.5h0M121.7 569.7h0M133.8 566.8h0M123.5 571.1h0M123.8 568.8h0M120.4 570.2h0M124.9 565.5h0M122.6 568.3h0M122.0 571.0h0M119.1 571.3h0M119.7 565.7h0M120.2 568.3h0M118.7 567.7h0M125.7 564.5h0M120.4 569.5h0M117.5 570.9h0M118.4 569.5h0M121.1 567.7h0M129.5 566.4h0M117.8 570.2h0M127.2 571.2h0M128.2 565.3h0M130.6 566.5h0M127.2 550.5h0M128.5 570.2h0M119.5 570.8h0M121.5 568.2h0M119.4 571.1h0M118.6 570.5h0M118.2 571.4h0M117.8 568.9h0M127.8 565.8h0M121.5 571.1h0M122.5 570.0h0M117.9 571.3h0M121.2 570.6h0M126.6 557.3h0M117.8 571.0h0M122.4 566.9h0M132.9 561.9h0M129.9 570.5h0M124.5 565.5h0M126.5 570.4h0M121.2 571.2h0M129.1 568.4h0M129.1 566.8h0M135.5 545.7h0M117.8 567.6h0M126.6 550.2h0M122.0 567.7h0M116.9 570.6h0M127.3 570.6h0M124.1 570.7h0M121.2 570.5h0M119.2 568.8h0M122.3 560.8h0M126.2 560.5h0M125.1 551.8h0M118.1 563.2h0M119.5 570.7h0M117.4 568.5h0M125.3 570.4h0M122.3 567.0h0M138.2 570.7h0M140.9 568.0h0M119.7 570.5h0M120.5 566.7h0M118.3 567.8h0M116.8 570.7h0M134.9 570.0h0M127.7 566.1h0M130.8 560.5h0M122.7 568.7h0M127.8 559.2h0M120.7 570.1h0M124.3 570.8h0M121.2 569.4h0M140.4 569.7h0M126.5 571.2h0M147.0 570.5h0M140.7 556.9h0M139.9 570.1h0M125.0 569.0h0M126.8 570.4h0M124.2 565.3h0M126.6 569.0h0M144.6 569.8h0M121.8 561.3h0M122.0 564.2h0M129.4 570.9h0M119.5 570.3h0M127.2 565.4h0M129.9 569.1h0M124.1 562.4h0M143.0 569.9h0M122.6 568.2h0M119.6 566.7h0M120.3 571.2h0M127.5 569.4h0M131.4 555.7h0M120.3 566.2h0M119.0 570.3h0M119.9 569.2h0M123.7 571.3h0M129.2 542.7h0M135.4 569.0h0M117.1 569.9h0M122.1 566.3h0M137.2 571.0h0M128.3 561.0h0M120.4 570.3h0M125.7 566.8h0M127.0 558.7h0M119.3 565.7h0M120.7 561.1h0M139.6 568.1h0M125.6 570.9h0M118.7 568.8h0M127.1 564.1h0M128.1 569.5h0M120.1 570.3h0M132.5 571.0h0M138.7 568.5h0M125.1 564.1h0M117.2 569.0h0M126.8 570.9h0M126.7 565.9h0M117.0 571.0h0M119.5 562.9h0M149.6 569.0h0M118.0 570.4h0M127.5 545.3h0M153.3 571.1h0M128.7 560.0h0M131.1 569.6h0M118.6 570.0h0M123.0 570.3h0M121.3 562.6h0M133.0 569.2h0M117.7 565.5h0M118.2 570.9h0M123.7 568.8h0M120.8 569.5h0M121.2 560.9h0M128.8 570.1h0M137.6 565.6h0M128.5 562.7h0M129.2 570.1h0M118.8 566.9h0M118.0 570.8h0M121.9 567.4h0M120.5 571.3h0M125.5 568.8h0M128.3 571.1h0M117.9 566.3h0M123.0 558.1h0M134.3 570.4h0M117.5 568.8h0M121.0 569.1h0M119.4 570.5h0M124.0 560.1h0M123.0 570.3h0M121.1 563.6h0M123.3 570.2h0M118.8 567.0h0M117.1 565.3h0M127.4 571.4h0M132.5 570.3h0M132.3 570.8h0M124.4 570.8h0M117.9 570.6h0M130.8 568.4h0M121.1 566.4h0M119.7 567.8h0M116.6 569.1h0M126.1 569.0h0M136.1 567.5h0M117.3 568.2h0M118.1 562.7h0M131.3 552.5h0M127.1 571.0h0M118.0 568.2h0M117.7 569.7h0M131.3 570.7h0M116.3 567.0h0M129.9 571.0h0M128.5 570.6h0M116.5 569.4h0M128.0 570.6h0M122.0 564.8h0M142.6 568.1h0M122.4 570.7h0M122.5 566.8h0M125.3 571.3h0M124.0 567.3h0M120.3 568.4h0M125.9 570.5h0M125.5 570.6h0M117.9 570.4h0M126.8 569.8h0M122.6 567.2h0M128.6 569.8h0M129.3 563.6h0M117.5 569.0h0M117.7 568.7h0M123.1 557.7h0M121.6 568.9h0M126.0 555.2h0M130.3 567.1h0M134.6 570.7h0M135.1 565.1h0M119.7 568.6h0M120.7 569.2h0M121.4 561.1h0M118.2 570.2h0M137.3 571.2h0M117.1 568.0h0M123.5 571.1h0M123.2 569.3h0M142.8 568.9h0M119.2 568.5h0M127.4 552.3h0M125.7 570.9h0M129.7 571.3h0M118.7 571.1h0M119.7 571.3h0M126.5 571.1h0M123.4 564.3h0M132.0 569.8h0M117.9 571.2h0M123.6 559.9h0M119.5 570.8h0M116.3 571.4h0M137.4 571.1h0M131.8 570.8h0M117.7 571.0h0M122.7 568.6h0M120.1 571.1h0M120.8 571.1h0M121.6 570.6h0M123.3 570.8h0M144.5 566.8h0M124.6 570.7h0M142.8 564.5h0M132.8 566.8h0M119.5 568.3h0M119.6 568.4h0M120.9 569.7h0M126.4 568.6h0M117.6 565.5h0M117.5 571.4h0M144.6 570.4h0M121.2 571.1h0M120.2 570.5h0M132.3 552.9h0M125.1 570.1h0M122.2 570.0h0M123.3 564.3h0M127.7 568.0h0M118.9 569.7h0M125.2 554.0h0M128.7 570.1h0M125.9 558.0h0M124.0 566.9h0M128.5 570.5h0M119.9 564.7h0M124.4 567.3h0M119.6 571.0h0M117.8 570.7h0M128.6 568.4h0M119.3 560.0h0M124.5 551.4h0M127.5 571.2h0M126.3 554.7h0M120.7 558.6h0M130.1 569.0h0M131.1 571.0h0M124.8 556.4h0M121.8 569.0h0M118.9 567.5h0M128.7 559.2h0M123.3 565.7h0M121.5 558.3h0M118.2 568.3h0M119.6 570.9h0M125.8 569.3h0M120.9 570.9h0M118.0 567.7h0M119.4 569.0h0M129.8 568.7h0M129.5 561.2h0M122.7 567.4h0M131.4 570.4h0M146.1 570.9h0M118.4 569.3h0M134.5 568.5h0M126.5 570.5h0M125.8 538.4h0M120.4 567.9h0M126.6 562.7h0M121.7 570.4h0M123.1 567.6h0M122.6 567.6h0M122.4 564.1h0M119.0 571.0h0M136.2 568.2h0M120.9 570.2h0M119.9 569.8h0M130.6 570.0h0M146.8 570.7h0M120.8 561.3h0M118.7 569.7h0M126.2 570.2h0M123.6 570.0h0M120.3 570.6h0M136.7 570.6h0M120.3 570.8h0M122.3 569.9h0M119.5 560.7h0M129.6 565.7h0M118.3 571.4h0M120.9 566.2h0M131.5 568.0h0M126.8 569.1h0M138.4 569.5h0M118.7 570.8h0M131.9 570.6h0M127.6 556.5h0M122.3 567.8h0M121.4 562.0h0M119.0 568.8h0M120.8 571.1h0M120.0 569.8h0M121.3 560.4h0M124.1 559.2h0M121.8 563.6h0M151.5 568.1h0M120.8 566.4h0M127.8 564.3h0M123.3 571.0h0M123.2 559.9h0M126.8 570.5h0M142.2 569.6h0M116.5 566.8h0M119.0 560.9h0M128.2 571.3h0M119.3 568.3h0M137.0 560.6h0M132.9 532.0h0M118.7 568.2h0M122.7 559.2h0M130.1 560.7h0M124.0 563.8h0M129.6 569.5h0M119.5 570.5h0M118.3 568.1h0M127.3 568.7h0M120.7 570.2h0M118.7 564.3h0M122.1 568.6h0M118.2 570.1h0M124.7 571.0h0M118.3 567.4h0M133.1 571.3h0M128.6 561.9h0M118.5 565.9h0M120.5 567.5h0M125.4 571.3h0M118.8 564.6h0M118.4 568.5h0M121.5 565.5h0M124.1 570.6h0M126.3 558.0h0M117.3 567.4h0M128.3 570.5h0M131.2 563.5h0M138.7 571.3h0M117.7 565.5h0M119.6 570.8h0M150.0 570.6h0M118.0 570.9h0M126.3 567.7h0M130.1 566.4h0M128.4 568.1h0M119.7 566.5h0M132.6 569.6h0M122.9 570.5h0M124.0 567.2h0M125.7 564.3h0M123.2 568.9h0M133.0 567.2h0M123.2 564.0h0M124.2 570.0h0M123.4 552.2h0M119.1 570.1h0M126.8 569.9h0M117.9 571.3h0M119.2 570.1h0M120.7 568.3h0M132.6 560.0h0M129.8 570.6h0M123.5 566.2h0M128.7 570.0h0M123.0 565.2h0M120.0 568.6h0M130.5 565.8h0M128.6 533.4h0M127.4 540.8h0M123.0 569.0h0M121.2 568.2h0M126.8 567.7h0M120.1 567.7h0M123.5 553.8h0M117.8 569.8h0M123.6 567.1h0M120.5 567.9h0M129.8 569.1h0M123.6 567.6h0M135.8 571.0h0M130.4 571.3h0M120.6 571.1h0M119.9 565.9h0M136.5 567.4h0M118.2 569.9h0M121.9 569.8h0M119.7 571.1h0M151.3 568.6h0M125.9 562.0h0M126.6 571.3h0M123.7 566.4h0M127.9 535.5h0M121.9 570.1h0M116.6 571.3h0M116.6 571.2h0M123.8 558.2h0M124.1 570.7h0M120.3 570.7h0M120.9 571.0h0M128.7 571.1h0M129.7 532.2h0M145.2 569.6h0M117.3 567.8h0M123.4 567.0h0M117.0 570.9h0M129.0 566.1h0M116.9 570.7h0M125.5 571.1h0M124.6 568.1h0M133.4 567.8h0M119.9 571.4h0M122.1 567.9h0M128.2 571.2h0M126.6 571.0h0M126.5 568.0h0M129.2 570.0h0M124.2 559.1h0M118.3 569.9h0M119.4 570.9h0M117.5 571.4h0M118.4 566.0h0M117.0 570.7h0M126.5 566.7h0M118.8 563.9h0M117.2 569.8h0M123.5 570.7h0M122.6 568.5h0M132.5 569.6h0M117.9 569.1h0M121.9 571.2h0M117.2 569.4h0M141.2 570.2h0M118.6 565.4h0M119.5 564.8h0M119.9 568.3h0M129.3 570.8h0M117.4 570.2h0M117.0 570.8h0M118.0 570.8h0M132.5 560.1h0M138.4 571.0h0M122.2 566.1h0M131.0 555.0h0M119.6 570.3h0M122.8 563.1h0M126.4 570.3h0M132.8 569.1h0M123.1 566.8h0M117.6 570.5h0M120.6 570.7h0M127.0 569.9h0M121.2 568.9h0M120.1 559.7h0M129.7 562.8h0M124.9 560.5h0M138.2 548.7h0M125.6 570.2h0M117.4 567.9h0M145.2 571.3h0M126.2 566.6h0M117.4 567.8h0M131.5 567.8h0M128.1 567.6h0M119.2 564.8h0M123.3 560.5h0M120.7 567.5h0M129.1 571.2h0M127.5 569.8h0M125.2 570.5h0M127.5 571.1h0M122.9 559.6h0M127.2 569.8h0M120.7 568.7h0M120.3 563.0h0M117.5 563.9h0M121.2 556.0h0M118.8 568.1h0M125.0 569.3h0M134.2 569.9h0M125.1 543.3h0M120.9 570.9h0M126.2 570.1h0M118.3 565.9h0M122.8 563.9h0M120.3 568.1h0M123.1 566.6h0M123.7 571.1h0M130.5 548.0h0M117.8 570.2h0M121.1 570.0h0M122.7 571.0h0M118.0 568.9h0M141.8 570.3h0M133.6 567.8h0M119.9 566.9h0M118.2 569.2h0M125.5 571.3h0M136.9 570.1h0M123.6 560.6h0M120.1 571.1h0M143.1 568.6h0M121.2 566.1h0M122.1 554.0h0M119.0 561.8h0M132.4 567.6h0M130.2 571.1h0M122.2 571.0h0M126.9 558.2h0M130.1 539.2h0M126.6 560.1h0M124.8 571.0h0M125.6 568.8h0M120.8 569.3h0M132.6 565.2h0M118.8 570.8h0M125.0 569.4h0M119.8 570.3h0M122.1 560.2h0M123.4 548.1h0M123.3 566.7h0M119.3 571.2h0M116.8 570.5h0M127.5 569.5h0M120.9 566.4h0M128.6 568.6h0M125.8 560.7h0M118.4 565.6h0M129.8 563.5h0M124.9 567.4h0M122.0 570.0h0M126.8 565.1h0M122.4 571.3h0M121.3 563.1h0M125.0 565.6h0M123.2 565.2h0M130.4 570.6h0M120.7 570.1h0M117.9 571.3h0M128.2 567.0h0M125.3 570.6h0M128.6 567.3h0M138.7 570.6h0M123.1 557.3h0M120.2 569.9h0M121.7 569.6h0M132.0 571.2h0M124.4 567.1h0M120.6 568.1h0M122.5 553.3h0M116.7 571.2h0M129.2 569.4h0M119.0 569.2h0M131.2 570.1h0M119.8 567.0h0M124.8 571.3h0M123.5 564.0h0M120.0 569.7h0M118.6 571.3h0M126.3 552.4h0M130.0 569.2h0M129.0 569.4h0M126.6 568.4h0M136.1 569.7h0M129.7 564.8h0M117.1 569.7h0M123.5 553.1h0M133.1 562.1h0M149.4 563.3h0M120.8 571.2h0M120.5 568.3h0M132.7 569.9h0M117.2 571.4h0M125.1 571.2h0M133.6 570.2h0M123.2 566.7h0M133.4 567.2h0M133.3 569.7h0M128.4 570.2h0M118.9 567.5h0M123.0 568.1h0M122.7 564.4h0M118.4 566.9h0M124.9 571.1h0M119.8 563.3h0M118.7 564.6h0M130.4 563.5h0M133.5 557.8h0M119.4 568.7h0M122.1 569.4h0M117.3 570.1h0M131.9 566.0h0M127.5 558.6h0M129.3 570.1h0M123.7 568.9h0M127.8 571.0h0M124.1 565.6h0M129.8 569.8h0M118.7 570.5h0M141.2 558.1h0M138.3 566.7h0M123.7 562.3h0M119.2 569.4h0M136.8 570.6h0M120.3 559.3h0M122.2 565.4h0M121.6 570.7h0M120.1 565.1h0M128.8 555.7h0M124.0 565.6h0M126.5 563.1h0M122.5 550.4h0M117.7 569.7h0M121.4 562.8h0M122.0 561.8h0M120.2 566.1h0M119.5 569.2h0M123.9 571.0h0M122.1 570.3h0M122.7 568.4h0M128.8 563.4h0M121.6 568.7h0M117.3 570.8h0M139.2 570.6h0M124.9 570.8h0M118.0 564.0h0M153.6 569.8h0M122.9 566.9h0M130.1 568.0h0M118.3 568.9h0M123.8 553.9h0M136.9 571.3h0M129.3 570.3h0M117.9 566.3h0M127.8 570.9h0M120.5 570.6h0M127.9 568.3h0M123.7 569.8h0M127.2 566.7h0M121.3 570.3h0M120.3 570.5h0M123.5 555.7h0M121.0 567.3h0M121.4 567.4h0M123.2 571.1h0M124.1 560.8h0M141.1 537.8h0M123.9 563.9h0M117.9 568.2h0M121.0 571.4h0M128.8 569.1h0M121.5 564.1h0M129.1 568.2h0M131.1 566.9h0M119.2 569.6h0M121.9 571.3h0M123.7 571.2h0M128.0 554.5h0M131.4 568.2h0M145.2 571.3h0M120.6 570.5h0M119.7 571.3h0M122.5 570.8h0M117.5 567.1h0M122.5 570.1h0M124.0 551.6h0M131.5 570.3h0M119.9 564.9h0M126.7 565.2h0M121.3 568.1h0M134.7 561.6h0M129.1 543.8h0M132.5 552.2h0M128.3 553.6h0M122.3 570.9h0M118.3 564.0h0M130.8 554.6h0M130.6 569.2h0M121.4 568.6h0M123.1 570.4h0M119.0 563.8h0M133.3 553.0h0M118.7 570.0h0M128.5 545.2h0M117.3 564.6h0M117.0 567.9h0M149.2 565.9h0M127.2 567.4h0M122.5 564.9h0M119.3 570.2h0M126.9 569.1h0M119.0 569.8h0M118.1 562.9h0M121.2 557.9h0M119.7 568.5h0M123.4 570.3h0M120.5 568.4h0M119.5 570.8h0M120.9 567.7h0M133.3 568.9h0M118.5 567.0h0M117.2 569.5h0M117.1 568.9h0M141.7 542.3h0M121.7 571.0h0M117.8 570.5h0M129.4 565.4h0M130.2 568.2h0M120.2 569.1h0M124.8 570.7h0M120.1 568.8h0M129.8 570.6h0M133.9 569.9h0M129.7 567.2h0M123.3 571.2h0M133.2 566.6h0M125.3 566.4h0M117.5 570.5h0M119.3 569.9h0M122.6 570.7h0M125.0 567.5h0M153.3 570.7h0M130.1 565.9h0M120.0 560.8h0M125.8 554.9h0M127.4 569.2h0M119.6 560.8h0M122.3 571.1h0M118.8 565.2h0M126.5 564.3h0M140.5 570.4h0M118.6 565.6h0M119.6 571.1h0M122.0 566.5h0M121.1 557.3h0M124.0 557.3h0M128.6 560.9h0M127.0 570.1h0M121.0 566.8h0M131.2 560.7h0M119.8 568.2h0M123.2 565.0h0M117.6 567.7h0M126.0 567.6h0M130.3 560.5h0M121.5 557.2h0M118.9 571.3h0M120.3 567.1h0M118.0 570.5h0M127.4 562.0h0M124.7 568.5h0M118.1 570.8h0M122.8 563.8h0M121.3 570.8h0M118.9 566.6h0M132.1 571.1h0M124.0 565.9h0M129.1 563.6h0M122.6 558.0h0M132.2 542.4h0M117.8 567.1h0M121.0 565.2h0M124.8 545.7h0M117.6 566.6h0M118.3 569.9h0M139.4 569.5h0M119.0 563.5h0M125.0 568.0h0M119.8 571.4h0M133.9 569.4h0M125.9 569.0h0M121.2 562.4h0M129.2 568.0h0M132.4 567.7h0M131.0 568.6h0M118.8 569.6h0M123.8 566.8h0M142.6 568.8h0M125.5 570.5h0M144.0 570.8h0M124.3 570.5h0M129.1 571.0h0M124.6 571.1h0M119.2 570.6h0M128.5 568.9h0M117.5 568.8h0M131.3 550.8h0M120.1 564.6h0M139.6 570.5h0M128.3 561.1h0M120.8 570.1h0M125.1 563.1h0M121.2 571.3h0M119.2 568.7h0M120.8 568.3h0M132.2 568.8h0M120.4 570.7h0M120.5 566.8h0M119.8 570.0h0M128.0 567.1h0M121.3 562.2h0M128.7 545.2h0M128.7 569.5h0M118.8 568.6h0M136.8 566.5h0M121.6 569.0h0M125.0 570.6h0M121.2 568.2h0M141.9 569.7h0M119.9 568.1h0M122.8 570.0h0M153.6 569.9h0M135.4 567.2h0M130.1 544.2h0M132.8 570.6h0M122.0 568.8h0M118.0 570.0h0M125.6 567.3h0M121.1 570.4h0M116.7 567.0h0M126.8 570.3h0M134.4 568.2h0M124.6 570.8h0M129.5 567.9h0M119.6 569.1h0M150.4 570.9h0M133.7 567.3h0M119.2 570.1h0M122.1 568.6h0M117.1 570.6h0M133.0 570.9h0M123.2 557.5h0M118.1 566.7h0M129.4 571.1h0M125.3 570.1h0M128.3 569.5h0M119.2 569.6h0M118.3 570.6h0M132.6 570.5h0M131.6 571.1h0M120.5 569.9h0M122.2 569.4h0M117.9 564.3h0M121.8 566.2h0M118.0 568.3h0M137.4 535.9h0M131.1 564.5h0M124.0 570.2h0M133.6 567.9h0M127.7 560.2h0M129.6 552.6h0M123.6 570.4h0M128.5 567.3h0M117.6 565.6h0M127.4 563.4h0M118.9 568.3h0M125.1 570.6h0M123.7 570.4h0M124.1 570.3h0M141.6 571.3h0M119.7 568.6h0M135.1 564.5h0M120.3 565.6h0M125.8 570.3h0M136.4 569.0h0M120.2 570.4h0M136.9 570.0h0M120.1 569.0h0M120.0 560.3h0M124.3 565.5h0M133.9 568.7h0M123.8 569.0h0M151.6 569.4h0M121.6 571.4h0M128.9 566.4h0M127.5 568.8h0M129.5 569.9h0M124.8 571.2h0M131.4 571.4h0M129.1 569.4h0M118.4 567.7h0M128.2 570.9h0M118.0 568.7h0M119.8 568.1h0M116.5 570.9h0M116.6 568.7h0M119.7 570.4h0M132.9 561.8h0M126.1 570.4h0M123.2 563.0h0M116.3 566.2h0M121.4 568.5h0M132.0 569.6h0M117.6 565.5h0M128.0 567.5h0M118.2 567.1h0M128.7 570.3h0M116.6 571.2h0M123.5 570.5h0M127.4 569.3h0M122.3 570.3h0M116.8 569.1h0M117.3 570.9h0M119.9 563.3h0M131.9 561.1h0M135.9 564.4h0M127.6 570.3h0M121.4 571.1h0M119.9 560.5h0M130.2 556.6h0M121.5 569.7h0M139.6 562.7h0M131.8 570.3h0M125.7 563.0h0M131.3 560.1h0M124.0 562.5h0M132.7 549.9h0M139.9 569.7h0M121.6 571.0h0M117.3 569.2h0M121.1 565.7h0M137.3 566.0h0M130.3 567.5h0M126.1 569.5h0M117.5 570.5h0M129.9 563.9h0M154.6 571.3h0M125.6 570.4h0M122.8 569.1h0M118.3 569.8h0M124.0 569.0h0M123.9 570.1h0M129.1 570.3h0M117.4 569.1h0M136.4 570.1h0M128.3 570.6h0M125.9 563.9h0M130.9 570.8h0M145.2 571.0h0M121.3 570.7h0M121.3 555.4h0M129.1 571.1h0M129.6 559.5h0M125.7 565.3h0M134.1 569.6h0M126.0 569.6h0M132.8 570.1h0M124.3 570.7h0M119.3 570.5h0M120.2 568.4h0M119.0 570.0h0M120.5 559.5h0M126.0 568.9h0M140.5 565.5h0M122.4 571.1h0M118.6 570.6h0M119.5 569.8h0M125.6 566.9h0M126.6 569.0h0M118.3 571.3h0M121.5 570.8h0M121.8 570.2h0M121.9 571.1h0M129.4 568.7h0M124.5 562.2h0M126.9 551.6h0M121.9 559.4h0M126.4 570.6h0M124.3 570.7h0M148.6 571.0h0M124.8 567.5h0M118.6 570.7h0M129.9 551.1h0M130.6 570.4h0M135.1 542.1h0M130.2 570.0h0M119.6 560.1h0M121.8 556.8h0M123.3 570.8h0M131.1 570.9h0M121.1 566.8h0M123.1 567.8h0M124.0 566.4h0M123.6 569.3h0M118.5 565.1h0M124.3 569.8h0M130.5 567.5h0M122.2 569.1h0M120.5 567.1h0M127.6 551.4h0M119.6 570.1h0M124.7 562.9h0M118.0 570.9h0M128.2 556.4h0M124.9 564.0h0M117.1 570.9h0M122.1 565.6h0M124.8 571.3h0M136.4 562.0h0M119.2 571.4h0M118.6 566.6h0M135.9 568.9h0M127.6 569.3h0M124.9 563.9h0M129.0 570.0h0M128.5 568.1h0M125.9 563.5h0M127.8 570.3h0M130.2 571.3h0M119.8 567.1h0M123.4 568.4h0M141.6 570.1h0M125.4 561.2h0M124.7 568.3h0M122.5 567.9h0M132.2 570.4h0M130.5 565.0h0M120.9 571.1h0M125.3 564.6h0M117.5 566.3h0M118.5 565.0h0M132.0 567.6h0M119.5 564.6h0M123.6 571.3h0M123.5 554.4h0M122.5 566.7h0M133.0 554.8h0M120.9 570.5h0M124.8 569.3h0M147.9 569.1h0M122.1 567.0h0M123.9 558.1h0M117.9 569.7h0M120.7 567.9h0M120.5 564.2h0M120.7 568.9h0M116.8 570.8h0M122.5 560.2h0M133.5 568.3h0M124.0 568.5h0M118.2 566.7h0M118.7 569.2h0M123.1 566.6h0M125.6 569.7h0M123.2 570.6h0M131.8 562.0h0M116.9 565.8h0M120.7 571.4h0M146.6 566.1h0M137.8 568.1h0M153.5 567.9h0M144.0 564.2h0M120.5 570.9h0M121.9 570.4h0M129.9 569.9h0M136.8 570.9h0M117.9 571.2h0M134.3 570.3h0M154.5 570.4h0M131.0 562.8h0M130.2 569.8h0M141.1 568.6h0M149.9 569.9h0M157.0 568.9h0M129.4 571.1h0M141.0 569.4h0M148.5 565.9h0M132.7 560.0h0M124.4 570.0h0M146.3 568.6h0M152.1 568.8h0M156.7 567.7h0M151.5 570.7h0M126.8 570.3h0M147.0 571.4h0M142.8 567.1h0M131.6 564.7h0M144.6 567.4h0M134.0 522.0h0M130.5 534.0h0M162.4 567.5h0M157.5 568.6h0M127.0 540.0h0" stroke="#F8766D" stroke-width="1.8" stroke-linecap="round" fill="none"/>
<path d="M51.9 422.2V579.4H168.4" stroke="#8a8a8a" stroke-width="0.85" fill="none"/>
<path d="M50.7 439.7H51.9M50.7 506.4H51.9M50.7 571.8H51.9M60.8 579.4V580.6M83.2 579.4V580.6M104 579.4V580.6M109.9 579.4V580.6M115.7 579.4V580.6M134.6 579.4V580.6M165.9 579.4V580.6" stroke="#8a8a8a" stroke-width="0.6" fill="none"/>
<text x="50.1" y="440.95" font-size="3.3" class="sans" text-anchor="end" fill="#666">200</text>
<text x="50.1" y="507.65" font-size="3.3" class="sans" text-anchor="end" fill="#666">100</text>
<text x="50.1" y="573.05" font-size="3.3" class="sans" text-anchor="end" fill="#666">1.301</text>
<text x="60.8" y="584" font-size="3.3" class="sans" text-anchor="middle" fill="#666">-8</text>
<text x="83.2" y="584" font-size="3.3" class="sans" text-anchor="middle" fill="#666">-4</text>
<text x="104" y="584" font-size="3.3" class="sans" text-anchor="middle" fill="#666">-1</text>
<text x="109.9" y="584" font-size="3.3" class="sans" text-anchor="middle" fill="#666">0</text>
<text x="115.7" y="584" font-size="3.3" class="sans" text-anchor="middle" fill="#666">1</text>
<text x="134.6" y="584" font-size="3.3" class="sans" text-anchor="middle" fill="#666">4</text>
<text x="165.9" y="584" font-size="3.3" class="sans" text-anchor="middle" fill="#666">8</text>
<text x="110" y="588.2" font-size="3.75" class="sans" text-anchor="middle" fill="#000">log2FoldChange</text>
<text transform="translate(40 500.2) rotate(-90)" font-size="3.9" class="sans" text-anchor="middle" fill="#000">-log10(padj)</text>
<text x="73.7" y="419.1" font-size="12.25" class="serif bt">FB1 vs FB1+QR</text>
<text x="174" y="489.8" font-size="3.75" class="sans" fill="#333">padj&lt;0.05</text>
<text x="174" y="494" font-size="3.75" class="sans" fill="#333">|log2FoldChange|&gt;1</text>
<rect x="176.55" y="498.85" width="1.5" height="1.5" fill="#F8766D"/>
<text x="182" y="500.8" font-size="3.4" class="sans" fill="#444">UP 1310</text>
<rect x="176.55" y="505.05" width="1.5" height="1.5" fill="#00BA38"/>
<text x="182" y="507" font-size="3.4" class="sans" fill="#444">DOWN 1270</text>
<rect x="176.55" y="510.75" width="1.5" height="1.5" fill="#619CFF"/>
<text x="182" y="512.7" font-size="3.4" class="sans" fill="#444">NO 19486</text>
<path d="M116.2 630.1V787.7M130.4 630.1V787.7M56.5 777.7H172.9" stroke="#9a9a9a" stroke-width="0.6" stroke-dasharray="2.4 1.8 0.6 1.8" fill="none"/>
<path d="M116.2 765.0L116.6 766.7L116.9 768.2L117.3 769.7L117.6 771.1L118.0 772.4L118.3 773.7L118.7 774.8L119.0 775.9L119.4 776.9L119.8 777.8L120.1 778.6L120.5 779.3L120.8 779.9L121.2 780.5L121.5 780.9L121.9 781.3L122.2 781.6L122.6 781.8L122.9 782.0L123.3 782.0L123.7 782.0L124.0 781.8L124.4 781.6L124.7 781.3L125.1 780.9L125.4 780.4L125.8 779.8L126.1 779.1L126.5 778.4L126.9 777.5L127.2 776.6L127.6 775.5L127.9 774.4L128.3 773.2L128.6 771.9L129.0 770.5L129.3 769.0L129.7 767.4L130.0 765.8L130.4 764.0L130.4 781.7L116.2 781.7Z" fill="#619CFF"/>
<rect x="87.6" y="778.5" width="70.2" height="3.2" fill="#619CFF"/>
<path d="M105.3 779.1h0M136.0 778.7h0M100.0 780.5h0M97.2 780.5h0M139.6 780.8h0M125.0 780.6h0M107.9 779.9h0M147.1 779.4h0M87.6 780.4h0M97.2 778.6h0M145.1 778.8h0M146.3 779.0h0M155.1 778.8h0M105.1 778.7h0M121.7 778.9h0M127.3 779.9h0M112.9 779.9h0M109.3 780.8h0M145.8 778.8h0M157.8 779.1h0M126.6 779.0h0M96.3 779.2h0M118.6 780.7h0M101.2 779.6h0M104.9 779.8h0M130.3 780.0h0M96.0 779.7h0M103.6 780.5h0M100.6 780.1h0M91.9 779.2h0M155.5 780.0h0M138.5 778.4h0M89.7 780.8h0M144.8 778.7h0M132.7 780.7h0M116.5 778.6h0M150.6 778.8h0M101.3 778.6h0M113.7 779.1h0M96.5 778.3h0M130.2 779.0h0M101.9 779.3h0M128.5 779.4h0M112.5 779.0h0M111.2 780.3h0M98.5 779.1h0M94.7 780.5h0M91.6 779.3h0M126.8 779.6h0M89.4 779.9h0M111.4 780.9h0M86.8 778.2h0M95.4 780.3h0M106.0 779.4h0M92.2 779.8h0M113.1 778.7h0M87.0 780.2h0M122.5 778.3h0M123.9 779.8h0M134.9 780.3h0M88.9 779.7h0M152.3 779.0h0M105.3 779.1h0M147.9 780.4h0M129.1 780.1h0M104.2 780.3h0M101.3 780.1h0M89.4 780.0h0M92.9 778.9h0M129.9 781.2h0M142.5 780.6h0M121.3 779.5h0M110.6 780.3h0M118.0 780.8h0M148.9 780.9h0M146.1 780.5h0M108.5 780.0h0M89.0 780.8h0M112.7 779.9h0M149.9 778.2h0M89.7 779.6h0M95.9 778.8h0M109.9 778.5h0M126.0 780.8h0M87.0 780.5h0M149.3 780.8h0M121.2 780.1h0M111.5 778.8h0M102.0 779.0h0M134.7 778.4h0M124.1 778.4h0M118.4 779.5h0M131.4 778.7h0M151.4 780.9h0M96.5 779.6h0M145.3 779.6h0M108.2 778.3h0M108.1 780.9h0M90.4 781.1h0M139.1 780.9h0M138.3 778.6h0M158.8 778.8h0M117.2 779.3h0M146.8 779.1h0M107.6 778.9h0M94.5 780.3h0M158.5 779.8h0M105.9 778.8h0M119.1 781.2h0M88.7 780.4h0M110.6 778.4h0M104.5 778.6h0M148.2 780.0h0M158.3 778.9h0M121.5 780.4h0M119.9 778.5h0M125.3 780.6h0M113.7 779.8h0M100.4 779.5h0M89.1 778.7h0M99.5 780.9h0M129.1 780.3h0M150.5 779.7h0M124.2 778.7h0M102.1 779.0h0M133.5 779.9h0M155.9 781.1h0M148.9 780.8h0M147.2 780.7h0M90.5 779.7h0M153.4 780.4h0M121.7 779.4h0M104.2 779.6h0M87.3 779.9h0M141.5 780.2h0M102.5 781.0h0M137.2 779.9h0M152.6 779.0h0M93.8 778.5h0M153.9 778.7h0M146.6 779.2h0M138.6 779.2h0M129.2 780.4h0M96.2 779.0h0M129.7 781.0h0M132.9 779.4h0M123.5 778.9h0M149.9 780.1h0M145.4 779.7h0M127.9 780.0h0M154.0 779.9h0M155.4 780.2h0M135.1 778.5h0M136.0 780.1h0M92.2 779.8h0M116.5 778.8h0M143.2 778.2h0M118.9 780.0h0M127.3 779.0h0M92.4 780.6h0M97.1 780.2h0M108.3 778.3h0M101.6 778.4h0M107.9 780.6h0M156.9 780.9h0M94.7 780.8h0M91.4 780.0h0M101.9 780.7h0M87.7 779.1h0M90.2 780.5h0M127.4 778.5h0M134.2 779.1h0M137.2 778.8h0M148.2 780.7h0M90.5 779.3h0M124.1 779.6h0M143.0 780.7h0M137.6 779.9h0M117.0 780.5h0M106.9 779.5h0M126.6 778.5h0M106.8 779.1h0M93.6 779.2h0M98.2 778.6h0M156.3 780.4h0M145.0 780.5h0M108.6 780.9h0M118.5 780.9h0M137.5 779.5h0M116.9 779.1h0M103.4 780.2h0M112.8 781.2h0M150.6 780.9h0M93.9 778.8h0M145.7 779.9h0M117.0 780.8h0M86.7 779.6h0M104.2 780.7h0M152.0 781.1h0M112.8 778.9h0M140.5 780.9h0M140.2 779.5h0M132.1 778.4h0M144.3 779.4h0M142.2 779.7h0M126.4 778.7h0M131.3 780.1h0M88.1 778.8h0M111.2 779.9h0M107.4 779.5h0M115.5 778.7h0M129.5 779.5h0M143.1 779.9h0M125.3 778.9h0M138.8 779.0h0M150.9 779.5h0M126.7 780.6h0M104.0 779.9h0M122.6 778.5h0M89.7 780.2h0M140.0 779.8h0M147.9 780.7h0M142.3 779.9h0M127.6 781.0h0M115.7 778.8h0M139.7 779.5h0M117.1 781.1h0M137.1 779.9h0M138.9 779.4h0M115.6 778.6h0M96.1 778.3h0M92.8 778.3h0M129.0 779.9h0M154.2 779.7h0M123.3 781.0h0M144.2 779.3h0M103.9 780.9h0M116.9 778.4h0M149.5 779.8h0M89.2 778.7h0M101.2 779.0h0M122.7 778.3h0M97.3 778.8h0M138.6 781.1h0M127.4 780.3h0M136.8 778.3h0M134.7 779.7h0M130.2 780.5h0M120.4 780.9h0M138.6 781.0h0M124.6 780.7h0M127.3 781.0h0M88.6 779.3h0M138.5 778.5h0M135.5 778.2h0M96.9 779.3h0M132.5 780.7h0M96.7 780.5h0M124.4 778.8h0M137.9 779.5h0M92.2 779.0h0M123.6 780.7h0M131.2 780.5h0M108.9 779.8h0M140.8 780.9h0M118.5 780.5h0M135.0 778.8h0M105.7 779.0h0M120.1 780.5h0M106.5 779.6h0M144.8 779.4h0M86.6 778.9h0M128.5 779.9h0M104.0 779.9h0M136.6 780.4h0M96.6 778.6h0M118.5 781.0h0M150.9 780.9h0M112.9 779.3h0M134.6 778.5h0M99.3 779.5h0M150.1 779.8h0M138.2 779.8h0M138.3 778.3h0M111.1 779.0h0M111.5 778.5h0M141.8 778.6h0M149.7 779.4h0M155.2 780.7h0M128.0 781.0h0M128.7 779.1h0M107.2 778.8h0M116.7 780.6h0M100.6 779.5h0M114.3 781.1h0M108.7 778.3h0M120.7 779.2h0M117.4 781.0h0M130.8 780.6h0M95.4 779.3h0M135.4 781.2h0M154.9 781.1h0M98.6 780.2h0M144.2 779.0h0M140.3 779.9h0M152.4 780.8h0M156.0 781.0h0M97.7 778.9h0M142.2 779.2h0M104.5 778.6h0M123.8 780.6h0M93.6 778.2h0M90.6 780.5h0M112.3 778.5h0M146.6 778.7h0M132.2 781.2h0M139.9 780.6h0M155.0 778.3h0M91.4 779.0h0M104.0 780.9h0M149.8 779.9h0M107.9 779.5h0M91.3 779.9h0M133.5 778.6h0M95.4 778.5h0M94.2 780.6h0M110.7 780.7h0M93.2 779.2h0M115.4 780.6h0M123.8 780.8h0M135.8 778.3h0M120.3 779.9h0M115.4 780.1h0M116.5 780.7h0M108.0 779.1h0M121.2 781.0h0M97.1 778.7h0M112.1 778.7h0M131.2 779.3h0M112.3 779.5h0M116.6 779.7h0M154.8 780.9h0M102.0 778.5h0M153.5 778.8h0M148.7 780.9h0M138.5 780.8h0M147.8 780.0h0M121.9 779.6h0M101.5 779.5h0M148.9 779.9h0M118.3 780.1h0M100.4 780.3h0M147.1 778.3h0M113.6 780.3h0M110.9 778.6h0M105.5 780.7h0M109.4 780.9h0M97.2 780.5h0M133.6 778.4h0M105.3 780.3h0M129.0 781.1h0M93.0 779.5h0M120.2 780.1h0M116.6 781.1h0M105.4 780.7h0M103.8 781.0h0M145.5 781.2h0M116.5 780.7h0M101.3 778.9h0M156.0 778.3h0M110.5 779.6h0M117.8 781.0h0M117.1 779.4h0M115.4 778.8h0M118.8 780.3h0M151.2 779.5h0M105.0 778.5h0M121.2 779.4h0M120.4 778.6h0M139.4 779.9h0M113.0 778.9h0M147.1 779.4h0M149.6 779.6h0M116.6 780.2h0M106.0 780.7h0M153.2 779.5h0M92.6 780.6h0M117.2 778.8h0M148.4 778.9h0M107.7 779.9h0M155.0 780.0h0M133.5 781.0h0M121.2 779.7h0M152.3 778.3h0M140.9 780.2h0M149.6 778.5h0M92.1 779.9h0M126.4 780.3h0M104.0 778.8h0M101.7 779.5h0M88.0 779.8h0M156.2 781.2h0M94.4 778.5h0M152.6 779.7h0M107.9 780.3h0M139.6 779.5h0M118.8 779.1h0M93.8 780.0h0M150.0 778.5h0M121.7 778.9h0M150.5 779.6h0M96.9 780.9h0M135.1 780.2h0M124.6 781.1h0M155.0 780.4h0M132.4 779.3h0M112.3 780.6h0M127.2 780.2h0M92.1 780.7h0M89.4 778.5h0M101.2 778.4h0M131.3 778.3h0M120.5 780.4h0M92.7 779.3h0M136.8 779.2h0M152.3 780.9h0M133.2 779.1h0M154.6 780.4h0M153.8 781.1h0M129.1 780.2h0M124.1 780.7h0M114.4 780.2h0M120.1 780.0h0M102.4 780.7h0M120.4 778.2h0M147.9 780.8h0M132.4 780.8h0M110.1 778.2h0M111.1 780.9h0M127.1 779.4h0M123.5 778.4h0M123.6 780.1h0M101.7 779.5h0M140.3 779.7h0M114.8 780.4h0M147.6 778.2h0M128.8 779.1h0M110.0 780.7h0M90.7 779.3h0M152.8 779.1h0M135.2 778.6h0M116.4 779.9h0M105.4 778.7h0M136.4 779.6h0M142.8 778.5h0M89.9 780.5h0M120.4 779.1h0M104.1 779.9h0M134.5 780.3h0M134.9 781.0h0M116.4 779.3h0M149.0 779.7h0M134.6 779.2h0M133.4 779.8h0M109.5 780.8h0M150.6 778.9h0M133.6 778.9h0M109.3 780.7h0M125.0 779.8h0M133.4 778.6h0M114.9 780.1h0M137.5 778.6h0M127.5 779.4h0M151.0 778.4h0M89.8 778.3h0M93.5 779.5h0M122.7 778.3h0M103.5 781.1h0M155.8 779.8h0M119.7 779.9h0M106.6 781.1h0M126.8 780.6h0M122.7 778.2h0M157.6 780.3h0M110.7 780.8h0M130.5 780.7h0M95.7 778.5h0M126.9 778.5h0M102.1 780.7h0M128.3 779.1h0M99.5 779.7h0M127.2 779.7h0M109.3 779.9h0M94.6 780.9h0M90.9 778.7h0M104.6 779.2h0M94.9 778.5h0M88.7 778.8h0M125.0 778.5h0M150.8 781.2h0M90.3 780.5h0M89.8 778.6h0M97.0 779.2h0M154.9 779.1h0M158.5 779.3h0M114.7 778.3h0M102.3 779.5h0M116.6 779.6h0M108.1 778.3h0M158.2 779.1h0M122.5 778.3h0M155.0 781.1h0M150.5 780.9h0M93.3 780.4h0M113.4 779.7h0M155.5 780.8h0M133.3 779.7h0M95.7 778.2h0M152.7 780.2h0M149.4 779.8h0M135.2 778.4h0M132.7 780.1h0M90.4 779.8h0M128.4 780.4h0M128.2 781.2h0M104.9 779.8h0M121.4 779.1h0M103.3 780.4h0M139.5 780.3h0M97.5 779.3h0M111.9 779.4h0M156.6 778.3h0M143.7 778.3h0M143.9 780.1h0M154.0 780.8h0M101.7 779.7h0M95.5 779.4h0M126.0 780.6h0M140.3 780.9h0M121.9 780.4h0M154.3 780.8h0M114.1 779.1h0M108.5 778.7h0M94.8 781.0h0M87.5 779.5h0M121.2 779.6h0M120.7 778.6h0M102.2 780.8h0M104.5 778.7h0M145.2 780.9h0M86.7 778.2h0M156.5 780.4h0M125.0 781.1h0M123.4 780.7h0M135.9 780.7h0M127.4 780.2h0M121.4 778.3h0M124.4 778.3h0M138.6 780.5h0M104.9 778.7h0M142.7 780.8h0M145.1 780.3h0M127.5 778.5h0M152.9 780.7h0M96.9 780.4h0M130.3 778.3h0M133.8 778.9h0M146.0 779.8h0M113.7 778.8h0M131.4 778.5h0M158.6 779.8h0M111.5 780.8h0M128.8 780.3h0M109.4 779.7h0M139.2 779.2h0M119.8 779.2h0M131.9 778.5h0M135.9 778.7h0M104.0 778.6h0M87.0 778.8h0M87.6 779.4h0M106.4 780.7h0M140.2 780.8h0M135.7 781.0h0M101.6 780.0h0M127.8 779.2h0M112.6 778.6h0M88.6 780.6h0M115.0 779.4h0M133.8 778.5h0M111.9 779.3h0M136.4 780.7h0M113.2 779.9h0M129.9 779.6h0M96.6 780.6h0M110.3 780.9h0M142.3 778.5h0M139.6 780.5h0M129.0 781.1h0M101.8 780.4h0M129.8 779.5h0M125.7 780.7h0M122.9 779.0h0M149.6 780.1h0M119.0 778.6h0M89.9 779.4h0M94.0 778.8h0M135.4 781.0h0M89.7 778.4h0M108.8 779.5h0M128.5 780.1h0M93.8 779.0h0M110.8 779.9h0M144.4 778.4h0M107.3 780.2h0M142.6 779.8h0M151.1 780.1h0M90.5 780.3h0M151.5 779.5h0M157.0 778.7h0M135.7 780.7h0M116.6 781.1h0M110.7 780.5h0M154.3 780.7h0M111.5 781.1h0M97.7 779.1h0M115.7 779.7h0M145.8 779.1h0M101.9 779.0h0M136.0 779.4h0M122.8 778.5h0M129.9 781.0h0M147.2 779.2h0M105.9 778.9h0M153.9 779.0h0M121.0 778.7h0M92.4 781.0h0M115.8 779.6h0M133.0 779.2h0M124.0 780.1h0M139.5 779.5h0M101.6 779.5h0M119.7 778.8h0M137.3 778.2h0M141.8 779.7h0M135.0 780.3h0M126.6 778.2h0M95.3 779.9h0M117.7 779.1h0M100.3 779.1h0M94.7 778.3h0M92.4 779.3h0M140.7 779.5h0M106.0 780.1h0M151.1 779.8h0M127.2 778.3h0M121.6 778.8h0M129.9 778.7h0M131.6 780.8h0M103.0 780.4h0M102.6 779.4h0M116.8 780.1h0M88.1 778.2h0M121.6 780.6h0M134.4 780.9h0M97.1 778.4h0M134.8 780.1h0M96.2 779.0h0M104.0 780.2h0M106.8 779.3h0M104.2 781.0h0M147.9 779.6h0M95.7 781.0h0M152.4 779.7h0M126.3 778.5h0M88.3 780.9h0M101.5 779.1h0M94.8 779.5h0M143.9 780.0h0M134.7 781.1h0M121.4 780.1h0M135.3 780.0h0M134.3 778.5h0M153.9 778.8h0M137.6 778.3h0M117.6 781.1h0M144.7 780.1h0M110.8 778.4h0M115.5 780.8h0M152.0 781.2h0M90.4 779.1h0M99.1 779.0h0M86.8 780.3h0M115.2 779.3h0M140.3 779.2h0M100.6 778.6h0M90.5 779.9h0M90.2 778.9h0M120.7 779.9h0M154.2 780.5h0M133.8 779.1h0M91.7 778.9h0M111.2 779.0h0M141.0 780.2h0M115.1 780.0h0M93.8 779.5h0M139.0 778.3h0M118.7 779.6h0M132.8 778.9h0M134.5 778.3h0M147.4 778.3h0M118.5 779.6h0M98.7 779.7h0M123.6 780.1h0M154.0 778.6h0M145.8 780.3h0M128.5 778.6h0M114.8 779.4h0M100.5 778.4h0M127.9 779.9h0M148.6 780.4h0M125.0 780.0h0M151.4 779.7h0M154.9 778.7h0M94.7 779.4h0M122.0 780.7h0M149.9 778.7h0M156.7 779.7h0M97.0 779.2h0M147.1 780.4h0M141.4 779.8h0M114.5 778.3h0M137.0 778.3h0M142.6 778.7h0M101.9 779.0h0M93.8 778.9h0M136.3 780.0h0M128.6 778.3h0M136.0 780.3h0M156.2 778.9h0M108.4 779.9h0M111.5 779.9h0M147.1 780.1h0M154.7 780.3h0M112.2 780.3h0M143.5 780.9h0M98.0 778.8h0M140.4 780.7h0M117.1 781.0h0M147.6 778.6h0M89.5 778.8h0M104.4 778.2h0M97.6 778.4h0M107.9 779.5h0M126.2 778.8h0M112.1 778.9h0M144.4 779.2h0M90.3 779.8h0M102.5 778.2h0M116.9 778.6h0M116.8 780.4h0M100.3 779.0h0M93.9 779.8h0M124.9 778.3h0M146.8 781.0h0M112.4 779.9h0M142.6 780.9h0M136.7 780.3h0M130.3 780.1h0M98.9 778.6h0M147.2 780.1h0M113.4 780.6h0M111.9 780.0h0M95.3 778.4h0M118.7 780.4h0M105.4 780.7h0M120.8 780.0h0M143.9 780.2h0M102.1 780.7h0M137.8 780.7h0M97.6 780.9h0M125.8 780.2h0M140.4 780.1h0M147.6 780.5h0M114.0 778.9h0M149.4 778.8h0M135.7 779.7h0M117.4 778.4h0M110.7 780.0h0M136.1 779.6h0M152.1 780.2h0M146.3 779.0h0M96.5 778.5h0M137.1 778.4h0M124.5 778.6h0M125.3 778.5h0M144.5 780.6h0M150.4 780.7h0M123.4 780.2h0M118.4 780.3h0M108.6 779.0h0M115.4 779.7h0M97.4 780.7h0M136.5 780.0h0M127.6 778.5h0M93.0 780.4h0M147.6 779.1h0M144.6 780.7h0M117.6 778.6h0M156.5 779.1h0M156.6 780.2h0M134.7 778.4h0M98.4 779.4h0M109.3 779.6h0M150.1 779.9h0M95.3 779.7h0M128.9 780.4h0M144.6 780.3h0M121.1 779.5h0M88.6 778.5h0M131.8 780.4h0M152.6 778.9h0M129.6 779.7h0M136.4 780.5h0M119.6 781.1h0M90.5 779.4h0M124.8 778.7h0M132.7 779.0h0M135.0 780.0h0M139.2 780.7h0M156.6 779.4h0M118.2 779.2h0M118.5 780.3h0M132.2 778.3h0M129.1 778.5h0M114.8 778.3h0M153.6 778.9h0M92.8 778.5h0M127.4 779.8h0M145.6 779.5h0M146.6 779.5h0M99.2 778.4h0M102.5 779.7h0M103.0 781.0h0M122.4 780.0h0M94.3 778.7h0M127.2 779.4h0M97.8 780.2h0M140.1 779.4h0M115.0 780.2h0M151.9 779.8h0M101.8 779.2h0M132.8 779.1h0M106.1 779.8h0M111.6 781.1h0M121.2 779.3h0M122.7 778.5h0M108.4 779.1h0M145.7 779.0h0M98.0 778.3h0M99.9 781.1h0M129.4 780.3h0M110.9 780.7h0M144.8 781.1h0M109.8 778.2h0M95.8 779.1h0M132.3 780.1h0M131.7 780.7h0M146.6 778.7h0M136.6 781.1h0M110.2 780.7h0M157.2 781.2h0M142.0 778.4h0M153.6 780.5h0M149.9 780.8h0M117.9 779.0h0M118.5 780.5h0M130.7 780.0h0M147.6 778.7h0M92.6 778.7h0M101.9 780.6h0M158.0 778.4h0M128.0 778.5h0M129.5 780.4h0M123.6 779.2h0M94.6 780.2h0M141.6 779.3h0M91.8 780.8h0M157.0 780.8h0M150.2 779.0h0M107.7 780.4h0M114.4 780.8h0M100.3 778.2h0M122.5 778.7h0M144.1 780.6h0M140.5 778.8h0M92.6 780.1h0M114.7 779.5h0M127.0 779.8h0M151.3 778.3h0M120.7 778.5h0M103.6 778.5h0M89.9 779.0h0M129.0 779.1h0M108.0 779.2h0M119.6 780.5h0M118.0 779.2h0M158.1 778.6h0M136.8 779.8h0M136.9 780.5h0M113.1 778.7h0M110.0 781.0h0M90.4 781.1h0M138.6 781.0h0M145.8 779.9h0M123.7 780.1h0M140.7 779.0h0M133.8 779.6h0M106.0 779.5h0M118.6 779.7h0M156.6 779.5h0M145.5 779.8h0M117.6 778.6h0M104.2 778.9h0M138.9 780.5h0M99.3 778.6h0M151.9 779.8h0M100.1 780.6h0M127.3 780.5h0M90.6 779.3h0M150.7 781.0h0M154.0 781.1h0M101.4 780.8h0M120.2 780.3h0M121.6 780.5h0M123.6 779.1h0M113.0 780.6h0M137.7 779.1h0M140.6 778.2h0M112.1 779.4h0M128.9 780.0h0M119.1 779.9h0M115.0 779.9h0M143.5 779.3h0M151.2 778.5h0M109.3 780.5h0M124.6 778.5h0M96.3 780.1h0M122.2 780.9h0M149.3 778.6h0M109.8 778.8h0M101.7 780.9h0M132.8 780.2h0M113.5 778.7h0M141.1 779.3h0M149.4 780.2h0M147.9 778.7h0M127.7 780.4h0M119.5 778.9h0M154.0 780.3h0M133.7 778.5h0M154.3 780.7h0M121.3 780.7h0M142.6 778.9h0M154.1 779.9h0M138.3 781.1h0M102.6 779.8h0M125.7 779.7h0M127.4 779.5h0M134.5 781.1h0M144.2 781.1h0M87.6 779.4h0M86.7 779.0h0M113.8 779.6h0M151.7 779.2h0M142.1 780.6h0M117.0 780.0h0M102.5 779.9h0M112.5 780.1h0M88.0 779.7h0M113.5 780.5h0M148.4 779.1h0M103.5 778.6h0M144.3 781.0h0M92.5 781.0h0M152.7 779.0h0M126.4 779.3h0M156.9 779.7h0M89.2 780.6h0M104.3 779.4h0M106.3 779.3h0M90.3 778.9h0M96.0 780.7h0M141.4 781.2h0M94.2 779.4h0M148.2 781.2h0M96.7 779.4h0M108.0 778.8h0M109.7 780.4h0M134.1 781.1h0M151.1 780.7h0M139.6 778.7h0M147.3 779.4h0M93.8 780.0h0M100.1 779.1h0M87.2 780.7h0M136.5 779.3h0M148.1 778.9h0M149.1 779.6h0M116.0 778.6h0M97.2 781.1h0M106.3 778.5h0M114.1 780.3h0M99.4 778.9h0M104.5 780.6h0M137.7 779.1h0M107.4 778.9h0M134.7 779.8h0M153.6 779.2h0M92.0 781.1h0M137.9 779.4h0M94.4 778.6h0M95.6 780.8h0M107.1 779.3h0M136.3 778.4h0M105.5 781.1h0M100.1 780.7h0M147.7 780.0h0M116.7 779.7h0M151.6 780.9h0M114.0 780.6h0M103.7 778.5h0M94.0 780.2h0M149.9 778.4h0M136.9 780.0h0M122.4 779.2h0M158.8 778.5h0M130.7 778.4h0M117.2 779.8h0M148.3 778.6h0M145.6 779.4h0M90.5 779.6h0M141.8 779.8h0M129.9 778.7h0M105.3 779.6h0M149.7 778.3h0M151.7 781.2h0M131.3 779.1h0M146.6 778.6h0M121.4 779.9h0M93.4 778.7h0M140.6 778.6h0M112.5 780.4h0M110.8 779.2h0M103.7 781.2h0M118.1 780.2h0M127.5 779.7h0M158.2 780.8h0M152.9 778.2h0M134.3 779.7h0M110.0 778.3h0M121.6 778.5h0M131.8 780.8h0M121.9 780.1h0M115.6 780.8h0M118.9 780.3h0M104.8 778.8h0M109.2 779.9h0M96.0 780.7h0M156.3 781.1h0M130.5 780.7h0M126.3 778.9h0M129.2 779.1h0M124.2 778.4h0M118.6 780.4h0M108.1 778.5h0M138.5 779.0h0M134.6 779.2h0M107.0 778.5h0M147.9 779.3h0M156.7 778.9h0M97.5 778.4h0M136.1 778.5h0M121.0 781.1h0M109.4 779.3h0M96.2 781.1h0M155.2 780.3h0M134.0 780.5h0M101.4 778.8h0M103.9 779.5h0M119.2 780.2h0M146.9 778.3h0M130.1 780.2h0M91.6 778.9h0M153.4 778.3h0M90.9 779.0h0M97.1 780.3h0M142.4 778.9h0M100.9 779.4h0M126.6 780.3h0M153.2 778.9h0M93.0 781.0h0M129.9 780.2h0M128.9 778.9h0M123.0 779.2h0M153.9 779.0h0M118.5 779.1h0M158.1 779.7h0M143.5 779.6h0M92.7 779.0h0M97.1 778.5h0M147.2 779.2h0M156.1 781.1h0M143.4 778.4h0M107.0 780.0h0M90.7 779.0h0M87.9 779.2h0M124.6 779.2h0M138.7 778.3h0M135.5 778.5h0M92.8 779.7h0M134.7 778.3h0M107.1 778.6h0M127.2 778.5h0M113.2 780.3h0M148.3 779.4h0M133.6 779.4h0M146.0 780.1h0M90.9 778.6h0M131.5 781.0h0M155.9 778.4h0M126.4 780.3h0M140.4 778.8h0M147.9 779.5h0M143.6 778.3h0M137.3 779.9h0M97.0 780.4h0M126.1 778.3h0M94.5 779.4h0M148.1 780.1h0M118.0 778.9h0M113.8 781.2h0M110.3 781.0h0M154.3 779.9h0M149.7 780.8h0M112.5 779.1h0M95.8 779.9h0M117.4 781.1h0M110.2 778.3h0M118.8 781.0h0M136.1 780.2h0M120.0 778.6h0M99.7 780.9h0M113.1 779.7h0M122.7 779.9h0M150.7 778.9h0M143.2 779.0h0M113.6 779.7h0M118.1 780.0h0M141.7 780.2h0M116.0 780.8h0M102.1 780.0h0M150.4 780.5h0M133.1 779.7h0M87.5 781.1h0M110.5 779.2h0M95.8 780.8h0M103.0 779.9h0M91.6 778.9h0M118.1 778.6h0M144.5 778.3h0M94.0 778.6h0M119.9 779.8h0M143.3 781.2h0M109.0 778.8h0M88.1 778.9h0M126.1 781.2h0M91.8 780.3h0M134.5 778.5h0M140.7 781.1h0M131.3 779.6h0M119.3 780.2h0M147.2 779.3h0M156.2 780.6h0M112.4 780.8h0M103.1 780.7h0M133.9 780.2h0M144.7 779.3h0M97.8 780.1h0M146.6 779.0h0M88.7 778.3h0M117.7 778.4h0M130.2 779.1h0M109.8 780.7h0M140.5 780.0h0M119.5 779.3h0M151.6 780.8h0M142.7 778.5h0M94.7 780.8h0M151.1 778.3h0M131.6 778.8h0M89.5 779.7h0M155.2 780.8h0M116.7 780.8h0M113.9 781.2h0M144.9 780.6h0M155.8 780.6h0M123.4 780.2h0M110.4 780.9h0M87.9 778.2h0M131.1 780.7h0M157.3 780.4h0M131.2 780.1h0M102.5 780.0h0M92.4 779.9h0M89.5 780.0h0M95.1 778.8h0M105.5 780.9h0M149.7 778.5h0M119.6 781.0h0M120.0 778.2h0M129.1 781.1h0M99.8 778.3h0M121.6 779.7h0M126.4 779.5h0M131.1 780.0h0M88.0 780.0h0M112.0 778.8h0M112.6 778.3h0M97.4 779.5h0M155.4 779.2h0M87.7 779.9h0M152.6 780.6h0M105.6 778.6h0M143.7 780.4h0M135.9 779.7h0M149.7 781.1h0M90.6 778.7h0M148.4 779.9h0M134.1 781.1h0M112.8 780.6h0M100.4 779.7h0M148.7 781.0h0M138.0 780.7h0M132.3 779.5h0M117.5 781.1h0M115.5 778.6h0M99.6 779.0h0M148.4 780.1h0M92.3 780.3h0M136.1 779.5h0M129.8 780.8h0M112.2 779.1h0M134.0 780.1h0M108.1 781.1h0M100.0 779.7h0M108.8 780.6h0M150.6 779.9h0M102.4 780.2h0M152.3 780.2h0M86.9 780.0h0M131.9 779.9h0M101.5 779.7h0M110.2 780.3h0M94.4 780.6h0M97.2 779.0h0M110.6 779.2h0M88.8 778.7h0M110.2 779.6h0M141.1 779.1h0M158.4 780.2h0M119.4 779.1h0M100.8 778.9h0M150.3 779.8h0M100.9 780.0h0M134.8 780.3h0M142.1 780.7h0M108.2 779.7h0M132.4 780.0h0M141.1 779.5h0M145.4 781.0h0M120.5 780.0h0M114.7 778.7h0M134.7 780.4h0M127.7 780.6h0M157.8 780.7h0M96.3 781.0h0M99.0 780.5h0M89.0 779.6h0M101.5 778.5h0M124.2 780.8h0M115.1 778.5h0M155.7 779.6h0M149.5 779.2h0M150.7 778.3h0M124.8 780.8h0M108.7 780.4h0M139.8 779.0h0M141.5 780.2h0M110.6 779.5h0M132.2 781.0h0M146.3 778.4h0M98.0 780.1h0M118.0 779.0h0M147.6 779.4h0M105.5 778.5h0M146.0 781.0h0M153.9 779.6h0M133.1 780.3h0M119.1 778.3h0M140.8 779.8h0M100.2 778.5h0M148.2 778.3h0M97.1 779.1h0M158.0 779.8h0M152.1 779.4h0M135.6 779.8h0M120.9 778.8h0M131.7 778.7h0M102.7 780.8h0M150.6 781.1h0M99.6 779.8h0M144.5 781.0h0M106.4 779.4h0M154.0 780.1h0M98.9 779.8h0M102.8 780.1h0M154.6 780.3h0M89.8 781.1h0M119.3 780.9h0M142.8 779.1h0M125.8 778.7h0M125.0 780.4h0M133.2 779.2h0M142.7 778.4h0M97.6 780.8h0M108.3 781.1h0M120.0 779.0h0M142.8 781.1h0M152.6 780.1h0M151.4 780.3h0M108.8 780.4h0M114.3 781.2h0M94.7 779.7h0M137.6 780.5h0M158.7 780.4h0M103.3 778.2h0M138.4 780.4h0M150.6 781.1h0M86.9 780.8h0M114.4 779.1h0M128.6 779.8h0M144.5 779.3h0M90.8 779.2h0M89.9 779.3h0M118.8 779.6h0M126.3 779.6h0M99.7 780.1h0M107.7 781.1h0M133.0 778.6h0M144.0 780.5h0M130.8 778.9h0M127.3 780.6h0M130.6 781.1h0M128.4 779.4h0M100.3 779.0h0M152.2 779.2h0M90.3 780.3h0M122.9 780.6h0M134.5 778.3h0M102.1 779.0h0M135.5 779.4h0M155.4 779.0h0M110.8 778.6h0M115.6 780.2h0M143.1 778.4h0M155.1 778.7h0M109.9 780.6h0M95.9 779.0h0M124.8 779.9h0M125.6 780.2h0M134.4 779.5h0M152.4 779.1h0M130.6 779.6h0M104.6 780.1h0M107.0 781.0h0M108.2 778.5h0M108.7 780.3h0M96.8 780.6h0M130.8 780.9h0M92.3 778.9h0M126.6 779.6h0M109.7 780.4h0M99.6 780.9h0M132.7 780.2h0M110.8 778.3h0M104.0 780.8h0M143.2 778.7h0M98.8 780.9h0M96.4 781.1h0M104.8 779.6h0M145.2 778.5h0M88.8 780.3h0M112.4 779.4h0M147.6 779.5h0M125.6 780.2h0M142.2 781.0h0M132.8 779.3h0M91.3 781.0h0M100.0 778.7h0M127.9 780.9h0M152.5 780.4h0M89.9 778.6h0M156.9 780.5h0M143.0 778.7h0M157.9 778.4h0M90.6 780.3h0M103.5 780.8h0M158.4 779.4h0M103.4 780.6h0M94.3 778.8h0M142.0 780.6h0M104.0 780.2h0M100.2 779.2h0M119.4 779.4h0M155.2 780.5h0M100.1 779.9h0M134.9 780.1h0M129.6 780.1h0M121.7 781.0h0M124.9 779.6h0M88.8 779.2h0M157.2 780.7h0M104.8 779.4h0M155.6 779.1h0M120.8 780.1h0M124.7 779.6h0M97.5 778.6h0M146.0 780.4h0M138.5 778.3h0M134.5 779.5h0M138.7 780.5h0M106.0 780.6h0M122.8 779.1h0M135.3 780.8h0M125.9 779.1h0M114.6 779.6h0M156.8 779.4h0M90.3 781.0h0M87.9 780.3h0M129.0 779.2h0M152.2 779.9h0M118.7 778.3h0M125.1 780.2h0M109.9 780.0h0M136.0 778.8h0M101.0 779.2h0M156.0 780.2h0M103.7 780.7h0M104.5 780.9h0M133.8 778.8h0M97.7 779.9h0M156.5 779.5h0M89.8 778.3h0M134.0 779.2h0M90.7 780.7h0M97.5 780.7h0M104.4 778.7h0M116.8 778.8h0M126.7 779.3h0M101.3 778.2h0M149.9 779.7h0M103.8 779.0h0M126.4 779.9h0M126.6 778.7h0M101.5 778.6h0M136.7 778.5h0M102.1 781.0h0M125.1 780.9h0M90.7 778.4h0M137.1 778.3h0M148.9 779.0h0M97.8 778.6h0M118.3 779.9h0M133.3 779.9h0M128.8 779.8h0M149.3 780.0h0M116.9 779.7h0M120.8 780.0h0M99.0 780.6h0M103.2 778.5h0M146.1 780.8h0M110.5 781.1h0M154.7 778.2h0M112.9 778.9h0M112.2 779.5h0M155.9 778.8h0M139.5 780.6h0M104.7 780.8h0M93.5 780.6h0M119.5 777.5h0M121.6 780.2h0M122.1 780.8h0M129.7 773.2h0M117.3 769.7h0M118.7 774.6h0M129.0 774.7h0M119.7 777.7h0M122.1 781.1h0M117.3 770.8h0M117.5 771.6h0M118.7 776.9h0M120.0 778.6h0M130.3 766.5h0M120.9 779.5h0M125.1 780.0h0M117.1 776.8h0M125.8 779.2h0M119.1 775.6h0M128.9 774.8h0M128.7 773.8h0M118.6 774.7h0M127.4 775.4h0M117.3 770.2h0M127.0 776.7h0M116.3 770.4h0M120.1 778.2h0M130.3 772.9h0M116.7 779.0h0M123.8 781.2h0M117.5 772.4h0M120.9 779.7h0M121.9 780.9h0M119.4 778.4h0M120.6 778.9h0M121.9 780.7h0M122.7 781.1h0M129.1 772.6h0M117.2 769.5h0M128.8 771.7h0M119.5 780.5h0M118.7 774.9h0M121.0 780.8h0M124.4 780.8h0M118.4 777.2h0M120.5 778.7h0M128.7 771.6h0M117.1 770.1h0M126.9 778.8h0M128.6 775.5h0M117.7 777.3h0M125.4 780.0h0M117.0 772.5h0M119.2 778.9h0M129.5 767.6h0M120.0 780.7h0M126.2 778.8h0M129.4 770.1h0M123.8 781.2h0M125.6 779.6h0M124.6 780.8h0M127.5 775.4h0M125.6 779.8h0M118.5 774.0h0M128.6 773.7h0M126.0 781.0h0M116.9 777.8h0M120.7 779.0h0M126.8 778.6h0M127.0 777.7h0M116.5 766.6h0M117.8 776.5h0M118.6 778.7h0M127.5 775.1h0M128.1 775.9h0M117.8 776.1h0M128.7 773.4h0M129.6 768.2h0M121.9 780.6h0M116.2 770.2h0M127.0 778.9h0M129.3 768.9h0M122.0 780.6h0M122.1 780.7h0M125.2 780.9h0M126.0 778.7h0M122.7 781.1h0M120.8 780.4h0M117.1 772.3h0M127.9 776.7h0M124.7 780.5h0M119.2 776.3h0M116.9 767.7h0M119.0 777.4h0M125.9 780.9h0M125.4 780.4h0M117.2 774.2h0M128.3 775.1h0M129.6 774.3h0M118.1 772.3h0M119.1 775.4h0M117.5 774.1h0M120.4 779.6h0M120.8 780.5h0M124.9 780.6h0M120.8 779.1h0M122.9 781.2h0M116.3 765.2h0M127.8 779.6h0M125.5 779.9h0M122.8 781.1h0M122.1 781.1h0M120.4 780.6h0M125.0 780.7h0M127.2 775.9h0M120.3 778.7h0M119.8 780.2h0M122.8 781.1h0M128.6 775.2h0M117.3 772.2h0M127.1 776.1h0M120.6 779.4h0M127.3 778.9h0M119.5 779.7h0M119.8 777.4h0M117.9 772.2h0M122.3 780.9h0M118.3 778.5h0M127.3 776.5h0M125.4 780.0h0M118.9 776.5h0M118.3 774.7h0M117.9 774.8h0M127.5 777.1h0M130.0 768.4h0M119.4 776.7h0M125.3 780.4h0M128.4 771.9h0M116.2 767.8h0M127.7 778.3h0M127.9 778.9h0M128.1 773.6h0M117.0 776.9h0M127.0 776.7h0M119.2 775.8h0M129.2 780.4h0M120.1 778.3h0M122.2 780.9h0M123.1 781.2h0M119.2 777.7h0M130.2 771.2h0M118.1 779.6h0M119.2 778.2h0M125.2 780.3h0M128.3 779.8h0M130.4 763.6h0M118.2 775.0h0M117.5 774.0h0M126.3 780.6h0M117.0 769.3h0M122.4 781.0h0M130.4 764.9h0M116.5 777.6h0M125.5 780.0h0M127.6 779.0h0M126.9 779.9h0M121.8 780.6h0M118.3 773.4h0M116.5 775.3h0M126.6 780.4h0M117.7 770.9h0M120.1 778.8h0M126.7 778.5h0M123.1 781.2h0M117.6 777.5h0M119.4 778.3h0M126.3 778.5h0M118.7 774.6h0M127.6 776.1h0M118.4 773.5h0M121.8 780.9h0M117.7 775.3h0M125.0 780.8h0M120.3 779.2h0M126.2 779.2h0M127.0 779.5h0M117.4 771.7h0M121.6 780.3h0M118.6 778.7h0M125.4 779.8h0M117.2 771.0h0M125.9 780.2h0M126.7 778.6h0M127.2 779.1h0M123.0 781.2h0M116.6 776.9h0M130.1 767.0h0M118.6 775.0h0M126.8 780.4h0M130.0 771.2h0M119.6 776.6h0M117.4 769.9h0M125.8 779.0h0M129.8 778.7h0M130.2 765.4h0M127.7 776.6h0M125.6 780.1h0M128.1 776.5h0M116.5 773.7h0M118.9 775.2h0M122.5 781.2h0M130.3 773.6h0M116.5 772.1h0M129.5 773.6h0M126.9 777.4h0M122.1 780.8h0M124.7 780.9h0M120.3 779.0h0M127.4 778.3h0M127.1 779.3h0M120.4 779.4h0M130.3 770.3h0M119.9 777.5h0M121.0 779.9h0M119.7 777.3h0M116.4 767.9h0M130.2 766.5h0M126.5 779.0h0M127.6 780.6h0M125.9 779.4h0M128.2 775.8h0M128.8 774.6h0M121.8 780.6h0M122.3 780.9h0M121.7 780.4h0M120.1 777.9h0M118.2 774.4h0M122.2 781.0h0M128.7 772.6h0M130.4 776.4h0M116.4 767.4h0M124.3 780.9h0M128.5 776.0h0M127.4 775.6h0M116.8 779.0h0M116.9 776.3h0M127.9 777.9h0M123.4 781.2h0M118.2 774.6h0M128.2 776.9h0M129.5 773.6h0M118.2 779.5h0M117.2 771.5h0M129.9 770.2h0M120.0 778.8h0M125.4 779.8h0M120.3 778.6h0M121.9 780.6h0M126.3 779.0h0M125.7 780.1h0M120.8 779.8h0M122.6 781.1h0M118.7 777.2h0M119.7 776.9h0M116.9 771.0h0M117.4 772.8h0M119.7 777.3h0M128.9 771.5h0M125.9 779.0h0M125.6 779.9h0M128.7 771.2h0M121.4 780.3h0M127.8 779.7h0M117.8 777.5h0M126.4 778.0h0M130.0 774.7h0M128.3 775.3h0M119.3 779.8h0M120.3 778.4h0M118.5 774.4h0M119.2 775.7h0M126.9 777.0h0M125.2 780.4h0M120.5 779.7h0M125.8 779.2h0M119.8 778.4h0M117.1 768.2h0M126.8 777.5h0M122.0 780.8h0M124.5 780.9h0M118.3 776.7h0M126.8 778.0h0M125.6 780.0h0M128.9 771.8h0M120.2 780.1h0M120.5 779.0h0M120.8 779.6h0M127.2 777.4h0M127.0 779.5h0M125.7 780.8h0M119.3 777.3h0M117.2 768.6h0M127.3 775.7h0M126.0 779.4h0M130.1 771.4h0M124.2 780.9h0M129.4 777.5h0M116.7 768.8h0M127.9 774.4h0M125.6 779.5h0M120.7 779.1h0M116.5 772.1h0M130.3 774.5h0M117.9 779.4h0M127.1 776.3h0M118.4 773.4h0M126.2 779.8h0M120.6 779.9h0M118.8 778.8h0M117.2 772.7h0M118.7 774.3h0M122.5 781.2h0M124.9 780.9h0M129.1 774.3h0M117.3 774.6h0M117.8 774.0h0M116.5 774.5h0M129.0 770.3h0M120.6 780.1h0M119.3 778.1h0M128.6 774.1h0M127.3 777.1h0M122.3 780.9h0M130.4 769.0h0M116.8 766.8h0M124.8 780.7h0M121.8 780.6h0M122.7 781.2h0M119.1 776.5h0M129.5 771.3h0M117.0 774.8h0M123.8 781.1h0M127.9 775.2h0M124.1 781.0h0M117.2 769.3h0M117.0 773.5h0M126.4 778.2h0M127.3 778.4h0M120.6 779.7h0M126.8 777.3h0M128.6 774.8h0M116.3 766.5h0M120.7 779.3h0M124.9 781.1h0M128.4 773.0h0M124.4 780.8h0M118.1 773.0h0M117.4 771.5h0M118.5 778.1h0M129.2 769.8h0M124.8 780.7h0M116.5 780.2h0M119.2 776.2h0M118.8 778.4h0M130.2 778.3h0M120.2 778.4h0M129.5 773.5h0M120.8 780.5h0M125.1 780.6h0M117.8 774.8h0M118.2 779.8h0M118.2 772.8h0M127.1 779.0h0M117.4 771.3h0M122.7 781.1h0M122.2 780.9h0M125.9 778.9h0M118.5 774.4h0M127.5 774.9h0M118.8 777.0h0M118.5 775.4h0M128.7 771.4h0M125.7 780.1h0M118.6 779.2h0M121.6 780.4h0M129.5 768.0h0M130.2 765.0h0M122.6 781.1h0M128.2 773.2h0M122.3 781.1h0M129.5 769.7h0M116.8 770.4h0M117.0 770.8h0M128.4 776.4h0M125.6 779.3h0M129.0 778.9h0M117.1 769.2h0M127.7 778.0h0M122.9 781.2h0M121.6 780.9h0M126.1 778.6h0M127.6 777.8h0M122.0 780.7h0M127.1 777.7h0M129.5 768.1h0M128.0 778.7h0M123.5 781.2h0M117.3 773.3h0M126.9 777.2h0M130.0 768.3h0M116.6 768.7h0M126.7 777.3h0M128.9 771.4h0M124.0 781.0h0M126.5 779.7h0M119.5 779.0h0M116.3 764.7h0M118.2 773.7h0M129.2 775.4h0M129.5 775.2h0M120.4 779.4h0M118.5 777.7h0M118.4 776.2h0M117.3 777.3h0M129.7 770.9h0M129.7 769.4h0M120.8 779.6h0M122.4 781.1h0M116.3 767.4h0M118.5 776.3h0M121.0 780.2h0M117.1 771.0h0M116.4 774.8h0M128.5 774.0h0M121.0 779.6h0M129.7 770.1h0M127.2 775.8h0M122.8 781.1h0M122.8 781.1h0M127.1 779.5h0M128.8 772.6h0M117.5 779.8h0M118.1 773.1h0M121.5 780.8h0M116.7 777.4h0M116.4 771.8h0M117.4 774.7h0M117.4 770.5h0M127.3 779.4h0M129.5 770.6h0M120.3 779.7h0M121.4 780.7h0M118.2 775.7h0M128.2 773.4h0M129.7 774.4h0M124.3 780.9h0M118.6 780.0h0M126.4 779.7h0M117.7 779.3h0M121.7 780.8h0M128.7 774.5h0M118.5 775.3h0M120.9 780.4h0M126.5 777.8h0M125.9 779.6h0M128.8 775.4h0M127.4 775.9h0M128.3 775.8h0M129.8 767.6h0M118.4 774.0h0M118.5 775.6h0M117.2 769.7h0M127.0 779.1h0M128.7 777.3h0M129.8 770.2h0M128.8 778.2h0M120.8 779.1h0M129.0 771.8h0M129.7 777.4h0M127.4 780.4h0M119.5 779.4h0M124.6 781.1h0M129.7 767.8h0M128.2 773.9h0M119.1 777.1h0M129.4 769.9h0M118.3 774.7h0M117.7 770.9h0M117.7 773.0h0M119.3 778.4h0M116.6 767.0h0M119.1 778.8h0M116.8 775.7h0M124.8 780.6h0M117.8 774.0h0M120.3 778.2h0M128.0 779.3h0M117.9 774.2h0M120.2 779.8h0M125.2 780.0h0M125.0 780.6h0M130.3 767.8h0M119.2 776.4h0M124.3 781.0h0M123.6 781.2h0M122.4 781.1h0M128.3 772.6h0M126.3 778.4h0M129.5 769.9h0M116.7 768.6h0M116.6 767.7h0M119.6 777.5h0M126.2 780.4h0M118.6 777.6h0M116.7 769.3h0M126.5 778.7h0M126.3 779.8h0M129.7 779.8h0M122.0 780.8h0M128.4 776.5h0M117.0 775.1h0M128.2 772.6h0M129.7 770.3h0M117.6 774.0h0M129.3 769.8h0M128.4 774.4h0M116.5 771.8h0M120.8 779.7h0M126.2 779.3h0M130.3 773.6h0M117.5 770.3h0M122.0 781.0h0M128.8 772.6h0M118.4 777.4h0M126.5 780.1h0M118.3 774.3h0M118.6 777.5h0M126.2 778.4h0M117.4 772.4h0M118.5 776.3h0M118.0 776.0h0M121.0 780.0h0M120.3 778.6h0M129.9 775.5h0M119.4 777.7h0M117.9 772.7h0M121.0 779.8h0M118.1 775.5h0M116.8 768.8h0M119.8 779.6h0M125.9 779.3h0M122.1 780.9h0M126.2 780.0h0M127.5 775.6h0M127.4 778.2h0M125.3 780.9h0M128.5 772.1h0M130.2 766.0h0M116.8 771.3h0M121.4 780.1h0M129.0 776.4h0M117.1 769.2h0M130.1 773.8h0M120.4 778.4h0M117.4 773.6h0M116.2 769.6h0M126.0 779.3h0M116.7 767.9h0M117.0 772.3h0M118.2 774.8h0M127.5 780.7h0M124.1 781.0h0M122.2 780.9h0M130.2 765.1h0M125.5 780.0h0M122.1 780.8h0M121.1 780.0h0M128.2 772.7h0M123.0 781.2h0M120.5 779.5h0M119.3 776.6h0M117.2 777.6h0M127.4 779.4h0M127.3 776.1h0M118.4 775.3h0M118.7 774.2h0M117.8 773.4h0M121.4 779.9h0M126.2 778.5h0M118.7 776.2h0M118.2 777.3h0M130.3 770.9h0M119.2 778.1h0M116.3 771.0h0M119.7 778.1h0M117.3 775.8h0M119.3 780.7h0M121.4 780.5h0M118.2 777.4h0M122.9 781.2h0M122.7 781.1h0M128.7 776.7h0M127.0 778.4h0M126.1 778.9h0M130.0 779.6h0M128.1 776.9h0M120.7 779.3h0M117.5 777.8h0M124.8 780.7h0M120.9 780.1h0M120.0 779.0h0M119.7 777.5h0M116.9 770.1h0M117.3 772.5h0M122.1 780.9h0M129.7 780.3h0M117.5 771.6h0M120.2 780.1h0M125.4 779.8h0M118.8 775.9h0M127.8 777.3h0M117.5 773.7h0M126.1 780.5h0M125.2 780.5h0M117.9 780.5h0M117.3 769.2h0M127.7 774.9h0M125.5 780.0h0M117.7 771.7h0M128.9 776.0h0M129.0 773.1h0M123.6 781.2h0M125.2 780.1h0M126.8 779.7h0M129.8 770.8h0M118.6 777.7h0M125.6 779.4h0M129.8 769.9h0M128.3 777.4h0M122.0 780.8h0M130.3 765.1h0M125.4 780.9h0M117.4 770.7h0M123.4 781.2h0M117.0 772.8h0M128.6 780.3h0M127.4 776.5h0M128.8 771.3h0M120.3 778.3h0M119.8 779.2h0M124.4 780.8h0M129.5 768.3h0M127.5 776.1h0M126.0 778.8h0M128.6 774.7h0M118.0 772.5h0M118.4 774.4h0M120.1 779.4h0M127.0 778.4h0M120.7 779.1h0M123.4 781.2h0M116.8 768.6h0M119.5 777.3h0M128.0 776.3h0M128.9 771.0h0M117.1 769.1h0M116.2 768.5h0M116.8 768.6h0M123.9 781.1h0M120.4 780.1h0M128.9 776.3h0M124.2 781.0h0M121.3 780.0h0M117.1 774.5h0M118.8 776.7h0M116.4 770.5h0M129.8 766.2h0M125.7 779.1h0M129.6 773.4h0M124.7 780.5h0M117.4 774.4h0M117.1 769.4h0M128.3 777.7h0M128.9 770.6h0M119.8 777.4h0M125.3 780.8h0M128.3 772.3h0M116.9 772.8h0M116.4 770.4h0M126.4 778.7h0M117.4 774.7h0M126.9 778.6h0M129.8 772.7h0M116.8 768.8h0M118.0 779.2h0M130.1 765.4h0M120.2 779.4h0M116.3 765.8h0M117.2 772.4h0M125.4 779.9h0M74.5 779.5h0M77.5 779.5h0M80.5 780.0h0" stroke="#619CFF" stroke-width="1.8" stroke-linecap="round" fill="none"/>
<path d="M113.4 776.7h0M94.2 773.9h0M114.0 774.5h0M113.6 757.9h0M111.9 757.4h0M113.4 764.9h0M100.1 741.6h0M111.5 766.1h0M113.3 771.1h0M111.7 733.3h0M114.6 775.1h0M98.1 775.2h0M108.5 743.6h0M114.6 776.0h0M100.5 770.7h0M107.4 747.3h0M109.9 736.7h0M107.4 768.8h0M105.7 775.9h0M115.2 772.6h0M100.2 774.6h0M115.5 746.3h0M110.5 762.3h0M108.2 775.3h0M104.5 774.5h0M112.0 753.2h0M115.4 776.0h0M112.7 773.7h0M108.4 762.3h0M112.6 771.0h0M112.0 769.6h0M100.9 768.1h0M114.2 769.7h0M111.6 768.1h0M111.3 732.9h0M108.3 717.8h0M106.5 774.3h0M114.8 758.4h0M114.2 775.2h0M111.7 745.2h0M113.7 771.4h0M115.6 765.3h0M113.7 765.3h0M113.7 776.6h0M107.5 768.4h0M113.9 767.5h0M108.9 775.7h0M108.3 770.4h0M110.2 752.4h0M114.0 760.5h0M112.1 777.0h0M110.9 772.3h0M105.9 775.4h0M104.6 720.3h0M100.9 766.5h0M115.8 771.7h0M114.1 770.2h0M110.5 770.5h0M101.1 776.8h0M108.0 768.8h0M109.5 746.4h0M97.2 773.1h0M105.8 731.2h0M115.0 775.3h0M104.9 776.4h0M100.2 775.5h0M103.9 776.5h0M105.9 689.1h0M115.0 772.1h0M112.8 739.8h0M105.8 775.0h0M109.1 764.6h0M112.1 734.2h0M112.7 769.6h0M95.5 719.6h0M113.4 729.2h0M108.8 770.9h0M113.1 770.4h0M111.0 772.7h0M114.6 772.5h0M112.6 771.5h0M113.7 761.9h0M108.8 773.4h0M105.1 769.8h0M112.8 762.3h0M108.3 768.9h0M108.6 774.5h0M114.8 760.2h0M107.0 775.4h0M109.7 773.1h0M112.4 741.3h0M87.1 740.7h0M101.4 776.8h0M114.1 767.3h0M102.8 774.9h0M114.5 770.0h0M113.8 774.7h0M112.4 771.0h0M112.9 771.1h0M112.9 772.4h0M115.6 758.7h0M114.4 760.2h0M110.6 767.0h0M107.9 772.2h0M101.1 756.7h0M107.0 765.6h0M112.5 749.4h0M109.7 769.6h0M104.1 740.5h0M110.2 770.5h0M111.1 719.2h0M110.3 756.4h0M109.6 775.3h0M103.4 766.2h0M112.4 752.7h0M114.5 773.8h0M112.3 773.4h0M115.7 745.1h0M110.3 775.8h0M114.6 756.6h0M110.7 764.4h0M105.8 763.5h0M103.1 755.8h0M115.0 774.6h0M109.1 760.8h0M111.2 750.4h0M101.2 765.9h0M108.1 769.4h0M112.5 766.3h0M95.8 775.8h0M108.9 762.8h0M111.7 773.5h0M107.0 761.1h0M111.7 759.0h0M106.4 773.6h0M110.7 761.3h0M112.6 770.4h0M110.6 764.6h0M113.1 772.3h0M108.5 774.1h0M108.8 760.7h0M110.0 749.1h0M114.7 754.2h0M111.0 765.1h0M108.6 775.1h0M110.0 709.5h0M108.6 771.8h0M112.7 774.2h0M108.3 774.1h0M112.5 763.3h0M110.0 723.9h0M99.3 772.3h0M111.4 772.1h0M111.8 764.4h0M113.7 763.7h0M113.6 759.0h0M107.8 777.1h0M113.8 751.6h0M100.6 723.4h0M106.8 776.6h0M114.0 776.7h0M110.5 769.4h0M106.7 775.7h0M106.0 759.4h0M112.1 767.9h0M113.3 753.1h0M106.3 766.9h0M111.8 776.8h0M114.7 761.3h0M113.4 776.8h0M114.9 772.1h0M115.5 759.9h0M107.6 770.6h0M107.3 766.4h0M109.8 679.9h0M108.7 773.7h0M112.0 735.1h0M112.8 755.2h0M112.1 720.4h0M111.6 773.1h0M105.1 717.8h0M112.2 769.4h0M112.6 771.7h0M113.9 752.3h0M115.4 770.8h0M112.1 772.3h0M106.3 768.8h0M101.4 775.5h0M107.9 681.7h0M107.4 757.6h0M114.3 759.0h0M114.3 744.9h0M111.6 746.8h0M112.8 776.5h0M112.2 770.1h0M111.4 773.3h0M108.7 772.3h0M111.6 773.0h0M108.6 752.8h0M112.1 740.2h0M105.5 772.0h0M112.0 755.0h0M107.1 777.1h0M113.1 771.3h0M111.4 774.0h0M109.7 726.2h0M114.7 774.2h0M110.9 776.0h0M109.3 767.8h0M111.0 747.6h0M112.1 772.3h0M112.3 772.2h0M114.9 777.1h0M114.4 769.5h0M111.2 765.7h0M114.5 773.5h0M113.5 731.9h0M112.0 771.8h0M114.5 769.4h0M102.1 768.2h0M110.9 768.6h0M103.2 764.2h0M109.4 716.6h0M114.3 775.2h0M112.4 763.1h0M114.0 746.8h0M111.3 757.2h0M111.3 775.6h0M111.7 773.5h0M109.9 715.2h0M110.0 761.2h0M111.4 774.6h0M110.7 772.9h0M115.7 763.7h0M105.3 745.6h0M114.2 776.5h0M111.9 756.2h0M103.0 771.4h0M114.2 744.1h0M101.7 777.2h0M115.5 763.8h0M109.1 764.8h0M108.5 771.0h0M103.1 773.0h0M110.2 761.6h0M103.1 775.5h0M108.9 751.8h0M113.1 771.2h0M101.1 776.6h0M113.8 734.7h0M106.4 775.2h0M103.8 777.3h0M108.0 777.2h0M111.8 772.3h0M94.9 770.2h0M112.9 767.5h0M103.6 774.9h0M109.1 770.2h0M113.1 768.1h0M108.8 740.4h0M111.8 772.6h0M107.7 765.5h0M111.2 757.7h0M111.7 755.6h0M105.1 743.6h0M115.3 775.8h0M111.7 759.8h0M115.0 765.7h0M113.8 728.4h0M113.9 757.2h0M113.7 761.1h0M113.9 754.5h0M111.3 741.3h0M115.3 771.0h0M114.1 772.5h0M112.2 771.2h0M112.3 745.6h0M111.0 764.1h0M107.7 773.0h0M102.1 770.6h0M109.0 761.0h0M111.9 764.5h0M105.8 765.7h0M112.6 773.7h0M109.4 771.4h0M104.1 761.4h0M108.8 773.3h0M112.2 773.3h0M105.5 764.0h0M111.3 769.7h0M97.6 771.9h0M104.5 671.9h0M97.1 777.1h0M114.6 775.9h0M111.0 698.1h0M111.1 775.4h0M106.1 763.2h0M114.3 765.1h0M115.4 742.3h0M96.5 756.1h0M115.8 776.0h0M112.3 772.5h0M95.6 775.7h0M89.6 768.5h0M112.5 770.2h0M92.3 777.0h0M113.9 776.1h0M108.3 775.1h0M114.7 773.2h0M113.5 777.1h0M112.2 768.6h0M92.5 777.3h0M101.6 727.1h0M102.0 775.8h0M111.3 771.3h0M110.9 727.5h0M111.6 771.2h0M111.9 757.1h0M110.0 751.9h0M102.2 776.4h0M113.3 752.7h0M104.7 754.2h0M115.5 756.1h0M112.7 763.7h0M108.4 766.9h0M115.1 771.9h0M103.1 768.7h0M84.7 751.1h0M115.2 768.0h0M112.7 764.7h0M106.1 761.7h0M108.9 765.0h0M113.1 766.9h0M111.6 774.1h0M104.5 764.2h0M112.7 770.5h0M115.2 772.4h0M109.4 767.9h0M113.5 776.5h0M111.4 756.2h0M114.7 752.3h0M115.0 764.9h0M109.6 763.6h0M95.3 765.9h0M115.4 759.8h0M104.7 776.1h0M111.5 769.1h0M113.6 761.3h0M111.0 769.6h0M114.2 774.6h0M110.1 773.0h0M110.4 754.5h0M93.9 774.5h0M111.0 757.9h0M110.4 775.6h0M107.8 749.8h0M113.0 752.5h0M114.9 765.8h0M99.2 776.8h0M107.2 774.1h0M111.8 767.4h0M114.5 776.1h0M115.3 758.4h0M109.8 744.8h0M109.3 754.7h0M106.0 761.9h0M113.9 770.6h0M110.8 749.1h0M112.4 760.8h0M115.3 771.9h0M113.9 764.5h0M114.5 736.0h0M101.3 761.3h0M109.1 775.2h0M112.2 775.9h0M109.5 763.0h0M110.7 769.0h0M112.9 764.3h0M101.4 777.0h0M111.1 764.9h0M114.3 764.6h0M114.5 747.1h0M115.4 766.3h0M109.5 756.1h0M114.3 777.0h0M105.6 759.7h0M109.2 773.8h0M104.9 776.9h0M107.1 760.2h0M110.1 732.3h0M115.5 766.5h0M108.8 762.3h0M113.8 771.7h0M115.5 766.1h0M107.2 776.1h0M113.5 773.2h0M113.3 766.2h0M109.8 704.8h0M108.3 757.4h0M109.3 774.2h0M100.2 762.3h0M103.9 772.8h0M87.1 773.8h0M98.0 774.3h0M98.9 765.0h0M115.0 760.1h0M90.6 765.7h0M100.0 775.9h0M111.6 768.5h0M114.4 767.6h0M106.4 774.9h0M100.1 744.8h0M115.0 768.4h0M108.5 770.8h0M113.2 767.4h0M106.3 767.5h0M112.4 769.4h0M97.2 757.1h0M111.2 747.7h0M110.6 763.4h0M111.2 758.2h0M113.2 772.6h0M104.6 777.2h0M103.4 773.0h0M111.6 766.8h0M100.8 766.0h0M109.2 770.8h0M110.7 761.7h0M112.2 725.3h0M111.2 772.2h0M114.6 758.3h0M112.1 776.1h0M107.5 775.8h0M112.9 776.0h0M111.7 753.2h0M109.0 683.6h0M115.6 772.4h0M101.5 776.6h0M112.2 767.3h0M110.2 768.7h0M112.2 775.4h0M113.0 751.1h0M110.3 762.2h0M88.9 761.5h0M114.4 775.6h0M102.4 767.8h0M113.8 770.5h0M108.4 718.9h0M98.1 768.1h0M112.2 741.3h0M105.4 732.0h0M112.4 755.6h0M98.1 708.5h0M110.7 773.2h0M111.8 774.6h0M113.9 771.8h0M101.4 757.0h0M100.3 774.8h0M102.7 755.3h0M114.9 751.0h0M97.8 765.1h0M102.9 769.2h0M111.5 751.5h0M103.1 754.3h0M110.2 773.9h0M108.4 776.9h0M114.6 772.5h0M102.6 762.1h0M109.9 753.4h0M111.9 739.1h0M80.5 762.8h0M115.4 766.3h0M108.3 769.2h0M100.1 775.6h0M112.1 765.7h0M102.3 765.4h0M107.1 774.1h0M112.1 750.9h0M106.2 765.9h0M112.1 751.7h0M113.4 729.5h0M95.4 775.0h0M113.0 768.3h0M111.5 756.1h0M107.7 776.2h0M111.5 763.7h0M108.2 730.2h0M114.9 773.4h0M111.7 768.5h0M114.0 763.5h0M111.2 741.8h0M111.2 768.5h0M105.0 777.0h0M91.1 767.8h0M105.3 766.7h0M115.4 769.3h0M112.1 761.5h0M104.1 759.0h0M97.0 758.5h0M114.6 760.8h0M108.8 774.5h0M112.2 772.7h0M115.3 760.7h0M114.3 759.9h0M115.6 773.7h0M91.8 775.9h0M112.9 775.0h0M111.5 725.9h0M98.9 763.9h0M110.2 746.6h0M114.7 775.5h0M114.8 762.1h0M92.3 770.9h0M105.1 776.6h0M114.8 754.1h0M111.9 773.8h0M115.3 767.9h0M109.7 776.8h0M112.5 774.1h0M114.2 762.1h0M113.1 740.5h0M106.3 777.1h0M111.3 771.0h0M115.7 754.3h0M100.4 742.2h0M112.6 760.4h0M111.8 765.9h0M110.1 761.7h0M107.8 751.9h0M113.5 759.0h0M97.0 735.1h0M113.5 764.9h0M111.8 775.6h0M107.9 769.8h0M109.6 749.1h0M101.4 769.0h0M112.2 760.5h0M94.3 770.7h0M105.4 765.4h0M114.7 770.8h0M110.6 731.0h0M100.9 774.7h0M108.6 764.2h0M113.0 769.8h0M105.6 767.5h0M105.2 775.4h0M110.2 767.2h0M107.8 742.2h0M113.3 769.7h0M112.2 761.4h0M114.9 771.6h0M113.8 762.4h0M115.1 748.9h0M108.3 754.1h0M112.3 772.5h0M105.3 767.0h0M107.9 772.5h0M109.3 752.8h0M99.0 772.7h0M109.5 771.7h0M114.2 755.7h0M108.9 765.6h0M106.0 770.8h0M108.7 773.1h0M110.3 768.1h0M102.7 768.2h0M102.2 769.4h0M109.8 766.3h0M111.5 765.4h0M105.2 772.6h0M99.8 772.9h0M105.8 765.4h0M105.6 771.3h0M110.9 752.1h0M106.4 776.7h0M113.4 725.5h0M114.2 762.0h0M103.9 761.1h0M111.3 755.2h0M111.0 760.3h0M112.2 774.9h0M115.0 767.2h0M110.4 710.9h0M111.3 766.1h0M111.2 771.3h0M114.9 757.1h0M114.7 772.9h0M109.1 748.7h0M111.0 769.7h0M108.3 767.8h0M109.9 719.4h0M115.6 777.1h0M114.8 776.1h0M101.1 763.3h0M114.1 769.3h0M109.9 776.1h0M112.6 766.2h0M97.6 773.0h0M113.0 772.1h0M112.5 772.7h0M115.4 766.0h0M112.9 761.8h0M115.7 755.5h0M111.5 766.2h0M112.1 764.6h0M110.9 775.3h0M107.0 773.5h0M111.0 772.9h0M102.7 772.0h0M111.9 770.2h0M106.9 774.0h0M112.5 766.2h0M113.3 760.5h0M114.1 767.8h0M105.4 772.4h0M108.0 773.7h0M104.3 775.0h0M113.2 766.0h0M107.7 776.1h0M100.6 771.9h0M113.7 774.2h0M110.4 772.4h0M110.4 769.5h0M114.0 754.4h0M106.5 770.1h0M110.6 743.5h0M108.4 774.5h0M101.4 705.1h0M114.3 773.6h0M112.8 744.7h0M111.6 735.9h0M112.0 754.4h0M111.0 773.1h0M109.9 772.7h0M110.0 754.4h0M115.6 776.5h0M103.6 774.8h0M111.3 770.7h0M104.2 776.8h0M112.9 775.1h0M109.9 771.8h0M108.0 775.3h0M113.7 733.2h0M101.9 776.8h0M113.2 764.2h0M107.8 772.9h0M105.4 774.5h0M115.4 753.5h0M113.7 748.7h0M110.4 776.3h0M111.7 726.3h0M105.2 752.5h0M108.4 763.1h0M115.1 753.7h0M113.2 772.4h0M108.8 765.4h0M107.5 761.2h0M115.6 758.2h0M107.9 723.7h0M115.7 764.7h0M112.5 751.4h0M114.0 770.3h0M115.7 769.0h0M104.1 773.9h0M114.5 762.9h0M114.9 764.6h0M109.3 756.4h0M102.2 741.1h0M113.7 763.3h0M90.1 769.2h0M114.7 740.4h0M115.2 776.3h0M107.7 774.0h0M113.7 757.7h0M115.4 771.5h0M81.4 772.1h0M111.7 777.0h0M111.6 765.0h0M109.9 776.3h0M97.4 765.1h0M97.2 772.0h0M104.5 723.4h0M113.5 773.2h0M108.6 770.7h0M114.9 771.7h0M112.3 770.3h0M104.5 749.2h0M112.0 769.5h0M111.5 771.7h0M112.3 746.0h0M104.8 771.5h0M109.3 767.9h0M111.8 773.4h0M112.6 765.0h0M113.2 762.0h0M104.9 758.9h0M90.9 766.6h0M110.4 757.9h0M110.1 768.3h0M111.1 750.3h0M108.6 765.7h0M109.2 772.7h0M114.5 756.7h0M110.4 775.8h0M114.9 775.0h0M100.2 758.4h0M113.2 760.4h0M107.6 703.6h0M109.9 769.5h0M109.1 771.7h0M113.9 771.7h0M108.9 773.7h0M109.1 775.8h0M114.7 769.3h0M113.7 758.8h0M106.9 749.6h0M104.7 772.6h0M109.5 762.2h0M114.2 774.0h0M108.5 690.5h0M110.5 767.0h0M103.0 692.2h0M107.3 757.7h0M112.7 746.8h0M113.4 764.3h0M100.5 754.8h0M110.7 776.4h0M114.2 772.9h0M97.8 748.7h0M105.7 765.8h0M104.2 755.5h0M109.1 769.4h0M111.6 773.9h0M109.8 760.8h0M110.4 775.0h0M110.1 768.3h0M113.7 770.7h0M112.1 767.8h0M106.2 771.9h0M95.5 739.7h0M107.7 775.4h0M105.9 771.4h0M105.1 770.7h0M105.9 770.3h0M104.8 774.8h0M115.0 772.3h0M102.0 775.1h0M103.2 749.7h0M112.4 776.0h0M115.2 769.9h0M112.1 767.1h0M113.4 735.4h0M114.0 734.8h0M115.6 758.7h0M114.8 774.4h0M109.9 774.5h0M113.6 775.8h0M115.2 768.6h0M111.9 765.9h0M111.6 749.0h0M111.9 713.9h0M103.9 764.4h0M113.0 776.2h0M114.6 736.2h0M111.3 776.8h0M112.3 776.3h0M105.7 773.9h0M100.3 776.6h0M110.9 776.1h0M112.9 772.5h0M109.7 769.2h0M87.3 775.9h0M115.5 768.5h0M114.4 768.7h0M115.7 770.4h0M114.4 776.0h0M107.9 775.8h0M107.9 745.4h0M115.5 775.7h0M91.1 771.4h0M115.1 768.4h0M113.3 768.9h0M113.5 775.7h0M106.3 767.6h0M110.6 770.4h0M108.8 774.7h0M105.4 761.9h0M112.6 774.0h0M114.5 759.3h0M113.4 748.6h0M111.8 762.0h0M113.2 769.1h0M108.8 767.8h0M110.8 774.4h0M103.5 762.5h0M110.8 775.3h0M110.1 752.1h0M114.8 765.2h0M111.2 772.1h0M114.4 771.7h0M114.6 772.9h0M109.6 751.1h0M99.7 775.2h0M108.2 771.1h0M114.3 767.3h0M113.8 764.3h0M113.5 755.5h0M109.6 765.9h0M109.3 766.9h0M107.1 776.3h0M113.1 774.0h0M114.1 749.4h0M108.9 764.0h0M115.1 768.9h0M104.8 769.6h0M94.8 774.5h0M113.1 766.2h0M110.0 774.5h0M115.1 769.5h0M98.9 776.0h0M113.5 765.8h0M108.9 771.1h0M102.8 741.9h0M106.4 772.9h0M111.5 772.0h0M109.9 775.1h0M105.5 774.6h0M105.6 761.3h0M107.2 708.5h0M110.4 776.1h0M99.2 755.1h0M99.3 773.4h0M112.0 768.1h0M107.7 750.4h0M112.4 759.8h0M114.5 768.9h0M101.9 772.3h0M113.8 770.9h0M106.1 773.8h0M104.7 776.6h0M101.2 742.8h0M109.8 776.5h0M114.7 759.4h0M106.4 764.9h0M114.6 756.5h0M106.2 772.1h0M112.4 764.5h0M108.6 776.7h0M101.3 767.8h0M114.0 770.3h0M115.7 759.6h0M110.8 749.1h0M107.4 762.0h0M110.6 771.5h0M108.1 773.4h0M114.7 762.9h0M109.8 748.3h0M111.2 714.8h0M113.2 776.9h0M111.1 770.8h0M111.7 754.0h0M105.5 765.6h0M110.0 755.6h0M114.3 760.8h0M113.5 760.4h0M111.4 770.6h0M107.2 776.8h0M111.8 772.7h0M90.3 777.0h0M109.6 767.0h0M111.9 739.9h0M102.8 770.6h0M111.3 764.3h0M107.8 679.7h0M112.5 777.2h0M108.7 734.8h0M111.9 761.4h0M115.7 760.5h0M114.7 766.1h0M91.5 772.1h0M106.9 770.2h0M105.6 764.4h0M96.9 776.2h0M106.0 776.4h0M113.2 759.7h0M109.6 773.8h0M108.9 737.6h0M114.3 762.7h0M115.5 775.4h0M110.3 772.9h0M102.6 770.8h0M111.2 776.6h0M113.9 762.2h0M115.4 776.0h0M94.2 754.4h0M109.7 771.2h0M114.7 766.5h0M112.6 756.8h0M106.6 757.7h0M115.8 766.8h0M112.7 775.6h0M108.6 755.9h0M107.3 776.5h0M111.1 720.4h0M114.1 766.8h0M112.5 757.4h0M109.5 738.3h0M108.6 717.7h0M103.9 771.5h0M110.3 749.3h0M111.7 766.1h0M98.5 775.0h0M104.3 769.1h0M110.1 722.6h0M112.6 775.7h0M111.1 757.4h0M115.7 768.7h0M111.5 719.0h0M108.1 775.5h0M107.6 768.1h0M109.5 720.4h0M102.2 777.0h0M114.7 776.9h0M114.1 752.5h0M105.8 754.5h0M113.2 765.6h0M113.5 773.9h0M111.2 769.9h0M95.3 759.9h0M113.8 737.5h0M114.4 771.3h0M107.7 767.5h0M113.2 768.2h0M112.6 772.2h0M113.5 760.0h0M108.1 721.9h0M107.0 766.7h0M113.2 762.5h0M115.5 771.0h0M109.9 755.3h0M109.9 752.2h0M107.7 744.2h0M113.2 755.1h0M102.0 759.6h0M113.1 774.4h0M109.3 770.0h0M112.9 775.3h0M114.5 766.7h0M108.1 762.8h0M115.1 757.9h0M109.8 776.0h0M103.2 755.1h0M105.9 766.7h0M108.2 776.0h0M112.6 757.8h0M99.3 761.1h0M91.9 739.2h0M99.3 774.6h0M99.5 768.4h0M115.6 775.0h0M109.9 776.1h0M107.8 763.3h0M115.0 769.3h0M107.4 776.3h0M107.5 748.4h0M98.6 758.9h0M104.6 768.4h0M103.6 755.3h0M99.4 775.4h0M109.2 768.6h0M113.7 752.0h0M99.8 773.1h0M113.5 759.3h0M114.2 740.8h0M110.4 742.2h0M110.0 775.8h0M96.2 749.4h0M105.4 764.3h0M105.3 729.9h0M108.8 775.9h0M112.9 777.3h0M110.7 764.3h0M98.4 739.1h0M111.4 773.7h0M106.5 772.1h0M111.5 757.8h0M114.7 758.8h0M107.2 765.4h0M107.2 696.6h0M111.9 769.6h0M106.1 774.8h0M114.8 774.3h0M109.3 758.0h0M114.4 759.3h0M115.1 762.7h0M98.8 767.6h0M93.4 766.9h0M89.0 772.2h0M107.8 770.8h0M109.9 753.4h0M112.7 776.4h0M111.3 734.4h0M105.5 775.8h0M107.5 717.2h0M112.4 776.6h0M111.8 770.5h0M113.5 767.0h0M113.6 772.6h0M82.1 773.5h0M104.4 769.9h0M105.7 764.5h0M110.4 731.1h0M106.6 773.4h0M111.8 774.5h0M114.7 768.6h0M107.7 772.0h0M114.5 772.1h0M113.0 767.5h0M112.1 762.0h0M113.8 773.5h0M113.4 747.4h0M115.2 769.0h0M111.1 774.7h0M110.1 766.7h0M110.2 724.3h0M88.2 775.8h0M114.1 760.9h0M114.3 745.1h0M107.2 773.3h0M109.9 773.4h0M111.7 763.7h0M110.9 742.5h0M111.0 757.6h0M107.5 743.1h0M108.0 775.6h0M110.0 772.5h0M113.5 736.3h0M115.1 767.4h0M114.6 751.2h0M101.1 774.3h0M107.6 771.5h0M111.7 754.0h0M109.0 680.0h0M93.6 774.7h0M105.6 766.8h0M107.8 776.6h0M108.7 764.2h0M108.6 757.4h0M102.1 773.5h0M103.5 754.4h0M98.6 759.4h0M110.0 740.5h0M89.9 775.2h0M113.6 767.0h0M107.8 707.2h0M114.6 744.8h0M106.3 697.2h0M114.0 738.2h0M112.6 716.2h0M113.7 769.5h0M107.2 771.3h0M110.5 770.3h0M103.3 770.1h0M104.1 776.4h0M104.2 769.7h0M113.6 767.7h0M111.6 767.5h0M114.0 775.0h0M113.6 761.6h0M112.0 776.3h0M111.1 775.3h0M100.7 771.4h0M114.2 772.2h0M114.3 770.1h0M108.6 703.2h0M102.1 776.4h0M108.9 724.8h0M109.3 766.9h0M114.5 775.9h0M105.0 756.3h0M106.3 770.8h0M110.5 771.0h0M111.3 760.3h0M109.4 773.0h0M106.2 763.4h0M84.8 773.5h0M95.4 757.5h0M110.6 767.9h0M115.2 763.8h0M107.7 773.8h0M103.1 771.5h0M107.5 751.3h0M113.2 746.6h0M99.2 764.9h0M115.0 769.9h0M107.8 709.0h0M112.7 742.8h0M103.4 764.6h0M113.5 776.1h0M111.2 760.0h0M114.7 770.0h0M112.9 769.8h0M112.1 776.9h0M111.3 728.8h0M103.9 726.9h0M108.3 730.5h0M114.2 738.9h0M112.7 757.6h0M113.4 762.6h0M114.3 752.7h0M110.3 776.7h0M92.9 768.8h0M108.9 751.8h0M114.1 773.8h0M101.9 771.5h0M108.0 777.1h0M112.8 735.1h0M110.8 730.5h0M106.2 772.2h0M111.0 775.4h0M109.2 777.2h0M115.1 774.2h0M106.3 775.9h0M115.5 774.4h0M105.8 692.0h0M109.2 702.8h0M115.6 776.3h0M110.0 767.6h0M102.3 759.0h0M105.8 774.4h0M113.9 773.9h0M109.7 766.7h0M97.8 777.2h0M109.8 773.5h0M115.7 762.5h0M114.6 768.7h0M111.9 769.2h0M107.5 769.8h0M113.2 722.4h0M114.1 772.0h0M110.5 716.9h0M98.6 771.4h0M113.2 745.2h0M108.6 768.2h0M105.1 776.7h0M113.3 738.9h0M109.3 771.4h0M112.0 755.7h0M113.8 767.1h0M112.4 770.0h0M110.7 774.3h0M104.3 754.9h0M95.7 769.3h0M112.0 776.5h0M106.1 708.3h0M110.3 682.4h0M115.3 768.9h0M109.7 762.3h0M110.6 776.7h0M112.8 770.2h0M111.7 768.3h0M97.7 730.2h0M103.8 748.7h0M115.1 777.3h0M115.6 768.5h0M114.7 758.4h0M103.2 746.0h0M112.3 776.2h0M114.2 729.2h0M95.9 769.0h0M113.7 744.8h0M113.0 766.9h0M102.5 771.1h0M108.9 776.3h0M112.5 769.3h0M113.0 774.1h0M112.5 771.8h0M111.6 776.9h0M113.8 768.9h0M105.9 777.3h0M106.7 775.9h0M108.7 767.0h0M95.8 773.2h0M110.7 771.5h0M112.5 773.5h0M106.6 774.3h0M108.6 766.8h0M113.3 772.2h0M108.0 772.7h0M113.5 771.6h0M110.7 773.8h0M104.2 775.2h0M115.4 772.7h0M91.1 730.0h0M113.7 770.3h0M99.9 774.4h0M110.2 770.7h0M113.2 733.9h0M105.7 765.2h0M109.9 775.6h0M109.1 765.1h0M112.4 758.0h0M107.9 773.3h0M103.3 753.1h0M104.7 770.7h0M114.5 751.6h0M105.7 756.6h0M109.2 773.4h0M115.0 776.6h0M96.3 766.6h0M111.7 774.3h0M105.6 772.3h0M109.5 774.4h0M106.4 763.8h0M88.9 766.3h0M108.8 775.4h0M113.1 761.7h0M112.4 758.9h0M110.0 727.2h0M106.1 737.2h0M109.2 767.5h0M108.9 714.0h0M111.5 775.2h0M108.4 775.4h0M105.6 775.3h0M111.0 771.6h0M109.2 756.0h0M100.7 776.8h0M115.6 776.9h0M112.6 768.0h0M114.6 769.8h0M96.4 772.1h0M111.8 776.1h0M113.3 751.5h0M113.4 749.1h0M114.1 777.0h0M109.3 717.8h0M91.5 777.2h0M114.6 771.5h0M113.9 773.7h0M110.3 771.5h0M113.3 755.1h0M111.4 742.2h0M107.4 677.5h0M111.6 777.1h0M114.3 756.8h0M102.5 760.2h0M115.5 761.1h0M112.5 761.3h0M101.7 772.9h0M113.9 755.8h0M114.9 772.4h0M111.9 743.5h0M111.6 771.2h0M110.1 775.3h0M111.9 768.2h0M113.6 777.1h0M112.2 770.9h0M108.8 761.0h0M108.9 765.4h0M99.9 691.1h0M101.8 732.5h0M108.8 776.1h0M107.1 769.0h0M112.7 761.7h0M111.5 761.2h0M108.0 765.2h0M113.1 768.3h0M112.8 762.8h0M112.9 740.3h0M114.8 768.4h0M106.5 776.7h0M105.7 777.3h0M107.2 739.6h0M114.0 748.8h0M107.3 774.9h0M107.8 769.1h0M114.7 767.1h0M108.4 760.9h0M103.0 758.7h0M107.5 767.3h0M112.1 769.2h0M107.3 773.9h0M110.5 758.8h0M111.5 771.1h0M113.2 761.7h0M112.0 777.2h0M114.4 750.7h0M109.2 775.2h0M107.6 776.6h0M110.4 772.5h0M114.4 774.3h0M115.2 745.7h0M98.1 774.7h0M112.3 763.3h0M111.6 744.7h0M96.5 776.5h0M109.5 768.8h0M109.6 775.4h0M110.6 776.8h0M110.5 770.5h0M113.7 731.4h0M104.3 736.0h0M114.6 766.6h0M103.5 751.1h0M110.2 771.3h0M114.9 773.8h0M107.9 743.9h0M114.1 771.2h0M105.5 755.6h0M113.2 741.4h0M101.8 757.7h0M111.7 746.7h0M99.6 760.0h0M106.6 771.0h0M112.2 747.3h0M113.4 769.9h0M114.3 743.0h0M99.3 770.1h0M113.3 773.8h0M108.6 768.9h0M103.5 768.7h0M103.1 775.9h0M105.6 765.0h0M110.2 773.9h0M113.3 728.0h0M106.9 776.1h0M107.2 771.2h0M107.1 762.7h0M103.3 771.9h0M105.0 712.9h0M113.5 777.2h0M115.2 759.6h0M114.0 760.6h0M112.7 741.8h0M110.1 769.5h0M114.5 768.7h0M108.3 744.1h0M103.5 768.6h0M114.0 757.1h0M91.1 767.7h0M104.8 764.0h0M108.9 758.1h0M111.6 770.8h0M114.3 777.3h0M105.7 774.2h0M105.4 775.1h0M114.0 766.2h0M111.3 774.8h0M112.6 775.3h0M115.1 776.1h0M99.2 763.2h0M114.3 775.3h0M113.3 768.5h0M105.4 733.3h0M107.3 771.0h0M106.5 770.1h0M83.4 769.5h0M113.8 746.9h0M106.7 737.9h0M109.7 765.1h0M103.8 685.8h0M108.6 727.6h0M107.5 775.7h0M108.8 777.2h0M111.6 746.6h0M84.8 776.4h0M112.9 774.2h0M113.2 774.5h0M106.2 776.6h0M105.1 752.6h0M112.8 738.7h0M105.1 774.4h0M103.7 763.0h0M98.5 774.1h0M109.9 776.6h0M112.2 772.0h0M111.8 752.0h0M111.9 775.2h0M98.6 716.3h0M108.8 762.4h0M114.6 776.2h0M111.9 761.0h0M114.4 750.0h0M113.4 776.2h0M114.2 768.0h0M113.9 772.6h0M104.5 763.7h0M114.0 766.7h0M110.1 773.9h0M110.4 766.1h0M101.8 760.1h0M106.4 760.7h0M113.9 740.1h0M112.0 768.4h0M107.5 758.7h0M113.4 777.2h0M104.2 696.0h0M102.0 771.6h0M107.6 746.5h0M113.5 758.0h0M111.7 772.5h0M115.0 760.1h0M108.7 760.7h0M114.0 771.2h0M113.2 766.4h0M102.7 756.6h0M115.5 772.7h0M106.2 773.8h0M100.4 773.4h0M110.3 774.9h0M84.6 756.1h0M112.5 762.2h0M96.6 757.6h0M98.8 777.1h0M113.9 768.4h0M114.7 767.0h0M115.6 763.4h0M90.3 774.2h0M115.4 777.2h0M108.4 767.2h0M106.4 734.8h0M99.3 748.5h0M110.1 770.7h0M110.2 765.8h0M105.9 762.3h0M109.6 770.1h0M114.7 769.8h0M80.2 773.7h0M112.9 744.8h0M112.2 768.6h0M101.6 776.0h0M97.7 774.2h0M114.0 769.1h0M113.9 753.5h0M114.3 765.0h0M114.8 761.2h0M112.8 770.9h0M114.3 768.8h0M111.2 766.9h0M110.7 770.9h0M105.2 760.9h0M100.1 766.3h0M112.6 773.5h0M106.5 761.8h0M110.7 776.1h0M112.6 745.8h0M112.5 764.2h0M102.6 768.8h0M111.2 776.7h0M83.8 774.7h0M113.6 772.0h0M101.5 775.5h0M110.4 771.8h0M112.9 774.6h0M93.2 774.4h0M111.8 775.2h0M113.9 763.4h0M105.4 776.7h0M110.8 712.4h0M107.7 754.6h0M111.2 699.0h0M114.2 759.1h0M111.9 772.7h0M105.3 771.4h0M110.1 771.2h0M113.9 774.7h0M110.5 763.8h0M110.4 776.6h0M98.6 770.6h0M102.1 765.6h0M108.4 744.6h0M113.0 764.0h0M115.4 772.8h0M110.3 747.0h0M110.4 768.8h0M109.5 746.5h0M107.6 773.6h0M104.0 775.8h0M111.7 763.4h0M112.6 759.8h0M115.1 763.4h0M113.2 771.5h0M112.9 775.0h0M112.1 758.0h0M113.2 776.9h0M110.2 776.9h0M107.0 758.5h0M98.3 774.0h0M113.1 772.2h0M113.9 765.6h0M113.0 770.3h0M111.3 770.5h0M110.6 766.4h0M105.9 775.2h0M109.5 774.0h0M95.6 774.1h0M98.0 775.9h0M111.6 771.0h0M111.2 771.4h0M109.7 776.6h0M111.4 698.5h0M114.2 770.4h0M114.8 773.6h0M113.4 762.8h0M109.5 768.9h0M113.1 756.2h0M105.2 762.7h0M108.9 721.2h0M115.3 774.5h0M111.8 762.8h0M105.5 768.5h0M112.5 767.3h0M108.8 761.0h0M114.3 776.2h0M114.2 775.2h0M112.1 775.4h0M115.6 744.0h0M110.5 761.3h0M107.9 770.0h0M110.3 722.1h0M107.6 721.0h0M115.4 773.8h0M108.9 727.5h0M113.3 772.6h0M112.6 772.4h0M102.1 771.0h0M109.2 776.1h0M114.0 774.2h0M113.2 760.2h0M85.9 762.3h0M110.2 757.6h0M114.1 774.9h0M114.0 754.1h0M113.5 764.7h0M112.9 775.0h0M107.9 770.9h0M110.2 772.2h0M115.0 768.4h0M105.6 771.2h0M113.3 727.1h0M113.7 744.6h0M112.6 775.6h0M110.2 746.0h0M112.3 767.2h0M115.1 745.7h0M112.8 775.8h0M96.5 770.4h0M110.4 774.6h0M99.6 773.1h0M112.3 768.7h0M108.4 762.0h0M111.1 775.5h0M105.8 774.0h0M111.5 760.3h0M106.2 772.2h0M107.9 750.2h0M112.0 762.1h0M115.2 768.6h0M96.7 750.5h0M105.6 775.2h0M112.9 775.8h0M115.3 773.0h0M113.5 772.8h0M107.5 724.3h0M112.3 775.0h0M111.1 772.4h0M94.0 776.9h0M110.0 765.3h0M106.4 770.8h0M114.2 762.1h0M115.2 768.7h0M106.0 775.0h0M114.4 768.7h0M113.8 756.9h0M79.5 772.3h0M111.0 766.2h0M107.3 692.1h0M110.8 758.1h0M114.2 772.9h0M104.7 760.4h0M115.3 755.4h0M111.7 754.9h0M104.1 772.1h0M101.5 772.4h0M111.5 776.2h0M106.2 757.2h0M103.8 740.4h0M112.6 772.4h0M106.4 718.4h0M112.7 754.6h0M115.1 763.1h0M111.7 776.0h0M113.9 774.4h0M111.6 775.2h0M112.6 770.1h0M114.2 762.4h0M111.4 765.4h0M114.4 758.9h0M113.9 768.7h0M110.7 769.0h0M113.9 767.8h0M111.1 769.9h0M112.8 728.1h0M111.5 771.4h0M99.0 759.2h0M111.9 771.4h0M114.0 761.9h0M109.3 776.9h0M107.3 765.4h0M113.3 770.3h0M112.9 776.4h0M113.7 758.4h0M111.6 733.9h0M109.6 776.1h0M113.5 774.3h0M115.6 760.2h0M106.1 748.5h0M110.1 774.2h0M102.9 770.6h0M96.4 775.9h0M107.8 776.8h0M106.7 701.3h0M112.5 754.1h0M115.2 771.5h0M107.1 774.5h0M113.1 761.7h0M102.8 772.6h0M106.6 743.6h0M99.8 777.1h0M112.7 775.4h0M106.7 777.0h0M112.5 750.4h0M101.7 710.7h0M110.6 759.5h0M115.5 769.1h0M112.2 766.6h0M108.6 773.2h0M114.7 767.6h0M107.7 772.2h0M106.2 769.1h0M111.0 767.4h0M115.5 748.7h0M110.3 754.9h0M104.5 760.6h0M107.3 757.6h0M106.1 768.2h0M112.7 766.7h0M111.6 767.6h0M102.0 746.4h0M104.1 775.6h0M110.5 773.3h0M113.5 742.9h0M94.5 758.6h0M112.3 767.7h0M101.7 672.8h0M110.5 773.3h0M114.2 776.7h0M106.7 771.0h0M105.7 674.3h0M113.9 756.0h0M109.9 773.3h0M114.0 752.1h0M108.9 765.7h0M110.7 767.4h0M110.2 764.0h0M112.0 755.4h0M112.9 776.0h0M110.3 740.8h0M101.9 776.1h0M111.2 769.8h0M110.0 700.9h0M105.1 765.3h0M87.8 759.4h0M111.4 760.8h0M111.4 766.4h0M115.5 775.3h0M111.9 774.0h0M112.2 743.9h0M114.8 775.0h0M108.2 729.7h0M107.4 773.3h0M111.2 776.3h0M111.3 751.4h0M109.3 774.6h0M95.5 758.1h0M104.8 771.3h0M113.2 775.3h0M113.8 773.1h0M112.2 727.5h0M114.7 774.9h0M113.1 771.3h0M105.9 767.1h0M112.8 745.7h0M108.2 775.8h0M99.9 743.6h0M111.6 718.9h0M113.3 764.8h0M113.7 742.3h0M113.1 737.1h0M96.0 774.2h0M110.3 773.7h0M87.4 770.7h0M81.5 776.2h0M106.9 777.2h0M97.2 776.6h0M113.0 774.0h0M103.2 776.3h0M105.0 776.1h0M81.7 772.0h0M104.9 775.3h0M89.1 775.4h0M101.5 777.2h0M82.7 767.6h0M101.2 771.6h0M99.1 777.2h0M95.3 777.0h0M76.4 776.4h0M101.1 777.0h0M78.7 775.3h0M98.3 773.2h0M103.4 773.7h0M112.1 776.9h0M96.1 776.2h0M99.7 774.3h0M114.7 774.0h0M111.6 773.3h0M113.7 776.2h0M83.7 777.2h0M102.3 774.2h0M81.1 776.6h0M81.3 770.4h0M83.5 776.1h0M79.6 774.2h0M83.1 775.0h0M105.6 775.8h0M113.4 777.0h0M101.3 775.8h0M115.5 774.4h0M108.0 775.6h0M96.9 767.8h0M99.9 777.0h0M85.6 774.7h0M81.0 776.6h0M92.0 774.3h0M82.4 775.7h0M115.3 769.6h0M116.1 775.5h0M92.3 775.5h0M114.6 764.9h0M106.5 774.3h0M104.2 775.2h0M103.2 774.8h0M91.8 773.6h0M104.6 770.6h0M92.3 775.6h0M105.9 771.0h0M115.8 771.6h0M80.4 773.4h0M96.6 775.8h0M103.3 774.7h0M103.9 776.7h0M109.1 776.8h0M98.4 773.1h0M87.9 775.9h0M113.1 774.5h0M100.9 777.1h0M114.6 771.9h0M107.1 768.8h0M102.6 775.1h0M87.1 777.3h0M110.0 774.9h0M76.6 771.8h0M99.8 772.9h0M104.0 775.3h0M94.5 776.3h0M78.5 769.0h0M85.0 762.3h0M91.9 764.8h0M112.9 777.1h0M93.4 776.0h0M105.6 777.1h0M104.8 772.2h0M100.1 775.6h0M106.4 777.3h0M108.2 775.2h0M81.0 775.7h0M99.4 777.1h0M95.5 774.2h0M92.3 775.1h0M115.2 773.6h0M89.2 770.4h0M112.7 776.9h0M99.3 774.0h0M115.3 770.7h0M84.2 761.9h0M93.3 768.5h0M108.4 775.6h0M111.3 775.3h0M110.9 773.9h0M104.2 775.3h0M82.4 776.2h0M106.8 775.7h0M96.2 775.9h0M81.0 774.7h0M91.8 775.0h0M88.2 776.7h0M103.8 773.1h0M88.7 777.1h0M102.2 775.7h0M98.6 776.7h0M80.8 775.3h0M112.5 776.2h0M80.2 772.8h0M102.7 769.6h0M112.9 774.0h0M92.6 776.3h0M88.3 776.3h0M110.5 773.6h0M107.0 773.7h0M88.8 771.5h0M82.3 776.1h0M80.9 776.0h0M108.7 769.6h0M115.3 775.0h0M91.9 777.0h0M82.2 769.4h0M99.5 766.7h0M99.7 775.6h0M97.3 777.0h0M100.9 771.5h0M78.2 774.2h0M92.6 776.0h0M84.5 774.3h0M107.4 777.1h0M84.1 773.4h0M87.0 775.5h0M89.8 775.5h0M111.6 773.8h0M101.6 777.3h0M109.5 773.6h0M88.6 777.2h0M85.5 775.9h0M103.3 765.3h0M114.2 766.6h0M107.1 776.3h0M91.8 775.2h0M104.8 776.6h0M104.7 775.1h0M107.0 769.1h0M89.0 636.5h0M95.0 640.5h0M78.8 665.5h0M94.8 671.5h0M104.4 670.5h0M101.5 683.0h0M61.5 723.5h0M84.5 737.0h0M81.6 742.5h0M88.4 751.0h0M68.5 757.0h0M63.5 760.5h0" stroke="#00BA38" stroke-width="1.8" stroke-linecap="round" fill="none"/>
<path d="M132.7 765.6h0M133.1 774.1h0M132.1 773.7h0M133.9 775.4h0M130.9 759.8h0M132.7 773.5h0M132.8 770.3h0M135.7 776.8h0M136.6 775.9h0M132.6 776.1h0M131.8 740.2h0M136.2 769.0h0M137.8 696.8h0M132.0 757.6h0M132.0 775.7h0M131.9 772.8h0M134.9 728.0h0M138.9 765.3h0M131.2 755.3h0M142.3 764.8h0M134.8 769.2h0M135.4 777.2h0M136.2 773.0h0M136.3 775.5h0M134.0 774.9h0M138.9 775.7h0M136.2 776.6h0M131.1 773.4h0M134.1 774.0h0M134.1 777.1h0M133.3 774.6h0M135.1 772.7h0M134.7 772.0h0M136.6 763.6h0M133.2 774.1h0M131.6 771.9h0M135.5 754.0h0M138.5 775.8h0M144.3 776.1h0M145.7 760.6h0M133.8 777.1h0M136.0 772.7h0M136.3 771.6h0M134.0 774.6h0M131.3 770.3h0M134.7 772.9h0M131.3 762.5h0M135.3 773.5h0M139.6 775.6h0M141.9 771.7h0M137.1 755.7h0M133.3 775.3h0M133.3 775.0h0M136.6 757.7h0M131.2 776.8h0M131.1 771.5h0M137.9 774.3h0M138.2 774.3h0M131.5 776.8h0M133.8 767.7h0M137.7 773.4h0M136.0 769.5h0M136.0 765.8h0M137.8 777.2h0M136.3 777.1h0M135.6 769.8h0M136.3 769.6h0M131.4 776.1h0M135.1 776.9h0M136.4 774.5h0M134.9 775.4h0M134.0 764.4h0M136.9 776.8h0M131.1 762.8h0M133.0 771.9h0M131.2 758.3h0M135.9 721.7h0M135.6 776.9h0M131.2 756.2h0M131.9 768.3h0M138.0 772.6h0M132.2 774.7h0M132.4 775.8h0M138.2 772.6h0M132.0 751.1h0M133.4 766.9h0M133.6 776.9h0M139.4 775.0h0M134.4 775.1h0M133.5 773.6h0M133.5 771.0h0M133.0 767.5h0M134.5 771.3h0M141.6 765.5h0M137.7 711.9h0M132.2 760.9h0M134.1 776.2h0M138.4 769.2h0M131.3 746.9h0M132.2 763.3h0M133.4 776.0h0M136.4 773.9h0M134.8 774.9h0M134.8 769.0h0M136.4 776.9h0M132.1 769.0h0M138.0 754.2h0M134.0 753.9h0M132.8 756.5h0M133.6 774.3h0M135.0 776.4h0M132.8 776.3h0M132.6 771.8h0M133.6 751.0h0M139.0 773.6h0M131.5 774.3h0M136.7 777.2h0M133.1 727.4h0M135.3 775.3h0M133.8 775.3h0M132.7 774.1h0M136.0 773.9h0M132.5 766.9h0M137.0 776.9h0M135.4 765.7h0M143.5 775.9h0M134.4 748.0h0M133.8 776.1h0M133.9 776.0h0M131.5 771.4h0M139.1 772.8h0M137.9 772.7h0M133.4 761.4h0M134.4 776.7h0M135.1 776.8h0M134.0 773.3h0M134.5 771.4h0M133.5 761.5h0M132.7 763.2h0M133.6 754.1h0M134.3 773.2h0M132.9 767.7h0M132.0 775.8h0M135.4 770.4h0M134.2 757.3h0M131.8 741.3h0M139.6 774.7h0M149.7 768.3h0M131.5 774.1h0M132.9 734.4h0M133.5 759.0h0M134.1 775.5h0M134.0 776.7h0M131.7 776.0h0M134.8 774.9h0M134.4 741.1h0M132.1 777.3h0M133.6 770.6h0M136.4 770.9h0M133.7 777.3h0M149.6 772.2h0M132.5 776.8h0M135.0 775.8h0M133.1 772.4h0M132.7 775.4h0M133.1 776.0h0M140.6 773.4h0M131.8 773.3h0M131.0 770.3h0M140.9 772.1h0M137.2 777.2h0M134.6 759.0h0M141.2 775.1h0M131.0 773.8h0M134.3 770.0h0M133.6 777.1h0M133.4 773.3h0M139.2 773.6h0M137.5 772.4h0M135.6 775.5h0M132.9 777.0h0M134.0 768.6h0M133.1 766.0h0M131.8 773.7h0M132.1 759.3h0M132.0 765.5h0M134.3 769.9h0M137.2 771.5h0M132.0 774.0h0M141.7 774.9h0M134.7 759.1h0M142.2 775.9h0M134.3 767.0h0M133.8 773.2h0M136.4 766.4h0M133.2 745.4h0M132.3 767.7h0M130.8 775.9h0M134.5 776.7h0M131.5 767.0h0M139.1 774.1h0M134.7 771.3h0M130.9 775.5h0M136.8 772.0h0M132.2 771.5h0M138.4 776.5h0M144.2 768.4h0M131.9 767.1h0M131.2 754.4h0M133.7 735.2h0M131.2 776.0h0M146.4 772.8h0M131.7 736.5h0M131.7 775.2h0M130.9 762.1h0M144.3 772.7h0M132.4 769.0h0M138.6 725.6h0M137.7 772.5h0M137.9 776.0h0M131.1 767.8h0M132.5 772.4h0M134.2 776.0h0M136.7 777.3h0M132.1 771.2h0M138.0 775.7h0M134.7 759.1h0M142.5 774.0h0M134.7 773.0h0M133.6 773.7h0M132.8 771.0h0M132.0 746.0h0M132.6 772.1h0M132.3 772.6h0M131.6 768.0h0M133.9 773.2h0M135.8 773.3h0M131.5 769.1h0M131.8 773.2h0M136.3 754.0h0M132.5 777.0h0M133.3 763.9h0M134.6 776.9h0M135.4 774.7h0M133.9 765.7h0M135.5 773.0h0M133.7 767.2h0M141.5 708.7h0M132.1 774.5h0M142.6 775.9h0M147.9 775.2h0M135.0 777.1h0M135.5 765.2h0M138.6 763.1h0M131.0 770.8h0M136.8 776.7h0M132.9 776.5h0M132.0 760.6h0M137.1 771.4h0M135.2 767.9h0M139.7 763.1h0M131.8 771.9h0M132.5 769.7h0M139.1 775.7h0M131.0 758.4h0M147.8 776.0h0M131.8 777.0h0M133.5 771.6h0M132.7 775.9h0M130.9 776.2h0M132.1 763.9h0M132.4 776.1h0M135.0 764.4h0M138.3 770.0h0M131.6 768.3h0M131.9 764.3h0M133.1 776.4h0M135.8 759.0h0M132.6 775.6h0M134.2 767.8h0M134.1 775.6h0M137.8 763.0h0M134.2 775.7h0M142.8 773.9h0M136.9 769.6h0M132.1 774.8h0M132.2 761.5h0M137.2 728.2h0M132.9 762.0h0M133.5 768.0h0M133.9 721.3h0M131.7 777.0h0M132.6 776.6h0M136.1 757.1h0M136.2 776.0h0M133.9 776.6h0M137.1 774.0h0M142.8 755.6h0M142.7 776.9h0M133.9 774.0h0M135.7 713.6h0M135.1 765.2h0M149.2 776.6h0M134.9 755.3h0M132.3 769.1h0M137.5 745.5h0M132.2 770.1h0M131.1 752.5h0M133.2 776.7h0M134.7 769.6h0M134.6 774.0h0M132.9 744.5h0M132.5 774.2h0M133.5 771.9h0M132.1 746.1h0M136.4 774.3h0M138.8 773.9h0M134.5 770.8h0M137.1 774.6h0M135.1 775.3h0M136.8 744.0h0M133.1 769.3h0M133.6 755.2h0M135.0 761.2h0M134.2 777.2h0M137.2 776.9h0M132.1 772.0h0M131.4 756.4h0M133.6 773.8h0M141.2 728.3h0M144.2 766.9h0M144.2 775.1h0M134.1 775.5h0M133.4 775.8h0M133.2 764.8h0M134.1 774.4h0M135.1 718.4h0M134.6 743.4h0M136.7 762.3h0M135.1 751.7h0M131.3 769.4h0M131.4 765.5h0M134.7 768.2h0M135.1 763.2h0M135.3 767.9h0M133.6 764.0h0M132.6 753.0h0M134.9 771.5h0M135.5 776.3h0M133.6 733.3h0M131.6 761.4h0M131.7 763.7h0M140.1 774.3h0M133.3 755.6h0M132.0 776.2h0M132.1 764.3h0M133.2 773.1h0M134.8 744.8h0M137.5 770.2h0M134.4 759.1h0M134.1 774.3h0M138.3 773.1h0M136.4 776.1h0M132.4 751.0h0M132.3 776.3h0M139.1 777.0h0M135.6 758.6h0M132.1 769.8h0M138.9 775.5h0M136.2 769.9h0M133.4 746.7h0M132.5 756.5h0M131.6 773.4h0M132.5 767.0h0M135.6 776.5h0M131.2 769.8h0M138.0 738.2h0M132.3 761.9h0M131.7 773.4h0M133.2 767.8h0M140.6 768.4h0M132.8 775.7h0M131.2 760.6h0M132.5 773.0h0M133.6 766.2h0M148.0 774.5h0M131.0 774.3h0M133.3 748.9h0M131.6 774.5h0M133.8 776.6h0M137.7 773.6h0M135.9 761.8h0M141.4 774.2h0M131.8 773.1h0M132.1 769.5h0M159.8 767.8h0M131.0 768.7h0M133.8 775.9h0M139.4 770.6h0M136.9 755.6h0M133.5 776.4h0M132.4 749.7h0M133.0 771.5h0M134.9 769.2h0M131.5 747.4h0M132.3 763.7h0M133.1 771.4h0M132.7 762.3h0M134.7 754.9h0M135.5 773.7h0M133.5 775.2h0M131.6 771.2h0M133.9 771.9h0M131.3 772.5h0M132.2 750.1h0M132.9 752.6h0M140.6 766.4h0M133.1 747.5h0M132.7 771.5h0M135.7 769.0h0M130.9 745.1h0M133.1 766.9h0M133.3 775.1h0M132.2 776.7h0M134.8 765.4h0M133.5 772.8h0M133.0 777.0h0M131.4 770.6h0M134.7 765.6h0M131.6 742.0h0M134.5 764.3h0M131.8 764.9h0M132.9 771.8h0M135.0 776.9h0M132.2 776.9h0M131.1 775.1h0M132.6 776.5h0M132.3 764.1h0M130.9 763.8h0M139.4 750.8h0M133.8 774.0h0M139.5 771.2h0M135.8 763.1h0M142.4 776.8h0M132.1 776.3h0M133.9 754.1h0M133.3 771.2h0M131.8 751.6h0M132.3 774.8h0M132.2 754.5h0M131.5 773.8h0M133.7 768.9h0M135.0 776.0h0M135.7 773.8h0M133.8 758.8h0M131.6 751.4h0M136.0 776.3h0M133.6 774.1h0M131.7 769.5h0M137.3 767.3h0M135.3 768.4h0M138.8 703.4h0M132.8 770.4h0M134.4 777.0h0M135.5 767.8h0M133.8 776.0h0M137.3 768.6h0M133.8 764.7h0M132.8 771.3h0M135.9 775.4h0M135.7 767.8h0M133.9 771.0h0M132.1 770.0h0M148.1 769.3h0M134.1 775.4h0M132.9 777.1h0M132.1 768.6h0M145.0 773.4h0M132.6 773.4h0M134.5 770.3h0M133.6 776.0h0M131.1 776.1h0M147.9 774.0h0M135.4 732.1h0M143.3 776.6h0M133.5 775.7h0M134.9 770.7h0M137.2 744.4h0M135.9 771.2h0M137.7 772.0h0M131.5 755.8h0M133.4 738.1h0M134.2 776.8h0M132.1 743.5h0M136.0 776.3h0M131.2 767.4h0M135.3 767.4h0M134.1 772.0h0M134.9 756.3h0M134.5 768.3h0M143.1 768.6h0M132.3 772.7h0M135.3 762.7h0M132.7 765.3h0M131.6 771.9h0M132.3 768.5h0M135.5 766.1h0M131.1 768.3h0M132.8 774.6h0M135.6 772.7h0M132.2 764.9h0M131.2 775.9h0M133.4 776.3h0M134.7 768.8h0M132.2 776.8h0M133.7 764.4h0M145.7 748.8h0M131.6 761.4h0M132.2 768.9h0M131.8 765.0h0M134.5 772.4h0M136.3 776.9h0M131.7 744.5h0M138.7 760.9h0M134.7 776.8h0M132.0 776.8h0M134.2 732.4h0M131.5 749.9h0M132.7 775.0h0M137.1 774.4h0M135.2 770.3h0M134.1 754.3h0M131.8 771.6h0M135.7 742.5h0M134.0 777.3h0M134.3 762.4h0M134.8 772.6h0M137.3 756.2h0M134.1 773.6h0M131.1 773.8h0M131.6 772.1h0M134.5 771.1h0M137.0 770.7h0M136.7 756.7h0M137.9 766.9h0M140.9 770.6h0M131.0 770.2h0M139.8 772.5h0M140.1 767.7h0M133.0 769.1h0M141.1 773.6h0M137.8 772.9h0M132.7 775.9h0M131.3 776.9h0M140.8 776.4h0M133.6 772.6h0M138.1 772.0h0M132.4 770.9h0M133.3 776.3h0M132.6 766.3h0M134.3 771.3h0M135.6 762.8h0M132.7 760.2h0M134.0 774.4h0M132.7 753.3h0M136.1 776.1h0M134.8 715.6h0M136.3 744.5h0M133.3 765.4h0M131.9 736.6h0M132.4 766.9h0M130.9 772.5h0M131.9 756.0h0M132.8 776.4h0M135.1 777.2h0M133.2 762.8h0M132.5 771.1h0M133.8 751.2h0M132.3 762.5h0M131.3 773.8h0M131.3 775.3h0M139.2 772.3h0M132.7 776.2h0M134.5 765.0h0M132.7 739.7h0M135.0 764.0h0M137.8 772.3h0M131.8 776.4h0M135.5 776.1h0M132.8 772.0h0M132.4 776.4h0M131.6 775.4h0M133.0 765.7h0M135.4 775.3h0M134.1 761.4h0M139.9 776.1h0M131.1 775.1h0M131.3 775.6h0M131.2 763.4h0M134.1 764.4h0M132.8 774.6h0M134.1 760.2h0M139.0 743.0h0M136.5 777.0h0M139.5 774.0h0M136.2 776.3h0M133.4 768.5h0M139.8 760.8h0M132.7 776.1h0M135.8 775.6h0M133.5 774.9h0M132.5 775.9h0M134.1 775.0h0M133.0 771.4h0M132.6 763.8h0M132.4 775.7h0M131.6 769.7h0M132.0 761.7h0M132.7 771.8h0M132.4 764.4h0M132.7 763.7h0M132.0 776.7h0M134.7 768.2h0M131.6 768.2h0M132.3 730.9h0M132.9 759.8h0M131.6 774.7h0M135.4 751.6h0M132.0 744.6h0M131.7 762.5h0M140.2 775.1h0M132.0 766.7h0M133.2 770.0h0M132.6 739.4h0M131.1 770.4h0M132.1 772.5h0M132.1 767.5h0M133.4 768.8h0M135.3 765.8h0M137.4 775.0h0M131.3 770.5h0M132.8 776.8h0M135.4 750.4h0M134.0 764.2h0M131.2 775.7h0M133.0 770.7h0M132.4 768.7h0M131.3 766.1h0M141.4 777.0h0M136.3 774.7h0M131.4 775.3h0M138.3 776.0h0M134.3 753.1h0M131.9 774.1h0M132.6 775.3h0M135.9 758.8h0M139.7 776.7h0M135.4 776.9h0M135.5 760.4h0M131.3 774.2h0M137.0 775.1h0M138.5 774.9h0M132.0 774.0h0M134.0 772.9h0M131.4 773.4h0M137.8 748.1h0M146.4 775.4h0M140.4 747.5h0M135.0 771.8h0M141.7 770.5h0M134.7 775.3h0M136.5 770.0h0M142.8 772.8h0M131.6 774.1h0M138.0 773.1h0M136.8 772.3h0M137.8 744.0h0M135.8 773.1h0M134.1 775.4h0M136.7 771.1h0M150.7 776.5h0M136.0 774.1h0M131.5 771.9h0M140.8 767.5h0M135.3 777.1h0M132.1 777.1h0M138.4 751.7h0M131.9 775.8h0M131.5 772.8h0M135.4 763.2h0M135.4 766.7h0M153.9 776.0h0M132.5 774.5h0M132.6 744.9h0M132.0 777.0h0M135.6 774.4h0M137.4 769.0h0M134.4 769.0h0M131.6 757.2h0M134.6 776.6h0M132.9 775.6h0M143.1 765.1h0M138.6 766.5h0M134.4 776.5h0M137.6 777.0h0M132.3 772.8h0M137.7 771.1h0M134.5 773.6h0M131.2 775.6h0M135.7 758.0h0M133.2 768.5h0M135.0 773.6h0M134.8 742.3h0M132.9 732.2h0M131.8 761.4h0M132.6 775.5h0M133.6 745.9h0M132.2 752.6h0M141.4 774.4h0M135.8 776.2h0M134.3 771.5h0M134.2 765.8h0M142.5 767.7h0M133.5 744.5h0M132.9 771.0h0M135.0 775.8h0M135.5 768.6h0M134.0 773.9h0M133.6 774.5h0M131.2 762.7h0M131.2 774.4h0M133.1 772.6h0M131.7 775.7h0M137.3 774.0h0M132.9 752.4h0M132.4 774.7h0M133.8 766.3h0M143.2 770.5h0M134.7 743.9h0M132.8 776.1h0M130.9 760.5h0M132.6 777.2h0M138.9 724.3h0M141.6 775.7h0M132.3 776.3h0M133.3 771.2h0M132.4 775.0h0M144.2 767.7h0M138.9 770.3h0M134.7 775.7h0M133.4 766.8h0M139.0 763.1h0M133.1 776.4h0M136.5 775.9h0M133.3 775.3h0M136.6 773.9h0M132.1 772.2h0M134.8 773.5h0M138.0 755.0h0M140.3 765.8h0M134.4 773.3h0M131.5 775.1h0M135.3 777.1h0M136.9 775.7h0M133.3 766.9h0M136.8 769.6h0M135.2 774.6h0M134.7 733.2h0M136.3 747.4h0M130.9 777.2h0M137.3 765.6h0M135.2 752.4h0M131.2 761.3h0M131.1 754.5h0M132.6 773.2h0M131.2 773.7h0M134.5 777.1h0M134.2 773.9h0M131.9 760.8h0M134.4 763.2h0M135.6 706.7h0M131.1 772.4h0M131.2 762.3h0M140.1 773.3h0M135.2 769.0h0M131.5 776.5h0M131.7 777.1h0M132.1 767.0h0M133.2 762.8h0M133.7 717.8h0M134.4 759.8h0M132.4 765.7h0M134.7 772.9h0M132.3 769.8h0M134.3 774.2h0M132.0 762.8h0M132.4 766.9h0M134.2 772.3h0M132.0 757.3h0M141.4 774.9h0M134.2 775.6h0M134.1 769.4h0M131.8 776.8h0M132.2 776.6h0M131.5 771.2h0M136.9 773.1h0M131.2 772.2h0M142.4 777.1h0M135.7 756.4h0M136.2 715.4h0M149.0 772.2h0M146.0 771.9h0M131.8 776.2h0M134.1 772.3h0M134.8 767.8h0M135.2 771.9h0M132.2 768.5h0M131.5 769.1h0M131.3 771.9h0M133.5 764.9h0M134.6 773.0h0M132.5 768.8h0M133.3 766.4h0M131.1 776.7h0M133.0 768.1h0M131.9 776.3h0M132.6 771.8h0M141.1 759.8h0M136.2 773.4h0M137.7 771.5h0M131.7 770.4h0M134.9 724.4h0M137.0 760.7h0M131.7 772.5h0M132.8 766.8h0M132.0 770.7h0M133.4 755.2h0M133.2 774.8h0M134.5 774.8h0M136.0 777.1h0M134.6 717.5h0M133.2 768.1h0M142.6 739.9h0M134.4 776.8h0M132.0 756.6h0M132.8 756.2h0M132.0 765.0h0M135.4 772.1h0M131.2 743.7h0M133.1 773.1h0M135.9 766.6h0M132.3 777.2h0M133.3 767.3h0M137.7 776.1h0M134.1 774.5h0M130.9 775.9h0M138.5 777.1h0M133.6 767.4h0M133.9 776.8h0M140.6 773.2h0M131.4 770.3h0M133.6 774.0h0M132.3 776.7h0M130.9 763.8h0M135.6 770.1h0M133.8 769.8h0M131.3 777.2h0M133.1 770.4h0M147.1 768.0h0M131.0 772.4h0M136.1 769.3h0M133.1 760.7h0M134.4 756.7h0M137.7 776.6h0M133.6 776.4h0M135.0 766.0h0M135.3 773.4h0M136.8 774.3h0M151.3 771.8h0M136.4 730.8h0M133.6 773.7h0M133.0 761.3h0M132.6 776.2h0M131.9 752.1h0M135.7 774.9h0M138.0 770.6h0M145.6 772.7h0M132.6 775.1h0M131.6 768.3h0M137.0 771.1h0M132.2 775.0h0M137.8 772.1h0M133.5 761.1h0M131.7 773.3h0M136.6 776.1h0M131.3 771.8h0M132.1 777.1h0M136.1 776.5h0M134.0 774.5h0M133.5 760.0h0M133.7 769.6h0M132.4 749.0h0M143.7 768.3h0M132.0 749.0h0M131.2 758.4h0M141.3 775.2h0M131.4 756.4h0M133.6 777.0h0M138.8 772.2h0M135.1 774.8h0M136.3 775.1h0M134.3 762.7h0M132.8 745.9h0M132.1 769.8h0M132.2 774.5h0M131.5 757.4h0M133.4 776.7h0M131.7 773.0h0M133.7 775.3h0M137.7 771.1h0M136.0 776.0h0M131.5 767.0h0M140.7 765.4h0M133.3 776.3h0M136.7 776.7h0M131.3 769.0h0M131.9 772.9h0M137.5 774.9h0M132.4 774.3h0M132.6 771.4h0M131.3 773.5h0M133.1 763.2h0M139.9 776.0h0M131.0 774.7h0M132.5 762.9h0M132.9 763.8h0M132.7 764.1h0M133.9 774.9h0M131.9 750.6h0M131.3 773.3h0M132.6 775.7h0M135.1 772.6h0M136.7 774.8h0M133.3 775.7h0M133.8 752.7h0M134.8 771.7h0M134.0 757.4h0M136.4 770.4h0M131.9 745.3h0M133.4 755.5h0M134.2 770.1h0M132.2 763.2h0M135.9 777.2h0M131.9 776.5h0M131.3 774.9h0M139.9 774.6h0M131.6 771.7h0M131.2 761.6h0M133.2 776.2h0M137.5 775.3h0M132.3 763.1h0M134.0 771.3h0M131.9 771.7h0M140.5 773.9h0M133.6 776.7h0M135.4 771.7h0M131.6 766.9h0M136.4 770.0h0M134.3 775.8h0M135.8 775.8h0M131.9 739.4h0M145.9 776.4h0M138.8 775.4h0M132.6 777.0h0M134.8 767.8h0M132.2 747.0h0M135.4 750.4h0M134.1 726.3h0M145.6 771.6h0M135.7 725.8h0M141.6 776.9h0M132.3 765.7h0M133.6 734.3h0M136.1 774.7h0M133.4 773.9h0M139.5 775.8h0M132.2 756.8h0M138.8 775.8h0M132.5 772.0h0M131.9 768.2h0M133.3 762.7h0M136.0 775.1h0M154.5 776.9h0M134.6 774.6h0M132.7 776.9h0M131.0 776.7h0M132.7 774.4h0M133.5 773.1h0M131.8 741.5h0M141.5 777.0h0M133.3 768.9h0M132.0 753.0h0M133.8 765.1h0M149.4 773.7h0M132.4 769.8h0M133.2 757.7h0M132.5 773.7h0M131.6 769.9h0M137.7 767.5h0M139.4 715.2h0M132.8 773.2h0M132.1 774.5h0M135.1 775.7h0M133.7 773.3h0M133.4 755.3h0M136.7 748.6h0M133.7 725.8h0M132.1 760.0h0M133.6 765.8h0M131.4 769.4h0M136.3 766.4h0M138.7 777.3h0M147.0 777.3h0M132.4 773.0h0M132.8 773.0h0M132.2 772.8h0M136.8 763.7h0M141.8 773.1h0M134.6 758.6h0M138.0 752.1h0M132.3 743.8h0M139.8 773.4h0M131.6 776.6h0M131.9 776.0h0M134.2 776.2h0M132.2 771.3h0M131.0 770.9h0M138.2 776.8h0M132.2 768.9h0M133.0 776.9h0M133.3 769.4h0M135.1 766.1h0M132.4 730.5h0M136.5 777.1h0M136.3 772.0h0M136.5 773.0h0M131.5 763.3h0M143.9 776.0h0M132.5 769.8h0M134.3 752.8h0M131.4 767.2h0M132.4 771.9h0M131.9 773.5h0M136.9 755.3h0M133.8 767.5h0M135.5 772.0h0M138.0 709.3h0M134.6 777.0h0M132.8 775.7h0M131.8 769.6h0M133.8 759.1h0M133.8 773.5h0M131.3 769.2h0M135.0 771.1h0M134.8 775.6h0M134.7 776.4h0M144.3 775.7h0M134.3 776.5h0M132.1 760.0h0M136.6 762.0h0M139.6 773.8h0M132.5 777.3h0M135.8 737.1h0M134.2 770.9h0M131.2 776.1h0M131.7 771.7h0M142.2 763.0h0M130.9 773.8h0M137.1 777.2h0M141.4 777.0h0M135.9 766.2h0M144.0 774.9h0M138.5 775.3h0M142.4 775.3h0M131.8 774.9h0M138.6 767.2h0M135.4 772.8h0M136.5 773.0h0M135.6 776.2h0M131.1 761.2h0M147.2 774.4h0M131.2 767.7h0M133.2 734.3h0M138.9 776.0h0M135.8 773.1h0M131.5 752.2h0M134.5 771.9h0M133.8 741.5h0M132.9 772.0h0M131.1 767.6h0M131.9 775.1h0M137.0 775.0h0M137.1 771.8h0M133.6 773.7h0M133.1 751.9h0M131.4 777.3h0M133.2 774.1h0M133.7 749.9h0M131.9 775.6h0M131.8 777.0h0M133.4 773.5h0M135.0 768.8h0M132.2 768.6h0M135.0 775.9h0M134.5 773.1h0M136.4 753.9h0M131.0 776.9h0M134.5 772.0h0M138.2 759.0h0M140.9 765.5h0M135.1 773.7h0M135.7 775.3h0M136.2 774.5h0M151.4 776.3h0M133.8 728.0h0M134.3 772.7h0M133.1 775.3h0M133.6 773.8h0M134.2 776.0h0M132.4 770.3h0M135.2 754.2h0M133.1 774.3h0M132.6 770.7h0M131.6 764.0h0M144.4 776.8h0M132.7 760.5h0M136.3 776.8h0M139.2 745.5h0M135.5 770.8h0M131.3 775.4h0M136.4 773.6h0M136.5 772.4h0M141.5 739.4h0M131.2 772.0h0M132.1 776.4h0M139.4 775.0h0M134.1 776.6h0M133.5 743.5h0M133.1 774.9h0M133.2 754.8h0M131.9 773.2h0M142.3 776.5h0M139.7 777.2h0M131.3 771.8h0M135.6 733.5h0M134.0 773.1h0M132.5 758.4h0M132.1 774.9h0M140.4 745.0h0M134.9 767.7h0M135.7 775.5h0M133.0 763.0h0M136.7 776.9h0M133.4 775.0h0M133.7 774.7h0M136.2 768.7h0M131.4 768.4h0M133.4 769.1h0M135.1 775.6h0M135.0 763.2h0M134.1 776.0h0M140.9 773.1h0M136.0 735.8h0M131.7 747.2h0M135.8 776.1h0M133.8 777.0h0M138.6 759.4h0M139.0 776.5h0M133.6 767.2h0M135.1 776.5h0M134.0 738.0h0M131.5 756.0h0M134.7 777.0h0M141.4 774.7h0M131.8 761.6h0M134.9 773.1h0M132.8 773.4h0M137.1 754.4h0M133.5 775.3h0M137.9 777.1h0M131.0 777.0h0M138.7 772.0h0M136.6 775.8h0M130.9 770.2h0M140.8 775.9h0M131.8 777.1h0M132.7 774.0h0M131.1 770.8h0M133.3 739.8h0M133.0 766.4h0M131.7 775.9h0M134.7 748.1h0M139.3 774.5h0M144.4 767.5h0M131.5 773.7h0M131.6 757.5h0M131.8 773.9h0M138.7 776.5h0M132.8 777.1h0M135.1 777.0h0M134.2 772.6h0M131.4 773.4h0M139.1 775.3h0M138.5 763.4h0M137.2 775.0h0M131.1 768.4h0M131.9 773.5h0M135.6 776.4h0M133.5 777.1h0M142.1 771.9h0M145.1 774.1h0M132.7 775.7h0M131.0 761.4h0M140.9 776.7h0M135.1 776.6h0M146.6 773.9h0M136.8 749.1h0M135.6 770.0h0M133.7 766.1h0M131.4 756.7h0M133.3 775.1h0M132.2 772.5h0M131.1 767.2h0M133.8 774.5h0M134.4 728.0h0M138.0 768.7h0M132.4 770.7h0M145.6 772.6h0M134.7 774.0h0M135.3 776.8h0M140.2 765.9h0M133.0 722.1h0M131.8 736.0h0M132.5 767.1h0M133.3 754.8h0M130.9 770.9h0M133.7 775.7h0M166.6 776.6h0M133.4 745.1h0M132.9 761.1h0M130.9 774.3h0M136.0 773.6h0M134.5 768.3h0M135.9 769.6h0M131.9 775.9h0M137.1 757.3h0M131.8 770.2h0M144.3 774.9h0M139.3 774.6h0M136.5 772.7h0M133.5 766.9h0M131.5 761.6h0M132.2 774.1h0M137.2 745.0h0M134.2 771.7h0M131.4 769.1h0M135.2 775.3h0M132.9 777.0h0M139.6 771.5h0M135.9 776.9h0M131.7 760.4h0M131.1 773.3h0M132.3 767.3h0M132.1 758.1h0M134.5 770.9h0M139.0 777.2h0M133.5 767.5h0M135.4 774.4h0M134.7 769.2h0M138.8 769.9h0M131.9 748.2h0M131.8 775.5h0M132.4 769.1h0M137.1 775.4h0M134.3 777.2h0M133.7 773.4h0M143.2 766.0h0M131.2 765.2h0M136.6 742.3h0M134.8 760.1h0M132.0 769.0h0M133.2 742.0h0M138.8 757.4h0M133.3 773.0h0M137.2 765.1h0M131.6 743.8h0M133.7 764.8h0M136.3 770.5h0M131.4 759.7h0M134.2 765.3h0M134.6 775.7h0M139.5 767.6h0M132.5 772.0h0M132.0 773.2h0M132.5 765.0h0M134.8 760.0h0M131.2 773.0h0M131.6 776.5h0M132.2 771.4h0M139.6 777.3h0M131.6 761.5h0M132.4 767.4h0M131.3 774.7h0M145.4 774.5h0M138.4 773.4h0M139.2 771.0h0M134.2 773.6h0M134.8 764.7h0M136.1 723.2h0M140.4 777.1h0M131.3 757.9h0M131.4 742.1h0M133.2 771.7h0M140.4 772.8h0M131.6 757.7h0M131.5 770.2h0M136.3 771.8h0M132.2 766.0h0M137.5 755.4h0M134.8 775.3h0M133.1 777.0h0M132.6 772.8h0M132.9 771.7h0M138.3 765.4h0M135.3 775.5h0M137.3 775.6h0M132.4 767.1h0M137.3 769.6h0M134.8 759.6h0M136.5 774.9h0M140.6 774.2h0M135.1 772.5h0M136.6 776.7h0M136.7 765.3h0M131.2 775.8h0M132.3 773.9h0M131.3 771.2h0M133.0 776.3h0M134.1 767.7h0M132.6 772.1h0M131.4 770.3h0M135.6 777.3h0M137.6 774.2h0M136.4 776.6h0M138.8 773.9h0M136.7 775.9h0M140.0 775.6h0M133.6 772.5h0M134.6 763.2h0M136.2 756.7h0M133.5 775.9h0M132.2 771.2h0M132.4 771.1h0M135.8 744.4h0M132.1 777.0h0M131.3 776.4h0M133.2 773.5h0M131.6 761.1h0M136.7 773.7h0M133.2 772.6h0M136.0 777.1h0M133.7 775.0h0M131.6 762.1h0M131.0 768.7h0M132.0 764.4h0M140.2 772.6h0M131.8 766.5h0M132.0 768.6h0M132.1 773.7h0M134.2 769.2h0M132.6 774.1h0M134.3 775.1h0M134.3 770.7h0M137.8 768.9h0M133.4 764.8h0M133.9 772.8h0M140.2 775.7h0M134.6 777.1h0M141.7 777.3h0M134.4 728.1h0M131.9 774.3h0M132.7 776.4h0M133.9 755.1h0M138.9 773.9h0M132.5 769.7h0M136.4 775.4h0M133.7 775.0h0M132.8 777.1h0M133.1 767.2h0M135.2 764.3h0M147.2 775.6h0M138.0 777.1h0M136.6 772.4h0M136.4 772.4h0M132.9 767.6h0M135.5 755.7h0M137.2 777.1h0M136.1 769.9h0M138.1 771.5h0M134.3 758.4h0M135.2 771.6h0M131.8 766.5h0M135.3 771.6h0M134.2 774.5h0M133.5 752.5h0M136.1 776.2h0M135.1 754.9h0M131.5 759.2h0M134.2 776.8h0M132.8 777.2h0M133.3 771.3h0M135.3 718.1h0M137.8 756.2h0M132.9 776.3h0M139.4 768.6h0M132.6 770.6h0M140.2 767.9h0M131.8 776.5h0M133.0 773.1h0M137.8 763.7h0M133.4 754.5h0M131.4 769.8h0M142.5 773.2h0M134.2 728.6h0M134.8 748.8h0M131.3 774.9h0M136.8 769.9h0M131.0 760.0h0M131.7 776.7h0M135.8 762.7h0M132.7 775.9h0M131.6 772.8h0M144.2 770.7h0M133.4 766.5h0M131.5 758.9h0M139.0 769.7h0M137.4 773.3h0M131.4 755.5h0M139.5 766.0h0M137.2 775.4h0M136.5 772.1h0M135.5 775.4h0M135.3 772.7h0M133.7 777.0h0M134.4 774.8h0M132.8 768.2h0M130.9 767.1h0M132.3 777.3h0M138.4 776.3h0M131.0 761.5h0M131.5 771.2h0M138.9 730.6h0M134.4 773.3h0M136.2 774.3h0M133.4 738.4h0M132.8 777.1h0M131.9 765.8h0M133.8 771.6h0M136.9 770.4h0M132.7 773.2h0M132.2 768.4h0M146.3 768.0h0M132.9 773.3h0M131.9 769.4h0M131.1 762.2h0M135.7 714.5h0M134.7 759.7h0M141.3 772.1h0M136.8 776.9h0M132.1 776.8h0M140.4 775.0h0M140.0 767.5h0M134.8 766.9h0M134.3 775.0h0M137.3 775.2h0M137.7 774.0h0M134.4 774.4h0M134.0 776.8h0M132.4 768.2h0M131.7 772.4h0M134.8 763.4h0M137.0 775.5h0M132.2 774.4h0M131.7 772.1h0M132.9 776.2h0M133.5 776.9h0M134.3 773.9h0M142.1 764.8h0M132.3 764.6h0M141.9 774.7h0M156.4 776.6h0M141.4 775.4h0M139.4 774.9h0M144.2 764.0h0M141.9 776.7h0M137.6 776.8h0M156.7 773.2h0M152.2 775.9h0M164.3 772.8h0M148.2 777.2h0M158.3 776.9h0M150.8 775.9h0M144.5 776.6h0M161.5 766.9h0M159.8 774.4h0M137.7 766.6h0M152.3 777.1h0M156.1 769.2h0M149.5 777.2h0M151.8 775.2h0M157.1 777.2h0M156.3 777.2h0M162.0 777.0h0M155.7 775.9h0M153.0 775.0h0M154.6 776.8h0M132.2 774.3h0M132.8 775.6h0M146.8 775.1h0M164.2 770.0h0M135.9 775.3h0M143.3 774.6h0M156.9 777.1h0M135.1 776.1h0M133.0 773.6h0M133.7 775.9h0M165.4 776.9h0M139.9 773.1h0M131.8 769.7h0M159.3 771.3h0M147.0 774.4h0M130.6 772.4h0M146.0 776.4h0M150.1 769.6h0M155.1 771.0h0M157.5 766.6h0M157.3 773.2h0M139.1 776.4h0M163.0 776.1h0M161.5 770.3h0M155.8 777.3h0M146.5 775.2h0M156.0 774.5h0M160.5 777.3h0M131.4 775.7h0M156.4 774.4h0M131.2 776.4h0M164.9 776.7h0M146.5 776.3h0M134.1 769.0h0M132.9 774.4h0M146.9 775.3h0M138.1 776.9h0M155.5 772.6h0M139.7 774.8h0M159.7 772.2h0M130.4 775.0h0M138.7 776.1h0M145.0 774.9h0M155.0 777.2h0M144.9 776.8h0M138.4 774.1h0M141.0 776.8h0M153.4 769.3h0M153.3 772.9h0M142.3 777.3h0M145.1 776.8h0M163.9 769.4h0M160.4 773.2h0M137.4 775.4h0M146.6 684.3h0M138.2 693.5h0M140.5 702.5h0M142.5 702.5h0M159.0 722.0h0M152.6 747.0h0M156.5 762.5h0M167.5 772.0h0M165.5 774.0h0" stroke="#F8766D" stroke-width="1.8" stroke-linecap="round" fill="none"/>
<path d="M56.5 630.1V787.7H172.9" stroke="#8a8a8a" stroke-width="0.85" fill="none"/>
<path d="M55.3 636.4H56.5M55.3 684.9H56.5M55.3 733.3H56.5M55.3 777.7H56.5M58.9 787.7V788.9M87.7 787.7V788.9M115.6 787.7V788.9M130.2 787.7V788.9M137.8 787.7V788.9M165.8 787.7V788.9" stroke="#8a8a8a" stroke-width="0.6" fill="none"/>
<text x="54.7" y="637.65" font-size="3.3" class="sans" text-anchor="end" fill="#666">60</text>
<text x="54.7" y="686.15" font-size="3.3" class="sans" text-anchor="end" fill="#666">40</text>
<text x="54.7" y="734.55" font-size="3.3" class="sans" text-anchor="end" fill="#666">20</text>
<text x="54.7" y="778.95" font-size="3.3" class="sans" text-anchor="end" fill="#666">1.301</text>
<text x="58.9" y="792.3" font-size="3.3" class="sans" text-anchor="middle" fill="#666">-10</text>
<text x="87.7" y="792.3" font-size="3.3" class="sans" text-anchor="middle" fill="#666">-5</text>
<text x="115.6" y="792.3" font-size="3.3" class="sans" text-anchor="middle" fill="#666">-1</text>
<text x="130.2" y="792.3" font-size="3.3" class="sans" text-anchor="middle" fill="#666">1</text>
<text x="137.8" y="792.3" font-size="3.3" class="sans" text-anchor="middle" fill="#666">2</text>
<text x="165.8" y="792.3" font-size="3.3" class="sans" text-anchor="middle" fill="#666">6</text>
<text x="114.9" y="795.8" font-size="3.75" class="sans" text-anchor="middle" fill="#000">log2FoldChange</text>
<text transform="translate(45.4 709) rotate(-90)" font-size="3.9" class="sans" text-anchor="middle" fill="#000">-log10(padj)</text>
<text x="73.4" y="625.5" font-size="12.25" class="serif bt">Control vs FB1+QR</text>
<text x="179.1" y="698.1" font-size="3.75" class="sans" fill="#333">padj&lt;0.05</text>
<text x="179.1" y="702.3" font-size="3.75" class="sans" fill="#333">|log2FoldChange|&gt;1</text>
<rect x="180.85" y="707.15" width="1.5" height="1.5" fill="#F8766D"/>
<text x="186.4" y="709.1" font-size="3.4" class="sans" fill="#444">UP 1641</text>
<rect x="180.85" y="713.05" width="1.5" height="1.5" fill="#00BA38"/>
<text x="186.4" y="715" font-size="3.4" class="sans" fill="#444">DOWN 1365</text>
<rect x="180.85" y="719.15" width="1.5" height="1.5" fill="#619CFF"/>
<text x="186.4" y="721.1" font-size="3.4" class="sans" fill="#444">NO 17681</text>
</svg>
</body></html>
